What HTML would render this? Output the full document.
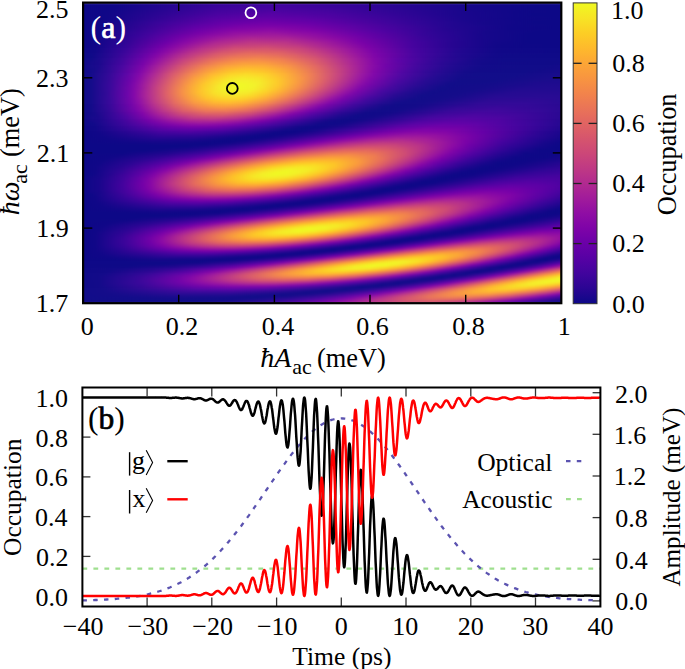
<!DOCTYPE html>
<html><head><meta charset="utf-8"><style>html,body{margin:0;padding:0;background:#fff;overflow:hidden;width:685px;height:669px;}svg{display:block;}</style></head>
<body><svg width="685" height="669" viewBox="0 0 685 669">
<defs><linearGradient id="h0"><stop offset="0" stop-color="#0d0887"/><stop offset=".067" stop-color="#100788"/><stop offset=".3" stop-color="#38049a"/><stop offset=".433" stop-color="#3e049c"/><stop offset=".683" stop-color="#240691"/><stop offset=".842" stop-color="#130789"/><stop offset=".967" stop-color="#0d0887"/><stop offset="1" stop-color="#0d0887"/></linearGradient><linearGradient id="h1"><stop offset="0" stop-color="#0d0887"/><stop offset=".067" stop-color="#100788"/><stop offset=".275" stop-color="#38049a"/><stop offset=".4" stop-color="#41049d"/><stop offset=".55" stop-color="#370499"/><stop offset=".808" stop-color="#16078a"/><stop offset=".95" stop-color="#0d0887"/><stop offset="1" stop-color="#0d0887"/></linearGradient><linearGradient id="h2"><stop offset="0" stop-color="#0d0887"/><stop offset=".067" stop-color="#100788"/><stop offset=".283" stop-color="#3e049c"/><stop offset=".417" stop-color="#46039f"/><stop offset=".583" stop-color="#350498"/><stop offset=".817" stop-color="#16078a"/><stop offset=".958" stop-color="#0d0887"/><stop offset="1" stop-color="#0d0887"/></linearGradient><linearGradient id="h3"><stop offset="0" stop-color="#0d0887"/><stop offset=".058" stop-color="#100788"/><stop offset=".292" stop-color="#43039e"/><stop offset=".408" stop-color="#4903a0"/><stop offset=".525" stop-color="#41049d"/><stop offset=".792" stop-color="#19068c"/><stop offset=".95" stop-color="#0d0887"/><stop offset="1" stop-color="#0d0887"/></linearGradient><linearGradient id="h4"><stop offset="0" stop-color="#0d0887"/><stop offset=".058" stop-color="#100788"/><stop offset=".275" stop-color="#44039e"/><stop offset=".392" stop-color="#4e02a2"/><stop offset=".492" stop-color="#4903a0"/><stop offset=".8" stop-color="#19068c"/><stop offset=".9" stop-color="#100788"/><stop offset="1" stop-color="#0d0887"/></linearGradient><linearGradient id="h5"><stop offset="0" stop-color="#0d0887"/><stop offset=".05" stop-color="#100788"/><stop offset=".283" stop-color="#4903a0"/><stop offset=".392" stop-color="#5502a4"/><stop offset=".517" stop-color="#4903a0"/><stop offset=".783" stop-color="#1b068d"/><stop offset=".942" stop-color="#0d0887"/><stop offset="1" stop-color="#0d0887"/></linearGradient><linearGradient id="h6"><stop offset="0" stop-color="#0d0887"/><stop offset=".05" stop-color="#100788"/><stop offset=".283" stop-color="#4e02a2"/><stop offset=".392" stop-color="#5901a5"/><stop offset=".517" stop-color="#4e02a2"/><stop offset=".783" stop-color="#1b068d"/><stop offset=".942" stop-color="#0d0887"/><stop offset="1" stop-color="#0d0887"/></linearGradient><linearGradient id="h7"><stop offset="0" stop-color="#0d0887"/><stop offset=".05" stop-color="#100788"/><stop offset=".267" stop-color="#5002a2"/><stop offset=".358" stop-color="#5e01a6"/><stop offset=".45" stop-color="#5c01a6"/><stop offset=".625" stop-color="#3c049b"/><stop offset=".792" stop-color="#1b068d"/><stop offset=".9" stop-color="#100788"/><stop offset="1" stop-color="#0d0887"/></linearGradient><linearGradient id="h8"><stop offset="0" stop-color="#0d0887"/><stop offset=".05" stop-color="#100788"/><stop offset=".275" stop-color="#5801a4"/><stop offset=".383" stop-color="#6600a7"/><stop offset=".492" stop-color="#5c01a6"/><stop offset=".792" stop-color="#1b068d"/><stop offset=".9" stop-color="#100788"/><stop offset="1" stop-color="#0d0887"/></linearGradient><linearGradient id="h9"><stop offset="0" stop-color="#0d0887"/><stop offset=".042" stop-color="#100788"/><stop offset=".158" stop-color="#370499"/><stop offset=".292" stop-color="#6100a7"/><stop offset=".383" stop-color="#6c00a8"/><stop offset=".475" stop-color="#6400a7"/><stop offset=".642" stop-color="#3e049c"/><stop offset=".8" stop-color="#1b068d"/><stop offset=".942" stop-color="#0d0887"/><stop offset="1" stop-color="#0d0887"/></linearGradient><linearGradient id="h10"><stop offset="0" stop-color="#0d0887"/><stop offset=".042" stop-color="#100788"/><stop offset=".183" stop-color="#44039e"/><stop offset=".292" stop-color="#6700a8"/><stop offset=".383" stop-color="#7401a8"/><stop offset=".483" stop-color="#6900a8"/><stop offset=".7" stop-color="#310597"/><stop offset=".833" stop-color="#16078a"/><stop offset=".95" stop-color="#0d0887"/><stop offset="1" stop-color="#0d0887"/></linearGradient><linearGradient id="h11"><stop offset="0" stop-color="#0d0887"/><stop offset=".042" stop-color="#100788"/><stop offset=".25" stop-color="#6100a7"/><stop offset=".342" stop-color="#7801a8"/><stop offset=".442" stop-color="#7701a8"/><stop offset=".55" stop-color="#5e01a6"/><stop offset=".767" stop-color="#220690"/><stop offset=".9" stop-color="#100788"/><stop offset="1" stop-color="#0d0887"/></linearGradient><linearGradient id="h12"><stop offset="0" stop-color="#0d0887"/><stop offset=".042" stop-color="#100788"/><stop offset=".233" stop-color="#6100a7"/><stop offset=".317" stop-color="#7b02a8"/><stop offset=".392" stop-color="#8305a7"/><stop offset=".475" stop-color="#7801a8"/><stop offset=".642" stop-color="#46039f"/><stop offset=".775" stop-color="#220690"/><stop offset=".9" stop-color="#100788"/><stop offset="1" stop-color="#0d0887"/></linearGradient><linearGradient id="h13"><stop offset="0" stop-color="#0d0887"/><stop offset=".033" stop-color="#100788"/><stop offset=".1" stop-color="#2a0593"/><stop offset=".233" stop-color="#6700a8"/><stop offset=".308" stop-color="#8104a7"/><stop offset=".392" stop-color="#8a09a5"/><stop offset=".475" stop-color="#7e03a8"/><stop offset=".6" stop-color="#5601a4"/><stop offset=".758" stop-color="#260591"/><stop offset=".892" stop-color="#100788"/><stop offset="1" stop-color="#0d0887"/></linearGradient><linearGradient id="h14"><stop offset="0" stop-color="#0d0887"/><stop offset=".033" stop-color="#100788"/><stop offset=".142" stop-color="#3f049c"/><stop offset=".242" stop-color="#7201a8"/><stop offset=".317" stop-color="#8b0aa5"/><stop offset=".392" stop-color="#920fa3"/><stop offset=".492" stop-color="#8104a7"/><stop offset=".625" stop-color="#5102a3"/><stop offset=".742" stop-color="#2c0594"/><stop offset=".842" stop-color="#16078a"/><stop offset=".95" stop-color="#0d0887"/><stop offset="1" stop-color="#0d0887"/></linearGradient><linearGradient id="h15"><stop offset="0" stop-color="#0d0887"/><stop offset=".033" stop-color="#100788"/><stop offset=".15" stop-color="#48039f"/><stop offset=".242" stop-color="#7801a8"/><stop offset=".317" stop-color="#9410a2"/><stop offset=".392" stop-color="#9a169f"/><stop offset=".475" stop-color="#8d0ba5"/><stop offset=".575" stop-color="#6900a8"/><stop offset=".717" stop-color="#330597"/><stop offset=".842" stop-color="#16078a"/><stop offset=".933" stop-color="#0d0887"/><stop offset="1" stop-color="#0d0887"/></linearGradient><linearGradient id="h16"><stop offset="0" stop-color="#0d0887"/><stop offset=".033" stop-color="#100788"/><stop offset=".117" stop-color="#38049a"/><stop offset=".208" stop-color="#6f00a8"/><stop offset=".267" stop-color="#8b0aa5"/><stop offset=".333" stop-color="#9e199d"/><stop offset=".408" stop-color="#a11b9b"/><stop offset=".492" stop-color="#8e0ca4"/><stop offset=".575" stop-color="#6e00a8"/><stop offset=".708" stop-color="#370499"/><stop offset=".825" stop-color="#19068c"/><stop offset=".933" stop-color="#0d0887"/><stop offset="1" stop-color="#0d0887"/></linearGradient><linearGradient id="h17"><stop offset="0" stop-color="#0d0887"/><stop offset=".033" stop-color="#100788"/><stop offset=".125" stop-color="#41049d"/><stop offset=".208" stop-color="#7501a8"/><stop offset=".283" stop-color="#9a169f"/><stop offset=".35" stop-color="#aa2395"/><stop offset=".425" stop-color="#a72197"/><stop offset=".533" stop-color="#8606a6"/><stop offset=".617" stop-color="#5e01a6"/><stop offset=".742" stop-color="#2e0595"/><stop offset=".842" stop-color="#16078a"/><stop offset=".933" stop-color="#0d0887"/><stop offset="1" stop-color="#0d0887"/></linearGradient><linearGradient id="h18"><stop offset="0" stop-color="#0d0887"/><stop offset=".025" stop-color="#100788"/><stop offset=".083" stop-color="#2a0593"/><stop offset=".183" stop-color="#6a00a8"/><stop offset=".233" stop-color="#8b0aa5"/><stop offset=".3" stop-color="#a72197"/><stop offset=".358" stop-color="#b22b8f"/><stop offset=".433" stop-color="#ad2793"/><stop offset=".517" stop-color="#920fa3"/><stop offset=".575" stop-color="#7701a8"/><stop offset=".708" stop-color="#3a049a"/><stop offset=".825" stop-color="#19068c"/><stop offset=".933" stop-color="#0d0887"/><stop offset="1" stop-color="#0d0887"/></linearGradient><linearGradient id="h19"><stop offset="0" stop-color="#0d0887"/><stop offset=".025" stop-color="#100788"/><stop offset=".083" stop-color="#2c0594"/><stop offset=".175" stop-color="#6a00a8"/><stop offset=".217" stop-color="#8808a6"/><stop offset=".283" stop-color="#ab2494"/><stop offset=".35" stop-color="#ba3388"/><stop offset=".425" stop-color="#b6308b"/><stop offset=".517" stop-color="#99159f"/><stop offset=".575" stop-color="#7b02a8"/><stop offset=".692" stop-color="#43039e"/><stop offset=".775" stop-color="#260591"/><stop offset=".858" stop-color="#130789"/><stop offset=".933" stop-color="#0d0887"/><stop offset="1" stop-color="#0d0887"/></linearGradient><linearGradient id="h20"><stop offset="0" stop-color="#0d0887"/><stop offset=".025" stop-color="#100788"/><stop offset=".092" stop-color="#330597"/><stop offset=".175" stop-color="#7100a8"/><stop offset=".217" stop-color="#8f0da4"/><stop offset=".275" stop-color="#b02991"/><stop offset=".35" stop-color="#c13b82"/><stop offset=".417" stop-color="#bf3984"/><stop offset=".492" stop-color="#aa2395"/><stop offset=".583" stop-color="#7b02a8"/><stop offset=".683" stop-color="#48039f"/><stop offset=".767" stop-color="#280592"/><stop offset=".858" stop-color="#130789"/><stop offset=".933" stop-color="#0d0887"/><stop offset="1" stop-color="#0d0887"/></linearGradient><linearGradient id="h21"><stop offset="0" stop-color="#0d0887"/><stop offset=".025" stop-color="#100788"/><stop offset=".083" stop-color="#2f0596"/><stop offset=".167" stop-color="#7100a8"/><stop offset=".2" stop-color="#8b0aa5"/><stop offset=".258" stop-color="#b02991"/><stop offset=".317" stop-color="#c43e7f"/><stop offset=".383" stop-color="#c9447a"/><stop offset=".45" stop-color="#be3885"/><stop offset=".533" stop-color="#9c179e"/><stop offset=".592" stop-color="#7b02a8"/><stop offset=".692" stop-color="#44039e"/><stop offset=".775" stop-color="#260591"/><stop offset=".867" stop-color="#100788"/><stop offset="1" stop-color="#0d0887"/></linearGradient><linearGradient id="h22"><stop offset="0" stop-color="#0d0887"/><stop offset=".025" stop-color="#100788"/><stop offset=".092" stop-color="#38049a"/><stop offset=".158" stop-color="#6f00a8"/><stop offset=".192" stop-color="#8b0aa5"/><stop offset=".25" stop-color="#b32c8e"/><stop offset=".317" stop-color="#cc4778"/><stop offset=".383" stop-color="#d04d73"/><stop offset=".45" stop-color="#c5407e"/><stop offset=".525" stop-color="#a62098"/><stop offset=".592" stop-color="#7e03a8"/><stop offset=".683" stop-color="#4903a0"/><stop offset=".767" stop-color="#280592"/><stop offset=".85" stop-color="#130789"/><stop offset=".925" stop-color="#0d0887"/><stop offset="1" stop-color="#0d0887"/></linearGradient><linearGradient id="h23"><stop offset="0" stop-color="#0d0887"/><stop offset=".025" stop-color="#100788"/><stop offset=".092" stop-color="#3a049a"/><stop offset=".158" stop-color="#7501a8"/><stop offset=".192" stop-color="#920fa3"/><stop offset=".25" stop-color="#bb3488"/><stop offset=".317" stop-color="#d35171"/><stop offset=".383" stop-color="#d7566c"/><stop offset=".458" stop-color="#c9447a"/><stop offset=".542" stop-color="#a21d9a"/><stop offset=".6" stop-color="#7d03a8"/><stop offset=".692" stop-color="#46039f"/><stop offset=".792" stop-color="#20068f"/><stop offset=".867" stop-color="#100788"/><stop offset="1" stop-color="#0d0887"/></linearGradient><linearGradient id="h24"><stop offset="0" stop-color="#0d0887"/><stop offset=".025" stop-color="#100788"/><stop offset=".083" stop-color="#370499"/><stop offset=".15" stop-color="#7201a8"/><stop offset=".175" stop-color="#8a09a5"/><stop offset=".225" stop-color="#b32c8e"/><stop offset=".292" stop-color="#d35171"/><stop offset=".35" stop-color="#de5f65"/><stop offset=".417" stop-color="#da5a6a"/><stop offset=".492" stop-color="#c13b82"/><stop offset=".567" stop-color="#9613a1"/><stop offset=".608" stop-color="#7a02a8"/><stop offset=".7" stop-color="#43039e"/><stop offset=".783" stop-color="#220690"/><stop offset=".867" stop-color="#100788"/><stop offset="1" stop-color="#0d0887"/></linearGradient><linearGradient id="h25"><stop offset="0" stop-color="#0d0887"/><stop offset=".025" stop-color="#100788"/><stop offset=".092" stop-color="#3f049c"/><stop offset=".15" stop-color="#7801a8"/><stop offset=".175" stop-color="#910ea3"/><stop offset=".225" stop-color="#ba3388"/><stop offset=".283" stop-color="#d7566c"/><stop offset=".342" stop-color="#e4695e"/><stop offset=".408" stop-color="#e16462"/><stop offset=".483" stop-color="#ca457a"/><stop offset=".558" stop-color="#a01a9c"/><stop offset=".608" stop-color="#7d03a8"/><stop offset=".692" stop-color="#48039f"/><stop offset=".775" stop-color="#240691"/><stop offset=".858" stop-color="#100788"/><stop offset="1" stop-color="#0d0887"/></linearGradient><linearGradient id="h26"><stop offset="0" stop-color="#0d0887"/><stop offset=".017" stop-color="#0d0887"/><stop offset=".075" stop-color="#330597"/><stop offset=".133" stop-color="#6c00a8"/><stop offset=".158" stop-color="#8606a6"/><stop offset=".208" stop-color="#b52f8c"/><stop offset=".275" stop-color="#da5b69"/><stop offset=".325" stop-color="#e76f5a"/><stop offset=".375" stop-color="#ea7457"/><stop offset=".442" stop-color="#de6164"/><stop offset=".517" stop-color="#be3885"/><stop offset=".583" stop-color="#910ea3"/><stop offset=".617" stop-color="#7801a8"/><stop offset=".7" stop-color="#43039e"/><stop offset=".792" stop-color="#1d068e"/><stop offset=".883" stop-color="#0d0887"/><stop offset="1" stop-color="#0d0887"/></linearGradient><linearGradient id="h27"><stop offset="0" stop-color="#0d0887"/><stop offset=".017" stop-color="#0d0887"/><stop offset=".058" stop-color="#280592"/><stop offset=".117" stop-color="#5e01a6"/><stop offset=".15" stop-color="#8305a7"/><stop offset=".192" stop-color="#ad2793"/><stop offset=".242" stop-color="#d24f71"/><stop offset=".308" stop-color="#eb7556"/><stop offset=".367" stop-color="#ef7e50"/><stop offset=".408" stop-color="#eb7655"/><stop offset=".483" stop-color="#d45270"/><stop offset=".567" stop-color="#a11b9b"/><stop offset=".608" stop-color="#8004a8"/><stop offset=".683" stop-color="#4c02a1"/><stop offset=".758" stop-color="#280592"/><stop offset=".85" stop-color="#100788"/><stop offset="1" stop-color="#0d0887"/></linearGradient><linearGradient id="h28"><stop offset="0" stop-color="#0d0887"/><stop offset=".017" stop-color="#0d0887"/><stop offset=".083" stop-color="#3f049c"/><stop offset=".133" stop-color="#7501a8"/><stop offset=".158" stop-color="#920fa3"/><stop offset=".208" stop-color="#c23c81"/><stop offset=".267" stop-color="#e4695e"/><stop offset=".317" stop-color="#f1814d"/><stop offset=".358" stop-color="#f48948"/><stop offset=".417" stop-color="#ef7c51"/><stop offset=".492" stop-color="#d45270"/><stop offset=".567" stop-color="#a31e9a"/><stop offset=".608" stop-color="#8305a7"/><stop offset=".658" stop-color="#5c01a6"/><stop offset=".742" stop-color="#2e0595"/><stop offset=".825" stop-color="#130789"/><stop offset=".883" stop-color="#0d0887"/><stop offset="1" stop-color="#0d0887"/></linearGradient><linearGradient id="h29"><stop offset="0" stop-color="#0d0887"/><stop offset=".033" stop-color="#19068c"/><stop offset=".075" stop-color="#3a049a"/><stop offset=".125" stop-color="#7100a8"/><stop offset=".15" stop-color="#8e0ca4"/><stop offset=".208" stop-color="#c8437b"/><stop offset=".267" stop-color="#e97257"/><stop offset=".317" stop-color="#f68d45"/><stop offset=".367" stop-color="#f89441"/><stop offset=".417" stop-color="#f2844b"/><stop offset=".483" stop-color="#db5c68"/><stop offset=".558" stop-color="#ac2694"/><stop offset=".608" stop-color="#8305a7"/><stop offset=".658" stop-color="#5c01a6"/><stop offset=".725" stop-color="#350498"/><stop offset=".817" stop-color="#130789"/><stop offset=".875" stop-color="#0d0887"/><stop offset="1" stop-color="#0d0887"/></linearGradient><linearGradient id="h30"><stop offset="0" stop-color="#0d0887"/><stop offset=".033" stop-color="#19068c"/><stop offset=".083" stop-color="#44039e"/><stop offset=".125" stop-color="#7501a8"/><stop offset=".142" stop-color="#8a09a5"/><stop offset=".175" stop-color="#b02991"/><stop offset=".225" stop-color="#da5a6a"/><stop offset=".283" stop-color="#f48849"/><stop offset=".333" stop-color="#fa9e3b"/><stop offset=".383" stop-color="#fa9b3d"/><stop offset=".442" stop-color="#f07f4f"/><stop offset=".508" stop-color="#d14e72"/><stop offset=".575" stop-color="#a11b9b"/><stop offset=".617" stop-color="#7d03a8"/><stop offset=".683" stop-color="#4b03a1"/><stop offset=".758" stop-color="#240691"/><stop offset=".833" stop-color="#100788"/><stop offset=".983" stop-color="#0d0887"/><stop offset="1" stop-color="#0d0887"/></linearGradient><linearGradient id="h31"><stop offset="0" stop-color="#0d0887"/><stop offset=".033" stop-color="#19068c"/><stop offset=".083" stop-color="#46039f"/><stop offset=".125" stop-color="#7801a8"/><stop offset=".15" stop-color="#99159f"/><stop offset=".2" stop-color="#cc4977"/><stop offset=".25" stop-color="#ed7953"/><stop offset=".3" stop-color="#fa9c3c"/><stop offset=".342" stop-color="#fca934"/><stop offset=".375" stop-color="#fca835"/><stop offset=".425" stop-color="#f79143"/><stop offset=".483" stop-color="#e26660"/><stop offset=".558" stop-color="#b02991"/><stop offset=".6" stop-color="#8b0aa5"/><stop offset=".633" stop-color="#6e00a8"/><stop offset=".708" stop-color="#3a049a"/><stop offset=".783" stop-color="#1b068d"/><stop offset=".85" stop-color="#0d0887"/><stop offset=".975" stop-color="#0d0887"/><stop offset="1" stop-color="#100788"/></linearGradient><linearGradient id="h32"><stop offset="0" stop-color="#0d0887"/><stop offset=".033" stop-color="#19068c"/><stop offset=".083" stop-color="#4903a0"/><stop offset=".125" stop-color="#7d03a8"/><stop offset=".158" stop-color="#a82296"/><stop offset=".208" stop-color="#d9586a"/><stop offset=".258" stop-color="#f48948"/><stop offset=".3" stop-color="#fca835"/><stop offset=".342" stop-color="#fdb52e"/><stop offset=".383" stop-color="#fdaf31"/><stop offset=".433" stop-color="#f79342"/><stop offset=".492" stop-color="#e06363"/><stop offset=".558" stop-color="#b12a90"/><stop offset=".6" stop-color="#8b0aa5"/><stop offset=".633" stop-color="#6e00a8"/><stop offset=".692" stop-color="#43039e"/><stop offset=".758" stop-color="#220690"/><stop offset=".817" stop-color="#100788"/><stop offset=".958" stop-color="#0d0887"/><stop offset="1" stop-color="#100788"/></linearGradient><linearGradient id="h33"><stop offset="0" stop-color="#0d0887"/><stop offset=".025" stop-color="#130789"/><stop offset=".075" stop-color="#41049d"/><stop offset=".117" stop-color="#7501a8"/><stop offset=".133" stop-color="#8d0ba5"/><stop offset=".167" stop-color="#b6308b"/><stop offset=".217" stop-color="#e3685f"/><stop offset=".258" stop-color="#f79342"/><stop offset=".3" stop-color="#fdb22f"/><stop offset=".333" stop-color="#fec029"/><stop offset=".375" stop-color="#febb2b"/><stop offset=".417" stop-color="#fca636"/><stop offset=".475" stop-color="#eb7556"/><stop offset=".542" stop-color="#c03a83"/><stop offset=".592" stop-color="#920fa3"/><stop offset=".617" stop-color="#7b02a8"/><stop offset=".683" stop-color="#46039f"/><stop offset=".758" stop-color="#20068f"/><stop offset=".833" stop-color="#0d0887"/><stop offset=".942" stop-color="#0d0887"/><stop offset="1" stop-color="#100788"/></linearGradient><linearGradient id="h34"><stop offset="0" stop-color="#0d0887"/><stop offset=".017" stop-color="#100788"/><stop offset=".058" stop-color="#310597"/><stop offset=".108" stop-color="#6e00a8"/><stop offset=".125" stop-color="#8606a6"/><stop offset=".15" stop-color="#a72197"/><stop offset=".192" stop-color="#d5536f"/><stop offset=".242" stop-color="#f58b47"/><stop offset=".283" stop-color="#fdb22f"/><stop offset=".317" stop-color="#fdc627"/><stop offset=".35" stop-color="#fdcb26"/><stop offset=".392" stop-color="#febd2a"/><stop offset=".442" stop-color="#f9983e"/><stop offset=".5" stop-color="#de6164"/><stop offset=".567" stop-color="#aa2395"/><stop offset=".608" stop-color="#8104a7"/><stop offset=".658" stop-color="#5601a4"/><stop offset=".717" stop-color="#2f0596"/><stop offset=".8" stop-color="#100788"/><stop offset=".925" stop-color="#0d0887"/><stop offset="1" stop-color="#130789"/></linearGradient><linearGradient id="h35"><stop offset="0" stop-color="#0d0887"/><stop offset=".017" stop-color="#100788"/><stop offset=".05" stop-color="#2a0593"/><stop offset=".092" stop-color="#5901a5"/><stop offset=".117" stop-color="#7d03a8"/><stop offset=".142" stop-color="#a11b9b"/><stop offset=".183" stop-color="#d14e72"/><stop offset=".225" stop-color="#f0804e"/><stop offset=".267" stop-color="#fdae32"/><stop offset=".308" stop-color="#fccd25"/><stop offset=".342" stop-color="#fbd524"/><stop offset=".375" stop-color="#fcce25"/><stop offset=".417" stop-color="#fdb22f"/><stop offset=".467" stop-color="#f1834c"/><stop offset=".525" stop-color="#cd4a76"/><stop offset=".583" stop-color="#99159f"/><stop offset=".608" stop-color="#8004a8"/><stop offset=".667" stop-color="#4c02a1"/><stop offset=".725" stop-color="#2a0593"/><stop offset=".783" stop-color="#130789"/><stop offset=".825" stop-color="#0d0887"/><stop offset=".908" stop-color="#0d0887"/><stop offset="1" stop-color="#130789"/></linearGradient><linearGradient id="h36"><stop offset="0" stop-color="#0d0887"/><stop offset=".017" stop-color="#100788"/><stop offset=".05" stop-color="#2c0594"/><stop offset=".083" stop-color="#5102a3"/><stop offset=".117" stop-color="#8004a8"/><stop offset=".142" stop-color="#a51f99"/><stop offset=".183" stop-color="#d5536f"/><stop offset=".225" stop-color="#f3874a"/><stop offset=".267" stop-color="#feb72d"/><stop offset=".308" stop-color="#fbd724"/><stop offset=".342" stop-color="#f8df25"/><stop offset=".383" stop-color="#fcd225"/><stop offset=".425" stop-color="#fdaf31"/><stop offset=".475" stop-color="#ef7c51"/><stop offset=".533" stop-color="#c6417d"/><stop offset=".583" stop-color="#9613a1"/><stop offset=".608" stop-color="#7d03a8"/><stop offset=".667" stop-color="#4903a0"/><stop offset=".742" stop-color="#20068f"/><stop offset=".8" stop-color="#0d0887"/><stop offset=".9" stop-color="#0d0887"/><stop offset=".975" stop-color="#130789"/><stop offset="1" stop-color="#130789"/></linearGradient><linearGradient id="h37"><stop offset="0" stop-color="#0d0887"/><stop offset=".017" stop-color="#100788"/><stop offset=".058" stop-color="#350498"/><stop offset=".1" stop-color="#6a00a8"/><stop offset=".117" stop-color="#8405a7"/><stop offset=".142" stop-color="#a82296"/><stop offset=".192" stop-color="#e06363"/><stop offset=".233" stop-color="#f9983e"/><stop offset=".275" stop-color="#fdc827"/><stop offset=".308" stop-color="#f8df25"/><stop offset=".333" stop-color="#f6e626"/><stop offset=".367" stop-color="#f8e125"/><stop offset=".408" stop-color="#fdc328"/><stop offset=".458" stop-color="#f79044"/><stop offset=".508" stop-color="#da5a6a"/><stop offset=".575" stop-color="#9d189d"/><stop offset=".6" stop-color="#8305a7"/><stop offset=".642" stop-color="#5b01a5"/><stop offset=".692" stop-color="#370499"/><stop offset=".742" stop-color="#1d068e"/><stop offset=".783" stop-color="#100788"/><stop offset=".883" stop-color="#0d0887"/><stop offset=".992" stop-color="#16078a"/><stop offset="1" stop-color="#16078a"/></linearGradient><linearGradient id="h38"><stop offset="0" stop-color="#0d0887"/><stop offset=".017" stop-color="#100788"/><stop offset=".058" stop-color="#350498"/><stop offset=".1" stop-color="#6c00a8"/><stop offset=".117" stop-color="#8606a6"/><stop offset=".15" stop-color="#b6308b"/><stop offset=".192" stop-color="#e3685f"/><stop offset=".233" stop-color="#fb9f3a"/><stop offset=".267" stop-color="#fdc627"/><stop offset=".3" stop-color="#f7e225"/><stop offset=".333" stop-color="#f3ee27"/><stop offset=".367" stop-color="#f6e626"/><stop offset=".408" stop-color="#fdc627"/><stop offset=".458" stop-color="#f79044"/><stop offset=".517" stop-color="#d24f71"/><stop offset=".575" stop-color="#99159f"/><stop offset=".6" stop-color="#7e03a8"/><stop offset=".658" stop-color="#4903a0"/><stop offset=".725" stop-color="#220690"/><stop offset=".792" stop-color="#0d0887"/><stop offset=".867" stop-color="#0d0887"/><stop offset=".975" stop-color="#16078a"/><stop offset="1" stop-color="#16078a"/></linearGradient><linearGradient id="h39"><stop offset="0" stop-color="#0d0887"/><stop offset=".017" stop-color="#100788"/><stop offset=".05" stop-color="#2e0595"/><stop offset=".092" stop-color="#6300a7"/><stop offset=".108" stop-color="#7b02a8"/><stop offset=".125" stop-color="#9613a1"/><stop offset=".167" stop-color="#cd4a76"/><stop offset=".208" stop-color="#f1834c"/><stop offset=".242" stop-color="#fdb130"/><stop offset=".275" stop-color="#fbd724"/><stop offset=".308" stop-color="#f3ee27"/><stop offset=".342" stop-color="#f2f227"/><stop offset=".367" stop-color="#f5e926"/><stop offset=".4" stop-color="#fcd025"/><stop offset=".442" stop-color="#fba238"/><stop offset=".492" stop-color="#e3685f"/><stop offset=".55" stop-color="#b12a90"/><stop offset=".583" stop-color="#8d0ba5"/><stop offset=".608" stop-color="#7201a8"/><stop offset=".658" stop-color="#46039f"/><stop offset=".717" stop-color="#220690"/><stop offset=".783" stop-color="#0d0887"/><stop offset=".858" stop-color="#0d0887"/><stop offset=".942" stop-color="#16078a"/><stop offset="1" stop-color="#19068c"/></linearGradient><linearGradient id="h40"><stop offset="0" stop-color="#0d0887"/><stop offset=".017" stop-color="#100788"/><stop offset=".058" stop-color="#370499"/><stop offset=".1" stop-color="#7100a8"/><stop offset=".117" stop-color="#8b0aa5"/><stop offset=".15" stop-color="#bc3587"/><stop offset=".192" stop-color="#e76f5a"/><stop offset=".225" stop-color="#fa9e3b"/><stop offset=".258" stop-color="#fdca26"/><stop offset=".292" stop-color="#f5e926"/><stop offset=".325" stop-color="#f0f724"/><stop offset=".367" stop-color="#f4ed27"/><stop offset=".408" stop-color="#fdc827"/><stop offset=".45" stop-color="#f9973f"/><stop offset=".5" stop-color="#db5c68"/><stop offset=".567" stop-color="#9a169f"/><stop offset=".592" stop-color="#7e03a8"/><stop offset=".65" stop-color="#48039f"/><stop offset=".7" stop-color="#280592"/><stop offset=".767" stop-color="#0d0887"/><stop offset=".842" stop-color="#0d0887"/><stop offset=".95" stop-color="#19068c"/><stop offset="1" stop-color="#19068c"/></linearGradient><linearGradient id="h41"><stop offset="0" stop-color="#0d0887"/><stop offset=".017" stop-color="#100788"/><stop offset=".058" stop-color="#38049a"/><stop offset=".092" stop-color="#6600a7"/><stop offset=".108" stop-color="#8004a8"/><stop offset=".133" stop-color="#a72197"/><stop offset=".175" stop-color="#da5b69"/><stop offset=".217" stop-color="#f9973f"/><stop offset=".25" stop-color="#fdc527"/><stop offset=".292" stop-color="#f4ed27"/><stop offset=".325" stop-color="#f0f921"/><stop offset=".358" stop-color="#f2f227"/><stop offset=".408" stop-color="#fdc627"/><stop offset=".45" stop-color="#f79342"/><stop offset=".492" stop-color="#de6164"/><stop offset=".542" stop-color="#b12a90"/><stop offset=".575" stop-color="#8b0aa5"/><stop offset=".6" stop-color="#7100a8"/><stop offset=".658" stop-color="#3c049b"/><stop offset=".725" stop-color="#19068c"/><stop offset=".767" stop-color="#0d0887"/><stop offset=".85" stop-color="#100788"/><stop offset=".967" stop-color="#1b068d"/><stop offset="1" stop-color="#1b068d"/></linearGradient><linearGradient id="h42"><stop offset="0" stop-color="#0d0887"/><stop offset=".017" stop-color="#100788"/><stop offset=".058" stop-color="#38049a"/><stop offset=".1" stop-color="#7401a8"/><stop offset=".117" stop-color="#8e0ca4"/><stop offset=".15" stop-color="#c03a83"/><stop offset=".192" stop-color="#eb7556"/><stop offset=".225" stop-color="#fca537"/><stop offset=".25" stop-color="#fdc627"/><stop offset=".283" stop-color="#f5e926"/><stop offset=".317" stop-color="#f0f921"/><stop offset=".35" stop-color="#f1f426"/><stop offset=".375" stop-color="#f7e425"/><stop offset=".408" stop-color="#fdc229"/><stop offset=".45" stop-color="#f68f44"/><stop offset=".5" stop-color="#d5536f"/><stop offset=".558" stop-color="#99159f"/><stop offset=".583" stop-color="#7b02a8"/><stop offset=".642" stop-color="#44039e"/><stop offset=".692" stop-color="#240691"/><stop offset=".75" stop-color="#0d0887"/><stop offset=".842" stop-color="#100788"/><stop offset=".925" stop-color="#1b068d"/><stop offset="1" stop-color="#1d068e"/></linearGradient><linearGradient id="h43"><stop offset="0" stop-color="#0d0887"/><stop offset=".017" stop-color="#100788"/><stop offset=".058" stop-color="#38049a"/><stop offset=".1" stop-color="#7501a8"/><stop offset=".117" stop-color="#8f0da4"/><stop offset=".158" stop-color="#cb4679"/><stop offset=".2" stop-color="#f1834c"/><stop offset=".233" stop-color="#fdb22f"/><stop offset=".258" stop-color="#fcd225"/><stop offset=".292" stop-color="#f3ee27"/><stop offset=".325" stop-color="#f0f921"/><stop offset=".358" stop-color="#f4ed27"/><stop offset=".4" stop-color="#fdc627"/><stop offset=".442" stop-color="#f79342"/><stop offset=".492" stop-color="#d7566c"/><stop offset=".55" stop-color="#9c179e"/><stop offset=".575" stop-color="#7e03a8"/><stop offset=".625" stop-color="#4b03a1"/><stop offset=".692" stop-color="#20068f"/><stop offset=".75" stop-color="#0d0887"/><stop offset=".825" stop-color="#100788"/><stop offset=".917" stop-color="#1d068e"/><stop offset="1" stop-color="#1d068e"/></linearGradient><linearGradient id="h44"><stop offset="0" stop-color="#0d0887"/><stop offset=".017" stop-color="#100788"/><stop offset=".05" stop-color="#2f0596"/><stop offset=".092" stop-color="#6700a8"/><stop offset=".108" stop-color="#8305a7"/><stop offset=".133" stop-color="#ab2494"/><stop offset=".175" stop-color="#de5f65"/><stop offset=".208" stop-color="#f79044"/><stop offset=".242" stop-color="#febe2a"/><stop offset=".275" stop-color="#f7e225"/><stop offset=".308" stop-color="#f1f426"/><stop offset=".35" stop-color="#f4ed27"/><stop offset=".383" stop-color="#fcd225"/><stop offset=".417" stop-color="#fdab33"/><stop offset=".458" stop-color="#eb7655"/><stop offset=".517" stop-color="#ba3388"/><stop offset=".55" stop-color="#9410a2"/><stop offset=".575" stop-color="#7701a8"/><stop offset=".625" stop-color="#44039e"/><stop offset=".692" stop-color="#1b068d"/><stop offset=".733" stop-color="#0d0887"/><stop offset=".808" stop-color="#100788"/><stop offset=".917" stop-color="#20068f"/><stop offset="1" stop-color="#20068f"/></linearGradient><linearGradient id="h45"><stop offset="0" stop-color="#0d0887"/><stop offset=".017" stop-color="#100788"/><stop offset=".05" stop-color="#2f0596"/><stop offset=".092" stop-color="#6900a8"/><stop offset=".108" stop-color="#8305a7"/><stop offset=".133" stop-color="#ab2494"/><stop offset=".175" stop-color="#de5f65"/><stop offset=".208" stop-color="#f68f44"/><stop offset=".242" stop-color="#febd2a"/><stop offset=".275" stop-color="#f8df25"/><stop offset=".308" stop-color="#f3ee27"/><stop offset=".342" stop-color="#f5e926"/><stop offset=".375" stop-color="#fcd025"/><stop offset=".408" stop-color="#fdac33"/><stop offset=".45" stop-color="#ed7953"/><stop offset=".5" stop-color="#c33d80"/><stop offset=".542" stop-color="#9511a1"/><stop offset=".567" stop-color="#7701a8"/><stop offset=".625" stop-color="#3e049c"/><stop offset=".675" stop-color="#1d068e"/><stop offset=".725" stop-color="#0d0887"/><stop offset=".792" stop-color="#100788"/><stop offset=".9" stop-color="#220690"/><stop offset="1" stop-color="#20068f"/></linearGradient><linearGradient id="h46"><stop offset="0" stop-color="#0d0887"/><stop offset=".017" stop-color="#100788"/><stop offset=".05" stop-color="#2f0596"/><stop offset=".092" stop-color="#6900a8"/><stop offset=".108" stop-color="#8305a7"/><stop offset=".133" stop-color="#ab2494"/><stop offset=".175" stop-color="#dd5e66"/><stop offset=".208" stop-color="#f68d45"/><stop offset=".25" stop-color="#fdc328"/><stop offset=".283" stop-color="#f8df25"/><stop offset=".317" stop-color="#f6e826"/><stop offset=".35" stop-color="#f9dc24"/><stop offset=".383" stop-color="#febe2a"/><stop offset=".425" stop-color="#f68d45"/><stop offset=".475" stop-color="#d45270"/><stop offset=".525" stop-color="#a01a9c"/><stop offset=".55" stop-color="#8104a7"/><stop offset=".592" stop-color="#5502a4"/><stop offset=".65" stop-color="#260591"/><stop offset=".708" stop-color="#0d0887"/><stop offset=".783" stop-color="#100788"/><stop offset=".858" stop-color="#20068f"/><stop offset=".967" stop-color="#240691"/><stop offset="1" stop-color="#220690"/></linearGradient><linearGradient id="h47"><stop offset="0" stop-color="#0d0887"/><stop offset=".017" stop-color="#100788"/><stop offset=".05" stop-color="#2f0596"/><stop offset=".092" stop-color="#6700a8"/><stop offset=".108" stop-color="#8305a7"/><stop offset=".133" stop-color="#aa2395"/><stop offset=".175" stop-color="#dc5d67"/><stop offset=".217" stop-color="#f89540"/><stop offset=".258" stop-color="#fdc527"/><stop offset=".292" stop-color="#fada24"/><stop offset=".325" stop-color="#f9dc24"/><stop offset=".358" stop-color="#fdca26"/><stop offset=".4" stop-color="#fb9f3a"/><stop offset=".442" stop-color="#e76e5b"/><stop offset=".492" stop-color="#bc3587"/><stop offset=".525" stop-color="#9511a1"/><stop offset=".55" stop-color="#7701a8"/><stop offset=".6" stop-color="#44039e"/><stop offset=".658" stop-color="#1d068e"/><stop offset=".708" stop-color="#0d0887"/><stop offset=".767" stop-color="#100788"/><stop offset=".867" stop-color="#240691"/><stop offset=".992" stop-color="#240691"/><stop offset="1" stop-color="#220690"/></linearGradient><linearGradient id="h48"><stop offset="0" stop-color="#0d0887"/><stop offset=".017" stop-color="#100788"/><stop offset=".058" stop-color="#38049a"/><stop offset=".1" stop-color="#7401a8"/><stop offset=".117" stop-color="#8f0da4"/><stop offset=".15" stop-color="#bf3984"/><stop offset=".192" stop-color="#e87059"/><stop offset=".225" stop-color="#fa9b3d"/><stop offset=".258" stop-color="#febd2a"/><stop offset=".283" stop-color="#fccd25"/><stop offset=".317" stop-color="#fcd225"/><stop offset=".342" stop-color="#fdc827"/><stop offset=".383" stop-color="#fca537"/><stop offset=".425" stop-color="#eb7655"/><stop offset=".475" stop-color="#c33d80"/><stop offset=".517" stop-color="#9410a2"/><stop offset=".542" stop-color="#7701a8"/><stop offset=".592" stop-color="#43039e"/><stop offset=".65" stop-color="#1b068d"/><stop offset=".692" stop-color="#0d0887"/><stop offset=".75" stop-color="#100788"/><stop offset=".85" stop-color="#260591"/><stop offset=".933" stop-color="#2a0593"/><stop offset="1" stop-color="#240691"/></linearGradient><linearGradient id="h49"><stop offset="0" stop-color="#0d0887"/><stop offset=".017" stop-color="#100788"/><stop offset=".058" stop-color="#38049a"/><stop offset=".1" stop-color="#7201a8"/><stop offset=".117" stop-color="#8d0ba5"/><stop offset=".15" stop-color="#bd3786"/><stop offset=".192" stop-color="#e66c5c"/><stop offset=".233" stop-color="#fa9e3b"/><stop offset=".275" stop-color="#febe2a"/><stop offset=".3" stop-color="#fdc527"/><stop offset=".333" stop-color="#febe2a"/><stop offset=".375" stop-color="#fa9e3b"/><stop offset=".425" stop-color="#e4695e"/><stop offset=".483" stop-color="#b02991"/><stop offset=".517" stop-color="#8808a6"/><stop offset=".542" stop-color="#6a00a8"/><stop offset=".592" stop-color="#3a049a"/><stop offset=".65" stop-color="#16078a"/><stop offset=".683" stop-color="#0d0887"/><stop offset=".733" stop-color="#100788"/><stop offset=".85" stop-color="#2a0593"/><stop offset=".958" stop-color="#2a0593"/><stop offset="1" stop-color="#240691"/></linearGradient><linearGradient id="h50"><stop offset="0" stop-color="#0d0887"/><stop offset=".017" stop-color="#100788"/><stop offset=".058" stop-color="#38049a"/><stop offset=".1" stop-color="#7100a8"/><stop offset=".117" stop-color="#8b0aa5"/><stop offset=".15" stop-color="#ba3388"/><stop offset=".192" stop-color="#e3685f"/><stop offset=".233" stop-color="#f89540"/><stop offset=".275" stop-color="#fdb22f"/><stop offset=".308" stop-color="#feb72d"/><stop offset=".342" stop-color="#fca934"/><stop offset=".392" stop-color="#f07f4f"/><stop offset=".442" stop-color="#cd4a76"/><stop offset=".492" stop-color="#99159f"/><stop offset=".517" stop-color="#7b02a8"/><stop offset=".567" stop-color="#46039f"/><stop offset=".617" stop-color="#220690"/><stop offset=".658" stop-color="#0d0887"/><stop offset=".717" stop-color="#100788"/><stop offset=".833" stop-color="#2c0594"/><stop offset=".917" stop-color="#2f0596"/><stop offset="1" stop-color="#260591"/></linearGradient><linearGradient id="h51"><stop offset="0" stop-color="#0d0887"/><stop offset=".017" stop-color="#100788"/><stop offset=".058" stop-color="#370499"/><stop offset=".1" stop-color="#6f00a8"/><stop offset=".117" stop-color="#8808a6"/><stop offset=".15" stop-color="#b6308b"/><stop offset=".192" stop-color="#df6263"/><stop offset=".233" stop-color="#f58b47"/><stop offset=".267" stop-color="#fba238"/><stop offset=".3" stop-color="#fca835"/><stop offset=".333" stop-color="#fa9e3b"/><stop offset=".383" stop-color="#ec7754"/><stop offset=".433" stop-color="#ca457a"/><stop offset=".483" stop-color="#9511a1"/><stop offset=".508" stop-color="#7701a8"/><stop offset=".567" stop-color="#3c049b"/><stop offset=".625" stop-color="#16078a"/><stop offset=".658" stop-color="#0d0887"/><stop offset=".7" stop-color="#100788"/><stop offset=".825" stop-color="#2f0596"/><stop offset=".925" stop-color="#310597"/><stop offset="1" stop-color="#260591"/></linearGradient><linearGradient id="h52"><stop offset="0" stop-color="#0d0887"/><stop offset=".017" stop-color="#100788"/><stop offset=".05" stop-color="#2e0595"/><stop offset=".092" stop-color="#6001a6"/><stop offset=".117" stop-color="#8405a7"/><stop offset=".15" stop-color="#b22b8f"/><stop offset=".192" stop-color="#da5b69"/><stop offset=".242" stop-color="#f3874a"/><stop offset=".283" stop-color="#f9983e"/><stop offset=".317" stop-color="#f89441"/><stop offset=".358" stop-color="#ef7c51"/><stop offset=".408" stop-color="#d24f71"/><stop offset=".458" stop-color="#a31e9a"/><stop offset=".492" stop-color="#7d03a8"/><stop offset=".542" stop-color="#48039f"/><stop offset=".592" stop-color="#220690"/><stop offset=".633" stop-color="#0d0887"/><stop offset=".692" stop-color="#100788"/><stop offset=".783" stop-color="#2c0594"/><stop offset=".867" stop-color="#370499"/><stop offset=".983" stop-color="#2a0593"/><stop offset="1" stop-color="#280592"/></linearGradient><linearGradient id="h53"><stop offset="0" stop-color="#0d0887"/><stop offset=".017" stop-color="#100788"/><stop offset=".058" stop-color="#350498"/><stop offset=".108" stop-color="#7501a8"/><stop offset=".125" stop-color="#8d0ba5"/><stop offset=".167" stop-color="#bf3984"/><stop offset=".208" stop-color="#df6263"/><stop offset=".25" stop-color="#f07f4f"/><stop offset=".292" stop-color="#f48849"/><stop offset=".333" stop-color="#ee7b51"/><stop offset=".383" stop-color="#d8576b"/><stop offset=".433" stop-color="#b02991"/><stop offset=".467" stop-color="#8a09a5"/><stop offset=".492" stop-color="#6e00a8"/><stop offset=".55" stop-color="#350498"/><stop offset=".6" stop-color="#16078a"/><stop offset=".633" stop-color="#0d0887"/><stop offset=".675" stop-color="#100788"/><stop offset=".783" stop-color="#330597"/><stop offset=".867" stop-color="#3a049a"/><stop offset=".967" stop-color="#2e0595"/><stop offset="1" stop-color="#280592"/></linearGradient><linearGradient id="h54"><stop offset="0" stop-color="#0d0887"/><stop offset=".017" stop-color="#100788"/><stop offset=".05" stop-color="#2a0593"/><stop offset=".108" stop-color="#7100a8"/><stop offset=".125" stop-color="#8707a6"/><stop offset=".167" stop-color="#b83289"/><stop offset=".208" stop-color="#d9586a"/><stop offset=".258" stop-color="#ea7457"/><stop offset=".3" stop-color="#eb7655"/><stop offset=".342" stop-color="#e26561"/><stop offset=".4" stop-color="#bf3984"/><stop offset=".45" stop-color="#8d0ba5"/><stop offset=".475" stop-color="#7100a8"/><stop offset=".533" stop-color="#370499"/><stop offset=".592" stop-color="#130789"/><stop offset=".617" stop-color="#0d0887"/><stop offset=".658" stop-color="#100788"/><stop offset=".767" stop-color="#350498"/><stop offset=".85" stop-color="#3f049c"/><stop offset=".95" stop-color="#330597"/><stop offset="1" stop-color="#280592"/></linearGradient><linearGradient id="h55"><stop offset="0" stop-color="#0d0887"/><stop offset=".017" stop-color="#100788"/><stop offset=".058" stop-color="#310597"/><stop offset=".108" stop-color="#6c00a8"/><stop offset=".125" stop-color="#8104a7"/><stop offset=".158" stop-color="#aa2395"/><stop offset=".208" stop-color="#d04d73"/><stop offset=".258" stop-color="#e26561"/><stop offset=".3" stop-color="#e26561"/><stop offset=".35" stop-color="#d14e72"/><stop offset=".4" stop-color="#ae2892"/><stop offset=".442" stop-color="#8405a7"/><stop offset=".475" stop-color="#6001a6"/><stop offset=".542" stop-color="#260591"/><stop offset=".592" stop-color="#0d0887"/><stop offset=".642" stop-color="#100788"/><stop offset=".758" stop-color="#3a049a"/><stop offset=".833" stop-color="#44039e"/><stop offset=".917" stop-color="#3a049a"/><stop offset="1" stop-color="#280592"/></linearGradient><linearGradient id="h56"><stop offset="0" stop-color="#0d0887"/><stop offset=".025" stop-color="#130789"/><stop offset=".083" stop-color="#4903a0"/><stop offset=".125" stop-color="#7b02a8"/><stop offset=".158" stop-color="#a11b9b"/><stop offset=".2" stop-color="#c33d80"/><stop offset=".25" stop-color="#d5546e"/><stop offset=".292" stop-color="#d7566c"/><stop offset=".35" stop-color="#c33d80"/><stop offset=".4" stop-color="#9d189d"/><stop offset=".433" stop-color="#7b02a8"/><stop offset=".483" stop-color="#4903a0"/><stop offset=".533" stop-color="#220690"/><stop offset=".575" stop-color="#0d0887"/><stop offset=".625" stop-color="#100788"/><stop offset=".742" stop-color="#3e049c"/><stop offset=".817" stop-color="#4903a0"/><stop offset=".908" stop-color="#3f049c"/><stop offset="1" stop-color="#280592"/></linearGradient><linearGradient id="h57"><stop offset="0" stop-color="#0d0887"/><stop offset=".033" stop-color="#19068c"/><stop offset=".092" stop-color="#4e02a2"/><stop offset=".133" stop-color="#7e03a8"/><stop offset=".183" stop-color="#ad2793"/><stop offset=".233" stop-color="#c7427c"/><stop offset=".283" stop-color="#cb4679"/><stop offset=".333" stop-color="#bc3587"/><stop offset=".383" stop-color="#99159f"/><stop offset=".417" stop-color="#7a02a8"/><stop offset=".475" stop-color="#43039e"/><stop offset=".533" stop-color="#19068c"/><stop offset=".567" stop-color="#0d0887"/><stop offset=".608" stop-color="#100788"/><stop offset=".725" stop-color="#41049d"/><stop offset=".8" stop-color="#4e02a2"/><stop offset=".875" stop-color="#48039f"/><stop offset="1" stop-color="#280592"/></linearGradient><linearGradient id="h58"><stop offset="0" stop-color="#0d0887"/><stop offset=".033" stop-color="#19068c"/><stop offset=".083" stop-color="#43039e"/><stop offset=".133" stop-color="#7501a8"/><stop offset=".175" stop-color="#9c179e"/><stop offset=".225" stop-color="#b7318a"/><stop offset=".267" stop-color="#be3885"/><stop offset=".317" stop-color="#b22b8f"/><stop offset=".367" stop-color="#9410a2"/><stop offset=".4" stop-color="#7701a8"/><stop offset=".467" stop-color="#3a049a"/><stop offset=".517" stop-color="#19068c"/><stop offset=".55" stop-color="#0d0887"/><stop offset=".592" stop-color="#100788"/><stop offset=".725" stop-color="#4903a0"/><stop offset=".792" stop-color="#5502a4"/><stop offset=".867" stop-color="#4c02a1"/><stop offset="1" stop-color="#260591"/></linearGradient><linearGradient id="h59"><stop offset="0" stop-color="#0d0887"/><stop offset=".033" stop-color="#19068c"/><stop offset=".083" stop-color="#3e049c"/><stop offset=".142" stop-color="#7501a8"/><stop offset=".183" stop-color="#9613a1"/><stop offset=".225" stop-color="#aa2395"/><stop offset=".275" stop-color="#ad2793"/><stop offset=".325" stop-color="#9c179e"/><stop offset=".375" stop-color="#7801a8"/><stop offset=".433" stop-color="#46039f"/><stop offset=".508" stop-color="#130789"/><stop offset=".533" stop-color="#0d0887"/><stop offset=".567" stop-color="#100788"/><stop offset=".708" stop-color="#4e02a2"/><stop offset=".783" stop-color="#5b01a5"/><stop offset=".867" stop-color="#5002a2"/><stop offset="1" stop-color="#260591"/></linearGradient><linearGradient id="h60"><stop offset="0" stop-color="#0d0887"/><stop offset=".017" stop-color="#0d0887"/><stop offset=".083" stop-color="#3a049a"/><stop offset=".15" stop-color="#7201a8"/><stop offset=".2" stop-color="#910ea3"/><stop offset=".242" stop-color="#9d189d"/><stop offset=".3" stop-color="#9410a2"/><stop offset=".358" stop-color="#7100a8"/><stop offset=".442" stop-color="#310597"/><stop offset=".492" stop-color="#130789"/><stop offset=".517" stop-color="#0d0887"/><stop offset=".55" stop-color="#100788"/><stop offset=".7" stop-color="#5502a4"/><stop offset=".758" stop-color="#6100a7"/><stop offset=".825" stop-color="#5c01a6"/><stop offset=".942" stop-color="#38049a"/><stop offset="1" stop-color="#240691"/></linearGradient><linearGradient id="h61"><stop offset="0" stop-color="#0d0887"/><stop offset=".025" stop-color="#100788"/><stop offset=".1" stop-color="#43039e"/><stop offset=".175" stop-color="#7701a8"/><stop offset=".217" stop-color="#8707a6"/><stop offset=".258" stop-color="#8a09a5"/><stop offset=".308" stop-color="#7b02a8"/><stop offset=".383" stop-color="#4b03a1"/><stop offset=".45" stop-color="#20068f"/><stop offset=".492" stop-color="#0d0887"/><stop offset=".533" stop-color="#100788"/><stop offset=".683" stop-color="#5b01a5"/><stop offset=".75" stop-color="#6900a8"/><stop offset=".808" stop-color="#6400a7"/><stop offset=".908" stop-color="#44039e"/><stop offset="1" stop-color="#240691"/></linearGradient><linearGradient id="h62"><stop offset="0" stop-color="#0d0887"/><stop offset=".025" stop-color="#100788"/><stop offset=".1" stop-color="#3c049b"/><stop offset=".167" stop-color="#6600a7"/><stop offset=".225" stop-color="#7801a8"/><stop offset=".275" stop-color="#7401a8"/><stop offset=".342" stop-color="#5502a4"/><stop offset=".45" stop-color="#130789"/><stop offset=".475" stop-color="#0d0887"/><stop offset=".508" stop-color="#100788"/><stop offset=".558" stop-color="#260591"/><stop offset=".658" stop-color="#5c01a6"/><stop offset=".725" stop-color="#7100a8"/><stop offset=".792" stop-color="#6e00a8"/><stop offset=".875" stop-color="#5102a3"/><stop offset="1" stop-color="#220690"/></linearGradient><linearGradient id="h63"><stop offset="0" stop-color="#0d0887"/><stop offset=".025" stop-color="#100788"/><stop offset=".108" stop-color="#3c049b"/><stop offset=".183" stop-color="#6001a6"/><stop offset=".242" stop-color="#6600a7"/><stop offset=".292" stop-color="#5b01a5"/><stop offset=".425" stop-color="#16078a"/><stop offset=".458" stop-color="#0d0887"/><stop offset=".492" stop-color="#100788"/><stop offset=".567" stop-color="#38049a"/><stop offset=".658" stop-color="#6a00a8"/><stop offset=".717" stop-color="#7a02a8"/><stop offset=".783" stop-color="#7501a8"/><stop offset=".908" stop-color="#44039e"/><stop offset="1" stop-color="#20068f"/></linearGradient><linearGradient id="h64"><stop offset="0" stop-color="#0d0887"/><stop offset=".025" stop-color="#100788"/><stop offset=".092" stop-color="#2c0594"/><stop offset=".158" stop-color="#4b03a1"/><stop offset=".225" stop-color="#5601a4"/><stop offset=".292" stop-color="#48039f"/><stop offset=".425" stop-color="#0d0887"/><stop offset=".467" stop-color="#100788"/><stop offset=".55" stop-color="#3c049b"/><stop offset=".642" stop-color="#7100a8"/><stop offset=".7" stop-color="#8305a7"/><stop offset=".758" stop-color="#8004a8"/><stop offset=".842" stop-color="#6300a7"/><stop offset=".958" stop-color="#2c0594"/><stop offset="1" stop-color="#1d068e"/></linearGradient><linearGradient id="h65"><stop offset="0" stop-color="#0d0887"/><stop offset=".033" stop-color="#100788"/><stop offset=".158" stop-color="#3f049c"/><stop offset=".217" stop-color="#48039f"/><stop offset=".292" stop-color="#38049a"/><stop offset=".4" stop-color="#0d0887"/><stop offset=".442" stop-color="#100788"/><stop offset=".492" stop-color="#260591"/><stop offset=".592" stop-color="#6600a7"/><stop offset=".642" stop-color="#8004a8"/><stop offset=".692" stop-color="#8d0ba5"/><stop offset=".758" stop-color="#8707a6"/><stop offset=".833" stop-color="#6700a8"/><stop offset=".967" stop-color="#260591"/><stop offset="1" stop-color="#1b068d"/></linearGradient><linearGradient id="h66"><stop offset="0" stop-color="#0d0887"/><stop offset=".033" stop-color="#100788"/><stop offset=".167" stop-color="#370499"/><stop offset=".25" stop-color="#350498"/><stop offset=".375" stop-color="#0d0887"/><stop offset=".417" stop-color="#100788"/><stop offset=".467" stop-color="#260591"/><stop offset=".567" stop-color="#6700a8"/><stop offset=".625" stop-color="#8808a6"/><stop offset=".675" stop-color="#9613a1"/><stop offset=".733" stop-color="#9410a2"/><stop offset=".8" stop-color="#7a02a8"/><stop offset=".892" stop-color="#48039f"/><stop offset=".967" stop-color="#240691"/><stop offset="1" stop-color="#19068c"/></linearGradient><linearGradient id="h67"><stop offset="0" stop-color="#0d0887"/><stop offset=".042" stop-color="#100788"/><stop offset=".158" stop-color="#2c0594"/><stop offset=".233" stop-color="#2a0593"/><stop offset=".308" stop-color="#16078a"/><stop offset=".35" stop-color="#0d0887"/><stop offset=".392" stop-color="#100788"/><stop offset=".45" stop-color="#2a0593"/><stop offset=".542" stop-color="#6a00a8"/><stop offset=".592" stop-color="#8a09a5"/><stop offset=".65" stop-color="#9e199d"/><stop offset=".7" stop-color="#a11b9b"/><stop offset=".758" stop-color="#910ea3"/><stop offset=".817" stop-color="#7201a8"/><stop offset=".925" stop-color="#330597"/><stop offset="1" stop-color="#16078a"/></linearGradient><linearGradient id="h68"><stop offset="0" stop-color="#0d0887"/><stop offset=".05" stop-color="#100788"/><stop offset=".15" stop-color="#220690"/><stop offset=".225" stop-color="#20068f"/><stop offset=".317" stop-color="#0d0887"/><stop offset=".367" stop-color="#100788"/><stop offset=".417" stop-color="#260591"/><stop offset=".5" stop-color="#6001a6"/><stop offset=".55" stop-color="#8405a7"/><stop offset=".608" stop-color="#a21d9a"/><stop offset=".658" stop-color="#ac2694"/><stop offset=".717" stop-color="#a51f99"/><stop offset=".792" stop-color="#8104a7"/><stop offset=".858" stop-color="#5601a4"/><stop offset=".933" stop-color="#2c0594"/><stop offset="1" stop-color="#130789"/></linearGradient><linearGradient id="h69"><stop offset="0" stop-color="#0d0887"/><stop offset=".067" stop-color="#100788"/><stop offset=".142" stop-color="#19068c"/><stop offset=".225" stop-color="#16078a"/><stop offset=".283" stop-color="#0d0887"/><stop offset=".342" stop-color="#100788"/><stop offset=".417" stop-color="#370499"/><stop offset=".5" stop-color="#7401a8"/><stop offset=".542" stop-color="#920fa3"/><stop offset=".6" stop-color="#ae2892"/><stop offset=".667" stop-color="#b6308b"/><stop offset=".733" stop-color="#a31e9a"/><stop offset=".8" stop-color="#7b02a8"/><stop offset=".875" stop-color="#48039f"/><stop offset=".958" stop-color="#1d068e"/><stop offset="1" stop-color="#100788"/></linearGradient><linearGradient id="h70"><stop offset="0" stop-color="#0d0887"/><stop offset=".108" stop-color="#100788"/><stop offset=".175" stop-color="#130789"/><stop offset=".25" stop-color="#0d0887"/><stop offset=".308" stop-color="#100788"/><stop offset=".375" stop-color="#2e0595"/><stop offset=".458" stop-color="#6900a8"/><stop offset=".5" stop-color="#8b0aa5"/><stop offset=".558" stop-color="#b02991"/><stop offset=".625" stop-color="#c13b82"/><stop offset=".683" stop-color="#bb3488"/><stop offset=".75" stop-color="#9d189d"/><stop offset=".8" stop-color="#7a02a8"/><stop offset=".875" stop-color="#43039e"/><stop offset=".967" stop-color="#16078a"/><stop offset="1" stop-color="#0d0887"/></linearGradient><linearGradient id="h71"><stop offset="0" stop-color="#0d0887"/><stop offset=".258" stop-color="#0d0887"/><stop offset=".325" stop-color="#240691"/><stop offset=".392" stop-color="#4b03a1"/><stop offset=".45" stop-color="#7a02a8"/><stop offset=".483" stop-color="#9511a1"/><stop offset=".542" stop-color="#b83289"/><stop offset=".592" stop-color="#c9447a"/><stop offset=".65" stop-color="#c9447a"/><stop offset=".708" stop-color="#b6308b"/><stop offset=".775" stop-color="#8b0aa5"/><stop offset=".808" stop-color="#6f00a8"/><stop offset=".892" stop-color="#350498"/><stop offset=".958" stop-color="#16078a"/><stop offset="1" stop-color="#0d0887"/></linearGradient><linearGradient id="h72"><stop offset="0" stop-color="#0d0887"/><stop offset=".217" stop-color="#0d0887"/><stop offset=".283" stop-color="#20068f"/><stop offset=".35" stop-color="#43039e"/><stop offset=".417" stop-color="#7501a8"/><stop offset=".45" stop-color="#920fa3"/><stop offset=".517" stop-color="#bf3984"/><stop offset=".575" stop-color="#d24f71"/><stop offset=".633" stop-color="#d35171"/><stop offset=".7" stop-color="#bd3786"/><stop offset=".767" stop-color="#8f0da4"/><stop offset=".8" stop-color="#7201a8"/><stop offset=".875" stop-color="#38049a"/><stop offset=".942" stop-color="#19068c"/><stop offset=".983" stop-color="#0d0887"/><stop offset="1" stop-color="#0d0887"/></linearGradient><linearGradient id="h73"><stop offset="0" stop-color="#0d0887"/><stop offset=".167" stop-color="#0d0887"/><stop offset=".242" stop-color="#1d068e"/><stop offset=".317" stop-color="#3f049c"/><stop offset=".392" stop-color="#7801a8"/><stop offset=".425" stop-color="#9613a1"/><stop offset=".492" stop-color="#c43e7f"/><stop offset=".55" stop-color="#da5a6a"/><stop offset=".6" stop-color="#de5f65"/><stop offset=".667" stop-color="#cf4c74"/><stop offset=".725" stop-color="#ae2892"/><stop offset=".775" stop-color="#8405a7"/><stop offset=".817" stop-color="#5e01a6"/><stop offset=".892" stop-color="#2a0593"/><stop offset=".95" stop-color="#100788"/><stop offset="1" stop-color="#0d0887"/></linearGradient><linearGradient id="h74"><stop offset="0" stop-color="#0d0887"/><stop offset=".125" stop-color="#0d0887"/><stop offset=".217" stop-color="#20068f"/><stop offset=".3" stop-color="#48039f"/><stop offset=".367" stop-color="#7d03a8"/><stop offset=".408" stop-color="#a11b9b"/><stop offset=".475" stop-color="#cd4a76"/><stop offset=".542" stop-color="#e4695e"/><stop offset=".592" stop-color="#e66c5c"/><stop offset=".642" stop-color="#dc5d67"/><stop offset=".7" stop-color="#bf3984"/><stop offset=".758" stop-color="#8e0ca4"/><stop offset=".783" stop-color="#7701a8"/><stop offset=".85" stop-color="#3e049c"/><stop offset=".917" stop-color="#19068c"/><stop offset=".958" stop-color="#0d0887"/><stop offset="1" stop-color="#0d0887"/></linearGradient><linearGradient id="h75"><stop offset="0" stop-color="#0d0887"/><stop offset=".083" stop-color="#0d0887"/><stop offset=".175" stop-color="#1d068e"/><stop offset=".25" stop-color="#3c049b"/><stop offset=".317" stop-color="#6a00a8"/><stop offset=".35" stop-color="#8707a6"/><stop offset=".4" stop-color="#b12a90"/><stop offset=".458" stop-color="#d6556d"/><stop offset=".517" stop-color="#ea7457"/><stop offset=".567" stop-color="#ee7b51"/><stop offset=".617" stop-color="#e76f5a"/><stop offset=".675" stop-color="#ce4b75"/><stop offset=".742" stop-color="#99159f"/><stop offset=".767" stop-color="#8004a8"/><stop offset=".817" stop-color="#5102a3"/><stop offset=".875" stop-color="#280592"/><stop offset=".925" stop-color="#100788"/><stop offset="1" stop-color="#0d0887"/></linearGradient><linearGradient id="h76"><stop offset="0" stop-color="#0d0887"/><stop offset=".083" stop-color="#100788"/><stop offset=".175" stop-color="#280592"/><stop offset=".25" stop-color="#4e02a2"/><stop offset=".308" stop-color="#7a02a8"/><stop offset=".342" stop-color="#9814a0"/><stop offset=".408" stop-color="#cc4778"/><stop offset=".467" stop-color="#e87059"/><stop offset=".517" stop-color="#f3874a"/><stop offset=".558" stop-color="#f58b47"/><stop offset=".608" stop-color="#ed7953"/><stop offset=".675" stop-color="#cd4a76"/><stop offset=".733" stop-color="#9c179e"/><stop offset=".758" stop-color="#8104a7"/><stop offset=".8" stop-color="#5801a4"/><stop offset=".867" stop-color="#260591"/><stop offset=".925" stop-color="#0d0887"/><stop offset="1" stop-color="#100788"/></linearGradient><linearGradient id="h77"><stop offset="0" stop-color="#0d0887"/><stop offset=".067" stop-color="#100788"/><stop offset=".158" stop-color="#2c0594"/><stop offset=".225" stop-color="#4e02a2"/><stop offset=".283" stop-color="#7b02a8"/><stop offset=".325" stop-color="#a11b9b"/><stop offset=".392" stop-color="#d45270"/><stop offset=".458" stop-color="#f1834c"/><stop offset=".508" stop-color="#f9983e"/><stop offset=".55" stop-color="#f99a3e"/><stop offset=".608" stop-color="#ef7e50"/><stop offset=".667" stop-color="#d04d73"/><stop offset=".725" stop-color="#9d189d"/><stop offset=".75" stop-color="#8104a7"/><stop offset=".792" stop-color="#5601a4"/><stop offset=".842" stop-color="#2e0595"/><stop offset=".9" stop-color="#100788"/><stop offset=".967" stop-color="#0d0887"/><stop offset="1" stop-color="#16078a"/></linearGradient><linearGradient id="h78"><stop offset="0" stop-color="#0d0887"/><stop offset=".05" stop-color="#100788"/><stop offset=".142" stop-color="#2e0595"/><stop offset=".225" stop-color="#6001a6"/><stop offset=".267" stop-color="#8305a7"/><stop offset=".308" stop-color="#a82296"/><stop offset=".375" stop-color="#da5b69"/><stop offset=".433" stop-color="#f58b47"/><stop offset=".483" stop-color="#fca636"/><stop offset=".525" stop-color="#fdab33"/><stop offset=".567" stop-color="#fa9c3c"/><stop offset=".625" stop-color="#e87059"/><stop offset=".683" stop-color="#bf3984"/><stop offset=".725" stop-color="#9410a2"/><stop offset=".75" stop-color="#7701a8"/><stop offset=".808" stop-color="#3e049c"/><stop offset=".867" stop-color="#19068c"/><stop offset=".908" stop-color="#0d0887"/><stop offset=".967" stop-color="#100788"/><stop offset="1" stop-color="#19068c"/></linearGradient><linearGradient id="h79"><stop offset="0" stop-color="#0d0887"/><stop offset=".042" stop-color="#100788"/><stop offset=".117" stop-color="#2c0594"/><stop offset=".175" stop-color="#4b03a1"/><stop offset=".233" stop-color="#7a02a8"/><stop offset=".267" stop-color="#99159f"/><stop offset=".342" stop-color="#d6556d"/><stop offset=".4" stop-color="#f48849"/><stop offset=".458" stop-color="#fdb22f"/><stop offset=".5" stop-color="#febb2b"/><stop offset=".533" stop-color="#fdb52e"/><stop offset=".575" stop-color="#fa9b3d"/><stop offset=".625" stop-color="#e66c5c"/><stop offset=".683" stop-color="#b7318a"/><stop offset=".725" stop-color="#8808a6"/><stop offset=".75" stop-color="#6c00a8"/><stop offset=".8" stop-color="#3c049b"/><stop offset=".858" stop-color="#16078a"/><stop offset=".892" stop-color="#0d0887"/><stop offset=".942" stop-color="#100788"/><stop offset="1" stop-color="#1d068e"/></linearGradient><linearGradient id="h80"><stop offset="0" stop-color="#0d0887"/><stop offset=".033" stop-color="#100788"/><stop offset=".1" stop-color="#2a0593"/><stop offset=".167" stop-color="#5302a3"/><stop offset=".217" stop-color="#7d03a8"/><stop offset=".258" stop-color="#a51f99"/><stop offset=".325" stop-color="#da5b69"/><stop offset=".383" stop-color="#f79342"/><stop offset=".442" stop-color="#fec029"/><stop offset=".483" stop-color="#fdcb26"/><stop offset=".525" stop-color="#fdc229"/><stop offset=".575" stop-color="#fa9b3d"/><stop offset=".625" stop-color="#e26660"/><stop offset=".675" stop-color="#b7318a"/><stop offset=".708" stop-color="#910ea3"/><stop offset=".733" stop-color="#7201a8"/><stop offset=".783" stop-color="#3f049c"/><stop offset=".833" stop-color="#1d068e"/><stop offset=".867" stop-color="#0d0887"/><stop offset=".925" stop-color="#100788"/><stop offset="1" stop-color="#240691"/></linearGradient><linearGradient id="h81"><stop offset="0" stop-color="#0d0887"/><stop offset=".033" stop-color="#100788"/><stop offset=".1" stop-color="#2f0596"/><stop offset=".158" stop-color="#5801a4"/><stop offset=".2" stop-color="#7e03a8"/><stop offset=".233" stop-color="#a01a9c"/><stop offset=".308" stop-color="#de5f65"/><stop offset=".358" stop-color="#f79342"/><stop offset=".408" stop-color="#fec029"/><stop offset=".45" stop-color="#fbd724"/><stop offset=".483" stop-color="#fada24"/><stop offset=".525" stop-color="#fdc627"/><stop offset=".575" stop-color="#f9973f"/><stop offset=".625" stop-color="#dd5e66"/><stop offset=".675" stop-color="#ac2694"/><stop offset=".708" stop-color="#8405a7"/><stop offset=".742" stop-color="#5c01a6"/><stop offset=".783" stop-color="#350498"/><stop offset=".833" stop-color="#16078a"/><stop offset=".867" stop-color="#0d0887"/><stop offset=".908" stop-color="#100788"/><stop offset="1" stop-color="#280592"/></linearGradient><linearGradient id="h82"><stop offset="0" stop-color="#0d0887"/><stop offset=".025" stop-color="#100788"/><stop offset=".083" stop-color="#2a0593"/><stop offset=".15" stop-color="#5c01a6"/><stop offset=".183" stop-color="#7d03a8"/><stop offset=".225" stop-color="#a72197"/><stop offset=".292" stop-color="#e06363"/><stop offset=".342" stop-color="#f9983e"/><stop offset=".392" stop-color="#fdca26"/><stop offset=".425" stop-color="#f8df25"/><stop offset=".458" stop-color="#f6e826"/><stop offset=".492" stop-color="#f9dd25"/><stop offset=".525" stop-color="#fdc527"/><stop offset=".567" stop-color="#f9983e"/><stop offset=".617" stop-color="#dc5d67"/><stop offset=".675" stop-color="#a01a9c"/><stop offset=".7" stop-color="#8004a8"/><stop offset=".742" stop-color="#5002a2"/><stop offset=".8" stop-color="#20068f"/><stop offset=".842" stop-color="#0d0887"/><stop offset=".892" stop-color="#100788"/><stop offset="1" stop-color="#2e0595"/></linearGradient><linearGradient id="h83"><stop offset="0" stop-color="#0d0887"/><stop offset=".025" stop-color="#100788"/><stop offset=".075" stop-color="#2a0593"/><stop offset=".133" stop-color="#5601a4"/><stop offset=".175" stop-color="#8104a7"/><stop offset=".208" stop-color="#a51f99"/><stop offset=".275" stop-color="#e06363"/><stop offset=".325" stop-color="#f99a3e"/><stop offset=".367" stop-color="#fdc627"/><stop offset=".4" stop-color="#f7e225"/><stop offset=".433" stop-color="#f3f027"/><stop offset=".475" stop-color="#f5e926"/><stop offset=".508" stop-color="#fcd025"/><stop offset=".542" stop-color="#fdac33"/><stop offset=".583" stop-color="#ed7953"/><stop offset=".633" stop-color="#c23c81"/><stop offset=".675" stop-color="#8f0da4"/><stop offset=".7" stop-color="#6f00a8"/><stop offset=".75" stop-color="#3a049a"/><stop offset=".792" stop-color="#1b068d"/><stop offset=".833" stop-color="#0d0887"/><stop offset=".875" stop-color="#100788"/><stop offset=".975" stop-color="#2f0596"/><stop offset="1" stop-color="#330597"/></linearGradient><linearGradient id="h84"><stop offset="0" stop-color="#0d0887"/><stop offset=".025" stop-color="#100788"/><stop offset=".083" stop-color="#330597"/><stop offset=".15" stop-color="#7100a8"/><stop offset=".175" stop-color="#8d0ba5"/><stop offset=".217" stop-color="#ba3388"/><stop offset=".275" stop-color="#e97257"/><stop offset=".317" stop-color="#fca338"/><stop offset=".35" stop-color="#fdc827"/><stop offset=".392" stop-color="#f5eb27"/><stop offset=".425" stop-color="#f0f724"/><stop offset=".467" stop-color="#f4ed27"/><stop offset=".5" stop-color="#fcd225"/><stop offset=".533" stop-color="#fdab33"/><stop offset=".575" stop-color="#eb7556"/><stop offset=".625" stop-color="#be3885"/><stop offset=".658" stop-color="#9511a1"/><stop offset=".675" stop-color="#7e03a8"/><stop offset=".717" stop-color="#4c02a1"/><stop offset=".767" stop-color="#220690"/><stop offset=".808" stop-color="#0d0887"/><stop offset=".858" stop-color="#100788"/><stop offset=".95" stop-color="#2f0596"/><stop offset="1" stop-color="#38049a"/></linearGradient><linearGradient id="h85"><stop offset="0" stop-color="#0d0887"/><stop offset=".025" stop-color="#100788"/><stop offset=".083" stop-color="#370499"/><stop offset=".142" stop-color="#7100a8"/><stop offset=".167" stop-color="#8e0ca4"/><stop offset=".208" stop-color="#bc3587"/><stop offset=".267" stop-color="#ec7754"/><stop offset=".308" stop-color="#fca934"/><stop offset=".342" stop-color="#fcce25"/><stop offset=".375" stop-color="#f5eb27"/><stop offset=".408" stop-color="#f0f921"/><stop offset=".45" stop-color="#f2f227"/><stop offset=".492" stop-color="#fcce25"/><stop offset=".525" stop-color="#fca636"/><stop offset=".567" stop-color="#e87059"/><stop offset=".625" stop-color="#ae2892"/><stop offset=".65" stop-color="#8d0ba5"/><stop offset=".675" stop-color="#6c00a8"/><stop offset=".717" stop-color="#3e049c"/><stop offset=".758" stop-color="#1d068e"/><stop offset=".792" stop-color="#0d0887"/><stop offset=".833" stop-color="#100788"/><stop offset=".95" stop-color="#370499"/><stop offset="1" stop-color="#3c049b"/></linearGradient><linearGradient id="h86"><stop offset="0" stop-color="#0d0887"/><stop offset=".017" stop-color="#0d0887"/><stop offset=".058" stop-color="#260591"/><stop offset=".117" stop-color="#5b01a5"/><stop offset=".15" stop-color="#8305a7"/><stop offset=".183" stop-color="#aa2395"/><stop offset=".233" stop-color="#da5b69"/><stop offset=".275" stop-color="#f58c46"/><stop offset=".317" stop-color="#febe2a"/><stop offset=".35" stop-color="#f8df25"/><stop offset=".375" stop-color="#f3f027"/><stop offset=".4" stop-color="#f0f724"/><stop offset=".433" stop-color="#f2f227"/><stop offset=".475" stop-color="#fcd225"/><stop offset=".508" stop-color="#fca934"/><stop offset=".55" stop-color="#e97257"/><stop offset=".6" stop-color="#bb3488"/><stop offset=".633" stop-color="#8f0da4"/><stop offset=".65" stop-color="#7a02a8"/><stop offset=".692" stop-color="#48039f"/><stop offset=".742" stop-color="#1d068e"/><stop offset=".775" stop-color="#0d0887"/><stop offset=".817" stop-color="#100788"/><stop offset=".925" stop-color="#38049a"/><stop offset=".992" stop-color="#41049d"/><stop offset="1" stop-color="#41049d"/></linearGradient><linearGradient id="h87"><stop offset="0" stop-color="#0d0887"/><stop offset=".033" stop-color="#16078a"/><stop offset=".092" stop-color="#46039f"/><stop offset=".133" stop-color="#7401a8"/><stop offset=".15" stop-color="#8808a6"/><stop offset=".183" stop-color="#b12a90"/><stop offset=".233" stop-color="#e06363"/><stop offset=".275" stop-color="#f89540"/><stop offset=".317" stop-color="#fdc527"/><stop offset=".358" stop-color="#f6e826"/><stop offset=".392" stop-color="#f2f227"/><stop offset=".425" stop-color="#f5e926"/><stop offset=".458" stop-color="#fcd025"/><stop offset=".492" stop-color="#fca934"/><stop offset=".533" stop-color="#ea7457"/><stop offset=".583" stop-color="#bc3587"/><stop offset=".617" stop-color="#910ea3"/><stop offset=".633" stop-color="#7b02a8"/><stop offset=".675" stop-color="#48039f"/><stop offset=".725" stop-color="#1d068e"/><stop offset=".758" stop-color="#0d0887"/><stop offset=".8" stop-color="#100788"/><stop offset=".908" stop-color="#3c049b"/><stop offset=".975" stop-color="#46039f"/><stop offset="1" stop-color="#46039f"/></linearGradient><linearGradient id="h88"><stop offset="0" stop-color="#0d0887"/><stop offset=".033" stop-color="#19068c"/><stop offset=".083" stop-color="#3f049c"/><stop offset=".133" stop-color="#7a02a8"/><stop offset=".158" stop-color="#99159f"/><stop offset=".208" stop-color="#cf4c74"/><stop offset=".258" stop-color="#f3874a"/><stop offset=".3" stop-color="#feb72d"/><stop offset=".342" stop-color="#fada24"/><stop offset=".375" stop-color="#f6e626"/><stop offset=".408" stop-color="#f8e125"/><stop offset=".433" stop-color="#fcd225"/><stop offset=".467" stop-color="#fdb130"/><stop offset=".508" stop-color="#ef7e50"/><stop offset=".558" stop-color="#c5407e"/><stop offset=".6" stop-color="#910ea3"/><stop offset=".617" stop-color="#7a02a8"/><stop offset=".667" stop-color="#3f049c"/><stop offset=".7" stop-color="#220690"/><stop offset=".742" stop-color="#0d0887"/><stop offset=".775" stop-color="#100788"/><stop offset=".9" stop-color="#43039e"/><stop offset=".958" stop-color="#4b03a1"/><stop offset="1" stop-color="#4903a0"/></linearGradient><linearGradient id="h89"><stop offset="0" stop-color="#0d0887"/><stop offset=".033" stop-color="#19068c"/><stop offset=".075" stop-color="#3a049a"/><stop offset=".117" stop-color="#6700a8"/><stop offset=".142" stop-color="#8707a6"/><stop offset=".167" stop-color="#a62098"/><stop offset=".217" stop-color="#d9586a"/><stop offset=".267" stop-color="#f79143"/><stop offset=".308" stop-color="#febb2b"/><stop offset=".35" stop-color="#fbd524"/><stop offset=".383" stop-color="#fbd724"/><stop offset=".417" stop-color="#fdc627"/><stop offset=".458" stop-color="#fba139"/><stop offset=".5" stop-color="#e76f5a"/><stop offset=".55" stop-color="#ba3388"/><stop offset=".583" stop-color="#8f0da4"/><stop offset=".6" stop-color="#7801a8"/><stop offset=".65" stop-color="#3e049c"/><stop offset=".7" stop-color="#16078a"/><stop offset=".717" stop-color="#0d0887"/><stop offset=".758" stop-color="#100788"/><stop offset=".867" stop-color="#43039e"/><stop offset=".933" stop-color="#5102a3"/><stop offset=".992" stop-color="#4c02a1"/><stop offset="1" stop-color="#4b03a1"/></linearGradient><linearGradient id="h90"><stop offset="0" stop-color="#0d0887"/><stop offset=".033" stop-color="#19068c"/><stop offset=".083" stop-color="#43039e"/><stop offset=".125" stop-color="#7401a8"/><stop offset=".142" stop-color="#8808a6"/><stop offset=".183" stop-color="#bb3488"/><stop offset=".233" stop-color="#e56b5d"/><stop offset=".283" stop-color="#fa9e3b"/><stop offset=".325" stop-color="#febd2a"/><stop offset=".358" stop-color="#fdc527"/><stop offset=".392" stop-color="#febd2a"/><stop offset=".425" stop-color="#fca636"/><stop offset=".475" stop-color="#e97257"/><stop offset=".525" stop-color="#bf3984"/><stop offset=".567" stop-color="#8d0ba5"/><stop offset=".583" stop-color="#7501a8"/><stop offset=".642" stop-color="#330597"/><stop offset=".675" stop-color="#19068c"/><stop offset=".708" stop-color="#0d0887"/><stop offset=".733" stop-color="#0d0887"/><stop offset=".867" stop-color="#4e02a2"/><stop offset=".925" stop-color="#5801a4"/><stop offset=".983" stop-color="#5102a3"/><stop offset="1" stop-color="#4c02a1"/></linearGradient><linearGradient id="h91"><stop offset="0" stop-color="#0d0887"/><stop offset=".033" stop-color="#19068c"/><stop offset=".083" stop-color="#44039e"/><stop offset=".125" stop-color="#7401a8"/><stop offset=".142" stop-color="#8808a6"/><stop offset=".183" stop-color="#ba3388"/><stop offset=".233" stop-color="#e3685f"/><stop offset=".283" stop-color="#f89441"/><stop offset=".325" stop-color="#fdac33"/><stop offset=".367" stop-color="#fdae32"/><stop offset=".417" stop-color="#f79143"/><stop offset=".467" stop-color="#de6164"/><stop offset=".508" stop-color="#ba3388"/><stop offset=".542" stop-color="#920fa3"/><stop offset=".558" stop-color="#7b02a8"/><stop offset=".6" stop-color="#4903a0"/><stop offset=".65" stop-color="#1d068e"/><stop offset=".683" stop-color="#0d0887"/><stop offset=".717" stop-color="#100788"/><stop offset=".833" stop-color="#4c02a1"/><stop offset=".892" stop-color="#5e01a6"/><stop offset=".95" stop-color="#5c01a6"/><stop offset="1" stop-color="#4e02a2"/></linearGradient><linearGradient id="h92"><stop offset="0" stop-color="#0d0887"/><stop offset=".033" stop-color="#19068c"/><stop offset=".083" stop-color="#43039e"/><stop offset=".125" stop-color="#7201a8"/><stop offset=".142" stop-color="#8707a6"/><stop offset=".175" stop-color="#ae2892"/><stop offset=".225" stop-color="#d9586a"/><stop offset=".275" stop-color="#f1814d"/><stop offset=".317" stop-color="#f89540"/><stop offset=".358" stop-color="#f89540"/><stop offset=".408" stop-color="#ee7b51"/><stop offset=".458" stop-color="#d14e72"/><stop offset=".508" stop-color="#a01a9c"/><stop offset=".533" stop-color="#8004a8"/><stop offset=".575" stop-color="#4e02a2"/><stop offset=".625" stop-color="#20068f"/><stop offset=".658" stop-color="#0d0887"/><stop offset=".692" stop-color="#100788"/><stop offset=".742" stop-color="#2a0593"/><stop offset=".833" stop-color="#5b01a5"/><stop offset=".892" stop-color="#6700a8"/><stop offset=".967" stop-color="#5b01a5"/><stop offset="1" stop-color="#4e02a2"/></linearGradient><linearGradient id="h93"><stop offset="0" stop-color="#0d0887"/><stop offset=".033" stop-color="#19068c"/><stop offset=".083" stop-color="#43039e"/><stop offset=".133" stop-color="#7a02a8"/><stop offset=".167" stop-color="#a11b9b"/><stop offset=".217" stop-color="#cd4a76"/><stop offset=".275" stop-color="#e97257"/><stop offset=".317" stop-color="#f0804e"/><stop offset=".358" stop-color="#ed7a52"/><stop offset=".4" stop-color="#e16462"/><stop offset=".45" stop-color="#c13b82"/><stop offset=".5" stop-color="#8b0aa5"/><stop offset=".525" stop-color="#6e00a8"/><stop offset=".575" stop-color="#370499"/><stop offset=".617" stop-color="#16078a"/><stop offset=".633" stop-color="#0d0887"/><stop offset=".675" stop-color="#100788"/><stop offset=".8" stop-color="#5b01a5"/><stop offset=".85" stop-color="#6c00a8"/><stop offset=".908" stop-color="#6e00a8"/><stop offset=".992" stop-color="#5002a2"/><stop offset="1" stop-color="#4b03a1"/></linearGradient><linearGradient id="h94"><stop offset="0" stop-color="#0d0887"/><stop offset=".033" stop-color="#19068c"/><stop offset=".092" stop-color="#48039f"/><stop offset=".133" stop-color="#7501a8"/><stop offset=".158" stop-color="#910ea3"/><stop offset=".208" stop-color="#bf3984"/><stop offset=".258" stop-color="#da5a6a"/><stop offset=".3" stop-color="#e3685f"/><stop offset=".35" stop-color="#e06363"/><stop offset=".4" stop-color="#cc4977"/><stop offset=".442" stop-color="#ad2793"/><stop offset=".483" stop-color="#8104a7"/><stop offset=".517" stop-color="#5b01a5"/><stop offset=".567" stop-color="#2a0593"/><stop offset=".608" stop-color="#100788"/><stop offset=".642" stop-color="#0d0887"/><stop offset=".708" stop-color="#330597"/><stop offset=".783" stop-color="#6300a7"/><stop offset=".833" stop-color="#7701a8"/><stop offset=".883" stop-color="#7801a8"/><stop offset=".95" stop-color="#6300a7"/><stop offset="1" stop-color="#4903a0"/></linearGradient><linearGradient id="h95"><stop offset="0" stop-color="#0d0887"/><stop offset=".033" stop-color="#16078a"/><stop offset=".108" stop-color="#5502a4"/><stop offset=".15" stop-color="#8104a7"/><stop offset=".2" stop-color="#ae2892"/><stop offset=".258" stop-color="#cc4977"/><stop offset=".308" stop-color="#d35171"/><stop offset=".35" stop-color="#cc4778"/><stop offset=".4" stop-color="#b32c8e"/><stop offset=".45" stop-color="#8606a6"/><stop offset=".483" stop-color="#6100a7"/><stop offset=".542" stop-color="#2a0593"/><stop offset=".583" stop-color="#100788"/><stop offset=".617" stop-color="#0d0887"/><stop offset=".658" stop-color="#240691"/><stop offset=".75" stop-color="#6300a7"/><stop offset=".8" stop-color="#7b02a8"/><stop offset=".85" stop-color="#8305a7"/><stop offset=".9" stop-color="#7801a8"/><stop offset=".958" stop-color="#5c01a6"/><stop offset="1" stop-color="#44039e"/></linearGradient><linearGradient id="h96"><stop offset="0" stop-color="#0d0887"/><stop offset=".017" stop-color="#0d0887"/><stop offset=".075" stop-color="#330597"/><stop offset=".142" stop-color="#6f00a8"/><stop offset=".167" stop-color="#8707a6"/><stop offset=".225" stop-color="#b02991"/><stop offset=".275" stop-color="#bf3984"/><stop offset=".325" stop-color="#bc3587"/><stop offset=".367" stop-color="#ab2494"/><stop offset=".425" stop-color="#7e03a8"/><stop offset=".475" stop-color="#4c02a1"/><stop offset=".533" stop-color="#1d068e"/><stop offset=".567" stop-color="#0d0887"/><stop offset=".6" stop-color="#100788"/><stop offset=".675" stop-color="#43039e"/><stop offset=".75" stop-color="#7701a8"/><stop offset=".792" stop-color="#8808a6"/><stop offset=".833" stop-color="#8e0ca4"/><stop offset=".892" stop-color="#8004a8"/><stop offset=".975" stop-color="#5002a2"/><stop offset="1" stop-color="#3f049c"/></linearGradient><linearGradient id="h97"><stop offset="0" stop-color="#0d0887"/><stop offset=".025" stop-color="#100788"/><stop offset=".1" stop-color="#43039e"/><stop offset=".158" stop-color="#7401a8"/><stop offset=".208" stop-color="#9511a1"/><stop offset=".258" stop-color="#a72197"/><stop offset=".3" stop-color="#a72197"/><stop offset=".342" stop-color="#9a169f"/><stop offset=".4" stop-color="#7401a8"/><stop offset=".467" stop-color="#3a049a"/><stop offset=".517" stop-color="#16078a"/><stop offset=".55" stop-color="#0d0887"/><stop offset=".575" stop-color="#100788"/><stop offset=".667" stop-color="#5102a3"/><stop offset=".725" stop-color="#7e03a8"/><stop offset=".775" stop-color="#9511a1"/><stop offset=".825" stop-color="#9814a0"/><stop offset=".883" stop-color="#8606a6"/><stop offset=".942" stop-color="#6100a7"/><stop offset="1" stop-color="#3a049a"/></linearGradient><linearGradient id="h98"><stop offset="0" stop-color="#0d0887"/><stop offset=".025" stop-color="#100788"/><stop offset=".092" stop-color="#370499"/><stop offset=".167" stop-color="#6c00a8"/><stop offset=".225" stop-color="#8808a6"/><stop offset=".275" stop-color="#8f0da4"/><stop offset=".325" stop-color="#8405a7"/><stop offset=".392" stop-color="#5b01a5"/><stop offset=".483" stop-color="#19068c"/><stop offset=".517" stop-color="#0d0887"/><stop offset=".542" stop-color="#100788"/><stop offset=".583" stop-color="#260591"/><stop offset=".667" stop-color="#6a00a8"/><stop offset=".708" stop-color="#8a09a5"/><stop offset=".758" stop-color="#a11b9b"/><stop offset=".808" stop-color="#a31e9a"/><stop offset=".867" stop-color="#8f0da4"/><stop offset=".908" stop-color="#7401a8"/><stop offset=".992" stop-color="#38049a"/><stop offset="1" stop-color="#330597"/></linearGradient><linearGradient id="h99"><stop offset="0" stop-color="#0d0887"/><stop offset=".025" stop-color="#100788"/><stop offset=".1" stop-color="#370499"/><stop offset=".192" stop-color="#6900a8"/><stop offset=".25" stop-color="#7501a8"/><stop offset=".3" stop-color="#6f00a8"/><stop offset=".358" stop-color="#5302a3"/><stop offset=".467" stop-color="#130789"/><stop offset=".492" stop-color="#0d0887"/><stop offset=".517" stop-color="#100788"/><stop offset=".567" stop-color="#2f0596"/><stop offset=".633" stop-color="#6900a8"/><stop offset=".675" stop-color="#8b0aa5"/><stop offset=".725" stop-color="#a82296"/><stop offset=".775" stop-color="#b12a90"/><stop offset=".833" stop-color="#a21d9a"/><stop offset=".892" stop-color="#7d03a8"/><stop offset=".958" stop-color="#48039f"/><stop offset="1" stop-color="#2c0594"/></linearGradient><linearGradient id="h100"><stop offset="0" stop-color="#0d0887"/><stop offset=".033" stop-color="#100788"/><stop offset=".175" stop-color="#5102a3"/><stop offset=".242" stop-color="#5c01a6"/><stop offset=".3" stop-color="#5302a3"/><stop offset=".383" stop-color="#2c0594"/><stop offset=".433" stop-color="#130789"/><stop offset=".458" stop-color="#0d0887"/><stop offset=".483" stop-color="#100788"/><stop offset=".525" stop-color="#260591"/><stop offset=".608" stop-color="#6f00a8"/><stop offset=".642" stop-color="#8d0ba5"/><stop offset=".692" stop-color="#ad2793"/><stop offset=".742" stop-color="#bc3587"/><stop offset=".792" stop-color="#b6308b"/><stop offset=".85" stop-color="#99159f"/><stop offset=".892" stop-color="#7701a8"/><stop offset=".958" stop-color="#3f049c"/><stop offset="1" stop-color="#240691"/></linearGradient><linearGradient id="h101"><stop offset="0" stop-color="#0d0887"/><stop offset=".033" stop-color="#100788"/><stop offset=".175" stop-color="#41049d"/><stop offset=".233" stop-color="#48039f"/><stop offset=".3" stop-color="#3a049a"/><stop offset=".408" stop-color="#0d0887"/><stop offset=".45" stop-color="#100788"/><stop offset=".492" stop-color="#260591"/><stop offset=".558" stop-color="#5c01a6"/><stop offset=".592" stop-color="#7e03a8"/><stop offset=".65" stop-color="#ad2793"/><stop offset=".7" stop-color="#c33d80"/><stop offset=".75" stop-color="#c6417d"/><stop offset=".8" stop-color="#b6308b"/><stop offset=".85" stop-color="#9511a1"/><stop offset=".883" stop-color="#7701a8"/><stop offset=".95" stop-color="#3c049b"/><stop offset="1" stop-color="#1d068e"/></linearGradient><linearGradient id="h102"><stop offset="0" stop-color="#0d0887"/><stop offset=".042" stop-color="#100788"/><stop offset=".175" stop-color="#330597"/><stop offset=".25" stop-color="#310597"/><stop offset=".325" stop-color="#1d068e"/><stop offset=".375" stop-color="#0d0887"/><stop offset=".417" stop-color="#100788"/><stop offset=".467" stop-color="#2a0593"/><stop offset=".533" stop-color="#6400a7"/><stop offset=".567" stop-color="#8606a6"/><stop offset=".617" stop-color="#b12a90"/><stop offset=".667" stop-color="#cb4679"/><stop offset=".717" stop-color="#d24f71"/><stop offset=".767" stop-color="#c8437b"/><stop offset=".825" stop-color="#a62098"/><stop offset=".867" stop-color="#7e03a8"/><stop offset=".917" stop-color="#4e02a2"/><stop offset=".975" stop-color="#220690"/><stop offset="1" stop-color="#16078a"/></linearGradient><linearGradient id="h103"><stop offset="0" stop-color="#0d0887"/><stop offset=".05" stop-color="#100788"/><stop offset=".158" stop-color="#240691"/><stop offset=".225" stop-color="#240691"/><stop offset=".333" stop-color="#0d0887"/><stop offset=".383" stop-color="#100788"/><stop offset=".45" stop-color="#370499"/><stop offset=".517" stop-color="#7401a8"/><stop offset=".542" stop-color="#8e0ca4"/><stop offset=".6" stop-color="#c03a83"/><stop offset=".658" stop-color="#d9586a"/><stop offset=".708" stop-color="#db5c68"/><stop offset=".758" stop-color="#ce4b75"/><stop offset=".808" stop-color="#ae2892"/><stop offset=".85" stop-color="#8606a6"/><stop offset=".883" stop-color="#6300a7"/><stop offset=".942" stop-color="#2e0595"/><stop offset="1" stop-color="#0d0887"/></linearGradient><linearGradient id="h104"><stop offset="0" stop-color="#0d0887"/><stop offset=".075" stop-color="#100788"/><stop offset=".158" stop-color="#19068c"/><stop offset=".242" stop-color="#130789"/><stop offset=".3" stop-color="#0d0887"/><stop offset=".342" stop-color="#100788"/><stop offset=".408" stop-color="#330597"/><stop offset=".467" stop-color="#6400a7"/><stop offset=".5" stop-color="#8707a6"/><stop offset=".542" stop-color="#b02991"/><stop offset=".6" stop-color="#d6556d"/><stop offset=".658" stop-color="#e66c5c"/><stop offset=".708" stop-color="#e26660"/><stop offset=".758" stop-color="#ce4b75"/><stop offset=".808" stop-color="#a72197"/><stop offset=".842" stop-color="#8305a7"/><stop offset=".875" stop-color="#5e01a6"/><stop offset=".925" stop-color="#2f0596"/><stop offset=".975" stop-color="#100788"/><stop offset="1" stop-color="#0d0887"/></linearGradient><linearGradient id="h105"><stop offset="0" stop-color="#0d0887"/><stop offset=".083" stop-color="#0d0887"/><stop offset=".158" stop-color="#100788"/><stop offset=".283" stop-color="#0d0887"/><stop offset=".342" stop-color="#220690"/><stop offset=".4" stop-color="#48039f"/><stop offset=".45" stop-color="#7701a8"/><stop offset=".475" stop-color="#910ea3"/><stop offset=".542" stop-color="#cc4778"/><stop offset=".6" stop-color="#e76f5a"/><stop offset=".642" stop-color="#ef7c51"/><stop offset=".675" stop-color="#ed7a52"/><stop offset=".725" stop-color="#de6164"/><stop offset=".775" stop-color="#be3885"/><stop offset=".817" stop-color="#920fa3"/><stop offset=".842" stop-color="#7501a8"/><stop offset=".892" stop-color="#3f049c"/><stop offset=".942" stop-color="#19068c"/><stop offset=".975" stop-color="#0d0887"/><stop offset="1" stop-color="#0d0887"/></linearGradient><linearGradient id="h106"><stop offset="0" stop-color="#0d0887"/><stop offset=".225" stop-color="#0d0887"/><stop offset=".283" stop-color="#1b068d"/><stop offset=".35" stop-color="#3e049c"/><stop offset=".408" stop-color="#6f00a8"/><stop offset=".433" stop-color="#8a09a5"/><stop offset=".475" stop-color="#b32c8e"/><stop offset=".533" stop-color="#de5f65"/><stop offset=".583" stop-color="#f1814d"/><stop offset=".625" stop-color="#f68f44"/><stop offset=".667" stop-color="#f3874a"/><stop offset=".717" stop-color="#e26561"/><stop offset=".767" stop-color="#bd3786"/><stop offset=".808" stop-color="#8e0ca4"/><stop offset=".833" stop-color="#6f00a8"/><stop offset=".883" stop-color="#38049a"/><stop offset=".933" stop-color="#130789"/><stop offset=".958" stop-color="#0d0887"/><stop offset=".992" stop-color="#100788"/><stop offset="1" stop-color="#130789"/></linearGradient><linearGradient id="h107"><stop offset="0" stop-color="#0d0887"/><stop offset=".167" stop-color="#0d0887"/><stop offset=".242" stop-color="#1d068e"/><stop offset=".308" stop-color="#3e049c"/><stop offset=".367" stop-color="#6a00a8"/><stop offset=".4" stop-color="#8b0aa5"/><stop offset=".442" stop-color="#b52f8c"/><stop offset=".5" stop-color="#e16462"/><stop offset=".55" stop-color="#f58c46"/><stop offset=".592" stop-color="#fb9f3a"/><stop offset=".633" stop-color="#fa9e3b"/><stop offset=".683" stop-color="#f07f4f"/><stop offset=".733" stop-color="#d14e72"/><stop offset=".783" stop-color="#9d189d"/><stop offset=".808" stop-color="#7d03a8"/><stop offset=".85" stop-color="#4903a0"/><stop offset=".9" stop-color="#1d068e"/><stop offset=".933" stop-color="#0d0887"/><stop offset=".975" stop-color="#100788"/><stop offset="1" stop-color="#1b068d"/></linearGradient><linearGradient id="h108"><stop offset="0" stop-color="#0d0887"/><stop offset=".108" stop-color="#0d0887"/><stop offset=".2" stop-color="#20068f"/><stop offset=".267" stop-color="#3c049b"/><stop offset=".317" stop-color="#5e01a6"/><stop offset=".35" stop-color="#7d03a8"/><stop offset=".392" stop-color="#a72197"/><stop offset=".458" stop-color="#de5f65"/><stop offset=".508" stop-color="#f68d45"/><stop offset=".55" stop-color="#fdab33"/><stop offset=".583" stop-color="#fdb42f"/><stop offset=".617" stop-color="#fdae32"/><stop offset=".658" stop-color="#f79143"/><stop offset=".708" stop-color="#dd5e66"/><stop offset=".758" stop-color="#ab2494"/><stop offset=".783" stop-color="#8a09a5"/><stop offset=".808" stop-color="#6900a8"/><stop offset=".85" stop-color="#38049a"/><stop offset=".9" stop-color="#130789"/><stop offset=".925" stop-color="#0d0887"/><stop offset=".95" stop-color="#100788"/><stop offset="1" stop-color="#280592"/></linearGradient><linearGradient id="h109"><stop offset="0" stop-color="#0d0887"/><stop offset=".092" stop-color="#100788"/><stop offset=".183" stop-color="#280592"/><stop offset=".242" stop-color="#44039e"/><stop offset=".308" stop-color="#7701a8"/><stop offset=".342" stop-color="#9613a1"/><stop offset=".408" stop-color="#d35171"/><stop offset=".467" stop-color="#f58b47"/><stop offset=".525" stop-color="#febb2b"/><stop offset=".558" stop-color="#fdc627"/><stop offset=".592" stop-color="#fdc229"/><stop offset=".633" stop-color="#fca537"/><stop offset=".675" stop-color="#ec7754"/><stop offset=".717" stop-color="#ca457a"/><stop offset=".758" stop-color="#9814a0"/><stop offset=".775" stop-color="#8004a8"/><stop offset=".808" stop-color="#5302a3"/><stop offset=".858" stop-color="#220690"/><stop offset=".892" stop-color="#0d0887"/><stop offset=".925" stop-color="#0d0887"/><stop offset="1" stop-color="#330597"/></linearGradient><linearGradient id="h110"><stop offset="0" stop-color="#0d0887"/><stop offset=".067" stop-color="#100788"/><stop offset=".158" stop-color="#2c0594"/><stop offset=".225" stop-color="#4e02a2"/><stop offset=".283" stop-color="#7e03a8"/><stop offset=".317" stop-color="#9e199d"/><stop offset=".392" stop-color="#de6164"/><stop offset=".442" stop-color="#f89540"/><stop offset=".492" stop-color="#fdc328"/><stop offset=".525" stop-color="#fbd524"/><stop offset=".558" stop-color="#fbd724"/><stop offset=".592" stop-color="#fdc527"/><stop offset=".633" stop-color="#fa9c3c"/><stop offset=".675" stop-color="#e3685f"/><stop offset=".717" stop-color="#ba3388"/><stop offset=".75" stop-color="#8b0aa5"/><stop offset=".767" stop-color="#7401a8"/><stop offset=".808" stop-color="#3f049c"/><stop offset=".85" stop-color="#19068c"/><stop offset=".883" stop-color="#0d0887"/><stop offset=".908" stop-color="#100788"/><stop offset="1" stop-color="#43039e"/></linearGradient><linearGradient id="h111"><stop offset="0" stop-color="#0d0887"/><stop offset=".05" stop-color="#100788"/><stop offset=".133" stop-color="#2c0594"/><stop offset=".217" stop-color="#5e01a6"/><stop offset=".258" stop-color="#8305a7"/><stop offset=".3" stop-color="#ac2694"/><stop offset=".367" stop-color="#e26660"/><stop offset=".417" stop-color="#fa9c3c"/><stop offset=".458" stop-color="#fdc827"/><stop offset=".492" stop-color="#f8df25"/><stop offset=".525" stop-color="#f6e826"/><stop offset=".558" stop-color="#f9dc24"/><stop offset=".592" stop-color="#febe2a"/><stop offset=".633" stop-color="#f58c46"/><stop offset=".675" stop-color="#d5546e"/><stop offset=".717" stop-color="#a21d9a"/><stop offset=".742" stop-color="#7e03a8"/><stop offset=".775" stop-color="#5002a2"/><stop offset=".817" stop-color="#240691"/><stop offset=".85" stop-color="#0d0887"/><stop offset=".883" stop-color="#100788"/><stop offset="1" stop-color="#5102a3"/></linearGradient><linearGradient id="h112"><stop offset="0" stop-color="#0d0887"/><stop offset=".042" stop-color="#100788"/><stop offset=".117" stop-color="#2e0595"/><stop offset=".183" stop-color="#5801a4"/><stop offset=".225" stop-color="#7d03a8"/><stop offset=".258" stop-color="#9d189d"/><stop offset=".333" stop-color="#de6164"/><stop offset=".383" stop-color="#f9983e"/><stop offset=".425" stop-color="#fdc627"/><stop offset=".467" stop-color="#f5e926"/><stop offset=".5" stop-color="#f2f227"/><stop offset=".533" stop-color="#f5e926"/><stop offset=".567" stop-color="#fccd25"/><stop offset=".6" stop-color="#fca338"/><stop offset=".642" stop-color="#e56a5d"/><stop offset=".683" stop-color="#b7318a"/><stop offset=".717" stop-color="#8707a6"/><stop offset=".742" stop-color="#6300a7"/><stop offset=".783" stop-color="#2f0596"/><stop offset=".817" stop-color="#130789"/><stop offset=".842" stop-color="#0d0887"/><stop offset=".858" stop-color="#0d0887"/><stop offset=".983" stop-color="#5901a5"/><stop offset="1" stop-color="#6001a6"/></linearGradient><linearGradient id="h113"><stop offset="0" stop-color="#0d0887"/><stop offset=".033" stop-color="#100788"/><stop offset=".092" stop-color="#280592"/><stop offset=".158" stop-color="#5502a4"/><stop offset=".208" stop-color="#8104a7"/><stop offset=".242" stop-color="#a31e9a"/><stop offset=".317" stop-color="#e4695e"/><stop offset=".367" stop-color="#fba238"/><stop offset=".408" stop-color="#fcd025"/><stop offset=".442" stop-color="#f4ed27"/><stop offset=".475" stop-color="#f0f921"/><stop offset=".508" stop-color="#f2f227"/><stop offset=".55" stop-color="#fcce25"/><stop offset=".583" stop-color="#fba238"/><stop offset=".617" stop-color="#e97257"/><stop offset=".658" stop-color="#bf3984"/><stop offset=".692" stop-color="#8f0da4"/><stop offset=".708" stop-color="#7501a8"/><stop offset=".75" stop-color="#3e049c"/><stop offset=".792" stop-color="#16078a"/><stop offset=".808" stop-color="#0d0887"/><stop offset=".842" stop-color="#100788"/><stop offset=".95" stop-color="#5b01a5"/><stop offset="1" stop-color="#6f00a8"/></linearGradient><linearGradient id="h114"><stop offset="0" stop-color="#0d0887"/><stop offset=".033" stop-color="#100788"/><stop offset=".1" stop-color="#330597"/><stop offset=".167" stop-color="#6900a8"/><stop offset=".192" stop-color="#8305a7"/><stop offset=".225" stop-color="#a62098"/><stop offset=".292" stop-color="#e06363"/><stop offset=".342" stop-color="#fa9c3c"/><stop offset=".383" stop-color="#fccd25"/><stop offset=".417" stop-color="#f5e926"/><stop offset=".45" stop-color="#f0f921"/><stop offset=".483" stop-color="#f1f426"/><stop offset=".508" stop-color="#f7e425"/><stop offset=".533" stop-color="#fdca26"/><stop offset=".575" stop-color="#f79143"/><stop offset=".617" stop-color="#d6556d"/><stop offset=".658" stop-color="#a21d9a"/><stop offset=".675" stop-color="#8808a6"/><stop offset=".692" stop-color="#6f00a8"/><stop offset=".733" stop-color="#370499"/><stop offset=".783" stop-color="#0d0887"/><stop offset=".817" stop-color="#100788"/><stop offset=".883" stop-color="#41049d"/><stop offset=".95" stop-color="#6f00a8"/><stop offset="1" stop-color="#7d03a8"/></linearGradient><linearGradient id="h115"><stop offset="0" stop-color="#0d0887"/><stop offset=".025" stop-color="#100788"/><stop offset=".092" stop-color="#330597"/><stop offset=".158" stop-color="#6e00a8"/><stop offset=".183" stop-color="#8808a6"/><stop offset=".217" stop-color="#ac2694"/><stop offset=".275" stop-color="#df6263"/><stop offset=".325" stop-color="#fa9b3d"/><stop offset=".367" stop-color="#fdca26"/><stop offset=".408" stop-color="#f5eb27"/><stop offset=".45" stop-color="#f2f227"/><stop offset=".483" stop-color="#f8e125"/><stop offset=".517" stop-color="#fec029"/><stop offset=".55" stop-color="#f79342"/><stop offset=".583" stop-color="#e16462"/><stop offset=".625" stop-color="#b22b8f"/><stop offset=".65" stop-color="#8d0ba5"/><stop offset=".667" stop-color="#7201a8"/><stop offset=".708" stop-color="#3a049a"/><stop offset=".75" stop-color="#130789"/><stop offset=".775" stop-color="#0d0887"/><stop offset=".792" stop-color="#100788"/><stop offset=".858" stop-color="#43039e"/><stop offset=".917" stop-color="#7100a8"/><stop offset=".958" stop-color="#8606a6"/><stop offset="1" stop-color="#8808a6"/></linearGradient><linearGradient id="h116"><stop offset="0" stop-color="#0d0887"/><stop offset=".025" stop-color="#100788"/><stop offset=".075" stop-color="#2c0594"/><stop offset=".142" stop-color="#6600a7"/><stop offset=".167" stop-color="#8104a7"/><stop offset=".2" stop-color="#a72197"/><stop offset=".258" stop-color="#dc5d67"/><stop offset=".308" stop-color="#f89441"/><stop offset=".358" stop-color="#fdc827"/><stop offset=".392" stop-color="#f9dd25"/><stop offset=".425" stop-color="#f7e425"/><stop offset=".458" stop-color="#fad824"/><stop offset=".492" stop-color="#feba2c"/><stop offset=".525" stop-color="#f79143"/><stop offset=".567" stop-color="#d9586a"/><stop offset=".608" stop-color="#a72197"/><stop offset=".633" stop-color="#8104a7"/><stop offset=".667" stop-color="#5002a2"/><stop offset=".708" stop-color="#220690"/><stop offset=".733" stop-color="#100788"/><stop offset=".758" stop-color="#0d0887"/><stop offset=".8" stop-color="#280592"/><stop offset=".867" stop-color="#6400a7"/><stop offset=".908" stop-color="#8405a7"/><stop offset=".958" stop-color="#9511a1"/><stop offset="1" stop-color="#8f0da4"/></linearGradient><linearGradient id="h117"><stop offset="0" stop-color="#0d0887"/><stop offset=".025" stop-color="#100788"/><stop offset=".083" stop-color="#350498"/><stop offset=".142" stop-color="#6e00a8"/><stop offset=".167" stop-color="#8a09a5"/><stop offset=".208" stop-color="#b7318a"/><stop offset=".267" stop-color="#e66c5c"/><stop offset=".317" stop-color="#fba139"/><stop offset=".358" stop-color="#fdc229"/><stop offset=".4" stop-color="#fcd025"/><stop offset=".433" stop-color="#fdc627"/><stop offset=".467" stop-color="#fdae32"/><stop offset=".508" stop-color="#f07f4f"/><stop offset=".55" stop-color="#ce4b75"/><stop offset=".592" stop-color="#99159f"/><stop offset=".608" stop-color="#8104a7"/><stop offset=".642" stop-color="#5002a2"/><stop offset=".683" stop-color="#220690"/><stop offset=".708" stop-color="#100788"/><stop offset=".733" stop-color="#0d0887"/><stop offset=".767" stop-color="#220690"/><stop offset=".842" stop-color="#6a00a8"/><stop offset=".875" stop-color="#8808a6"/><stop offset=".917" stop-color="#9e199d"/><stop offset=".958" stop-color="#a21d9a"/><stop offset="1" stop-color="#9410a2"/></linearGradient><linearGradient id="h118"><stop offset="0" stop-color="#0d0887"/><stop offset=".025" stop-color="#100788"/><stop offset=".075" stop-color="#310597"/><stop offset=".125" stop-color="#6001a6"/><stop offset=".158" stop-color="#8405a7"/><stop offset=".2" stop-color="#b22b8f"/><stop offset=".25" stop-color="#dc5d67"/><stop offset=".3" stop-color="#f58c46"/><stop offset=".35" stop-color="#fdae32"/><stop offset=".383" stop-color="#fdb52e"/><stop offset=".417" stop-color="#fdac33"/><stop offset=".458" stop-color="#f68d45"/><stop offset=".5" stop-color="#df6263"/><stop offset=".542" stop-color="#b6308b"/><stop offset=".575" stop-color="#8a09a5"/><stop offset=".592" stop-color="#7100a8"/><stop offset=".633" stop-color="#3a049a"/><stop offset=".667" stop-color="#19068c"/><stop offset=".683" stop-color="#0d0887"/><stop offset=".708" stop-color="#0d0887"/><stop offset=".758" stop-color="#330597"/><stop offset=".817" stop-color="#7100a8"/><stop offset=".85" stop-color="#910ea3"/><stop offset=".892" stop-color="#aa2395"/><stop offset=".933" stop-color="#b12a90"/><stop offset=".975" stop-color="#a51f99"/><stop offset="1" stop-color="#9410a2"/></linearGradient><linearGradient id="h119"><stop offset="0" stop-color="#0d0887"/><stop offset=".025" stop-color="#100788"/><stop offset=".092" stop-color="#3f049c"/><stop offset=".142" stop-color="#7201a8"/><stop offset=".167" stop-color="#8f0da4"/><stop offset=".217" stop-color="#c13b82"/><stop offset=".267" stop-color="#e3685f"/><stop offset=".317" stop-color="#f48948"/><stop offset=".358" stop-color="#f9973f"/><stop offset=".392" stop-color="#f79342"/><stop offset=".433" stop-color="#ee7b51"/><stop offset=".483" stop-color="#d04d73"/><stop offset=".525" stop-color="#a51f99"/><stop offset=".55" stop-color="#8305a7"/><stop offset=".575" stop-color="#6001a6"/><stop offset=".617" stop-color="#2e0595"/><stop offset=".65" stop-color="#100788"/><stop offset=".675" stop-color="#0d0887"/><stop offset=".7" stop-color="#19068c"/><stop offset=".75" stop-color="#4903a0"/><stop offset=".792" stop-color="#7801a8"/><stop offset=".833" stop-color="#a21d9a"/><stop offset=".875" stop-color="#b83289"/><stop offset=".917" stop-color="#bd3786"/><stop offset=".958" stop-color="#b02991"/><stop offset="1" stop-color="#8f0da4"/></linearGradient><linearGradient id="h120"><stop offset="0" stop-color="#0d0887"/><stop offset=".025" stop-color="#100788"/><stop offset=".092" stop-color="#3f049c"/><stop offset=".142" stop-color="#7100a8"/><stop offset=".167" stop-color="#8d0ba5"/><stop offset=".225" stop-color="#c23c81"/><stop offset=".283" stop-color="#e26561"/><stop offset=".333" stop-color="#ec7754"/><stop offset=".375" stop-color="#ea7457"/><stop offset=".417" stop-color="#de5f65"/><stop offset=".458" stop-color="#c33d80"/><stop offset=".5" stop-color="#99159f"/><stop offset=".517" stop-color="#8305a7"/><stop offset=".55" stop-color="#5801a4"/><stop offset=".6" stop-color="#220690"/><stop offset=".633" stop-color="#0d0887"/><stop offset=".658" stop-color="#100788"/><stop offset=".717" stop-color="#44039e"/><stop offset=".758" stop-color="#7701a8"/><stop offset=".792" stop-color="#9d189d"/><stop offset=".833" stop-color="#bd3786"/><stop offset=".867" stop-color="#c9447a"/><stop offset=".908" stop-color="#c8437b"/><stop offset=".95" stop-color="#b52f8c"/><stop offset=".992" stop-color="#8f0da4"/><stop offset="1" stop-color="#8606a6"/></linearGradient><linearGradient id="h121"><stop offset="0" stop-color="#0d0887"/><stop offset=".025" stop-color="#100788"/><stop offset=".083" stop-color="#370499"/><stop offset=".142" stop-color="#6c00a8"/><stop offset=".167" stop-color="#8606a6"/><stop offset=".225" stop-color="#b7318a"/><stop offset=".283" stop-color="#d35171"/><stop offset=".333" stop-color="#da5a6a"/><stop offset=".383" stop-color="#d04d73"/><stop offset=".433" stop-color="#b32c8e"/><stop offset=".475" stop-color="#8a09a5"/><stop offset=".5" stop-color="#6a00a8"/><stop offset=".567" stop-color="#240691"/><stop offset=".6" stop-color="#0d0887"/><stop offset=".625" stop-color="#100788"/><stop offset=".65" stop-color="#20068f"/><stop offset=".7" stop-color="#5502a4"/><stop offset=".733" stop-color="#8004a8"/><stop offset=".775" stop-color="#b02991"/><stop offset=".817" stop-color="#cc4778"/><stop offset=".85" stop-color="#d6556d"/><stop offset=".892" stop-color="#d35171"/><stop offset=".933" stop-color="#bf3984"/><stop offset=".975" stop-color="#9814a0"/><stop offset="1" stop-color="#7701a8"/></linearGradient><linearGradient id="h122"><stop offset="0" stop-color="#0d0887"/><stop offset=".025" stop-color="#100788"/><stop offset=".092" stop-color="#3a049a"/><stop offset=".158" stop-color="#7401a8"/><stop offset=".192" stop-color="#910ea3"/><stop offset=".25" stop-color="#b42e8d"/><stop offset=".3" stop-color="#c13b82"/><stop offset=".35" stop-color="#bc3587"/><stop offset=".392" stop-color="#aa2395"/><stop offset=".442" stop-color="#8004a8"/><stop offset=".483" stop-color="#5302a3"/><stop offset=".55" stop-color="#16078a"/><stop offset=".567" stop-color="#0d0887"/><stop offset=".592" stop-color="#0d0887"/><stop offset=".625" stop-color="#260591"/><stop offset=".658" stop-color="#48039f"/><stop offset=".692" stop-color="#7401a8"/><stop offset=".708" stop-color="#8a09a5"/><stop offset=".75" stop-color="#ba3388"/><stop offset=".792" stop-color="#d6556d"/><stop offset=".833" stop-color="#e26561"/><stop offset=".867" stop-color="#df6263"/><stop offset=".908" stop-color="#cd4a76"/><stop offset=".95" stop-color="#a82296"/><stop offset=".983" stop-color="#7d03a8"/><stop offset="1" stop-color="#6400a7"/></linearGradient><linearGradient id="h123"><stop offset="0" stop-color="#0d0887"/><stop offset=".025" stop-color="#100788"/><stop offset=".083" stop-color="#2f0596"/><stop offset=".167" stop-color="#6e00a8"/><stop offset=".217" stop-color="#8e0ca4"/><stop offset=".267" stop-color="#a11b9b"/><stop offset=".317" stop-color="#a21d9a"/><stop offset=".367" stop-color="#8f0da4"/><stop offset=".408" stop-color="#7100a8"/><stop offset=".475" stop-color="#370499"/><stop offset=".525" stop-color="#100788"/><stop offset=".558" stop-color="#0d0887"/><stop offset=".592" stop-color="#240691"/><stop offset=".642" stop-color="#5b01a5"/><stop offset=".667" stop-color="#7d03a8"/><stop offset=".7" stop-color="#aa2395"/><stop offset=".742" stop-color="#d14e72"/><stop offset=".792" stop-color="#e97257"/><stop offset=".825" stop-color="#ec7754"/><stop offset=".85" stop-color="#e97158"/><stop offset=".892" stop-color="#d5546e"/><stop offset=".933" stop-color="#ae2892"/><stop offset=".967" stop-color="#8004a8"/><stop offset="1" stop-color="#5002a2"/></linearGradient><linearGradient id="h124"><stop offset="0" stop-color="#0d0887"/><stop offset=".025" stop-color="#100788"/><stop offset=".075" stop-color="#260591"/><stop offset=".175" stop-color="#6300a7"/><stop offset=".233" stop-color="#7d03a8"/><stop offset=".283" stop-color="#8305a7"/><stop offset=".333" stop-color="#7701a8"/><stop offset=".392" stop-color="#5502a4"/><stop offset=".483" stop-color="#130789"/><stop offset=".508" stop-color="#0d0887"/><stop offset=".525" stop-color="#0d0887"/><stop offset=".567" stop-color="#2c0594"/><stop offset=".617" stop-color="#6600a7"/><stop offset=".642" stop-color="#8808a6"/><stop offset=".675" stop-color="#b42e8d"/><stop offset=".725" stop-color="#e16462"/><stop offset=".767" stop-color="#f1834c"/><stop offset=".8" stop-color="#f58b47"/><stop offset=".833" stop-color="#f0804e"/><stop offset=".875" stop-color="#dc5d67"/><stop offset=".917" stop-color="#b32c8e"/><stop offset=".95" stop-color="#8305a7"/><stop offset=".975" stop-color="#5c01a6"/><stop offset="1" stop-color="#3a049a"/></linearGradient><linearGradient id="h125"><stop offset="0" stop-color="#0d0887"/><stop offset=".033" stop-color="#100788"/><stop offset=".2" stop-color="#5901a5"/><stop offset=".258" stop-color="#6300a7"/><stop offset=".317" stop-color="#5601a4"/><stop offset=".392" stop-color="#310597"/><stop offset=".458" stop-color="#0d0887"/><stop offset=".492" stop-color="#100788"/><stop offset=".525" stop-color="#260591"/><stop offset=".575" stop-color="#5b01a5"/><stop offset=".6" stop-color="#7d03a8"/><stop offset=".625" stop-color="#a11b9b"/><stop offset=".675" stop-color="#d7566c"/><stop offset=".717" stop-color="#f1814d"/><stop offset=".75" stop-color="#f99a3e"/><stop offset=".783" stop-color="#fa9e3b"/><stop offset=".817" stop-color="#f68f44"/><stop offset=".858" stop-color="#e26561"/><stop offset=".892" stop-color="#c13b82"/><stop offset=".925" stop-color="#920fa3"/><stop offset=".942" stop-color="#7701a8"/><stop offset=".975" stop-color="#44039e"/><stop offset="1" stop-color="#260591"/></linearGradient><linearGradient id="h126"><stop offset="0" stop-color="#0d0887"/><stop offset=".033" stop-color="#100788"/><stop offset=".2" stop-color="#44039e"/><stop offset=".275" stop-color="#43039e"/><stop offset=".35" stop-color="#2a0593"/><stop offset=".417" stop-color="#0d0887"/><stop offset=".45" stop-color="#100788"/><stop offset=".483" stop-color="#220690"/><stop offset=".525" stop-color="#4903a0"/><stop offset=".567" stop-color="#7e03a8"/><stop offset=".592" stop-color="#a21d9a"/><stop offset=".642" stop-color="#da5a6a"/><stop offset=".683" stop-color="#f48948"/><stop offset=".725" stop-color="#fdac33"/><stop offset=".75" stop-color="#fdb42f"/><stop offset=".783" stop-color="#fca835"/><stop offset=".825" stop-color="#f0804e"/><stop offset=".858" stop-color="#d6556d"/><stop offset=".892" stop-color="#ad2793"/><stop offset=".917" stop-color="#8405a7"/><stop offset=".933" stop-color="#6700a8"/><stop offset=".975" stop-color="#2c0594"/><stop offset="1" stop-color="#130789"/></linearGradient><linearGradient id="h127"><stop offset="0" stop-color="#0d0887"/><stop offset=".05" stop-color="#100788"/><stop offset=".175" stop-color="#2e0595"/><stop offset=".25" stop-color="#2e0595"/><stop offset=".333" stop-color="#16078a"/><stop offset=".375" stop-color="#0d0887"/><stop offset=".408" stop-color="#100788"/><stop offset=".45" stop-color="#260591"/><stop offset=".508" stop-color="#6001a6"/><stop offset=".533" stop-color="#8104a7"/><stop offset=".558" stop-color="#a31e9a"/><stop offset=".608" stop-color="#db5c68"/><stop offset=".65" stop-color="#f79044"/><stop offset=".692" stop-color="#feba2c"/><stop offset=".717" stop-color="#fdc627"/><stop offset=".75" stop-color="#fdc229"/><stop offset=".792" stop-color="#fa9c3c"/><stop offset=".825" stop-color="#e76f5a"/><stop offset=".858" stop-color="#c43e7f"/><stop offset=".892" stop-color="#910ea3"/><stop offset=".908" stop-color="#7401a8"/><stop offset=".95" stop-color="#330597"/><stop offset=".983" stop-color="#100788"/><stop offset="1" stop-color="#0d0887"/></linearGradient><linearGradient id="h128"><stop offset="0" stop-color="#0d0887"/><stop offset=".067" stop-color="#100788"/><stop offset=".158" stop-color="#1d068e"/><stop offset=".242" stop-color="#1b068d"/><stop offset=".325" stop-color="#0d0887"/><stop offset=".367" stop-color="#100788"/><stop offset=".417" stop-color="#2c0594"/><stop offset=".467" stop-color="#5b01a5"/><stop offset=".5" stop-color="#8405a7"/><stop offset=".533" stop-color="#b02991"/><stop offset=".575" stop-color="#dc5d67"/><stop offset=".617" stop-color="#f89441"/><stop offset=".658" stop-color="#fdc328"/><stop offset=".692" stop-color="#fad824"/><stop offset=".725" stop-color="#fbd324"/><stop offset=".758" stop-color="#feb72d"/><stop offset=".792" stop-color="#f48948"/><stop offset=".825" stop-color="#d8576b"/><stop offset=".858" stop-color="#aa2395"/><stop offset=".883" stop-color="#7e03a8"/><stop offset=".908" stop-color="#5302a3"/><stop offset=".942" stop-color="#260591"/><stop offset=".967" stop-color="#0d0887"/><stop offset=".992" stop-color="#100788"/><stop offset="1" stop-color="#16078a"/></linearGradient><linearGradient id="h129"><stop offset="0" stop-color="#0d0887"/><stop offset=".075" stop-color="#0d0887"/><stop offset=".158" stop-color="#130789"/><stop offset=".283" stop-color="#0d0887"/><stop offset=".308" stop-color="#100788"/><stop offset=".342" stop-color="#1b068d"/><stop offset=".4" stop-color="#3f049c"/><stop offset=".45" stop-color="#7401a8"/><stop offset=".475" stop-color="#920fa3"/><stop offset=".525" stop-color="#cd4a76"/><stop offset=".567" stop-color="#f07f4f"/><stop offset=".608" stop-color="#feb72d"/><stop offset=".642" stop-color="#fada24"/><stop offset=".667" stop-color="#f6e826"/><stop offset=".7" stop-color="#f7e225"/><stop offset=".725" stop-color="#fcce25"/><stop offset=".75" stop-color="#fdaf31"/><stop offset=".783" stop-color="#ee7b51"/><stop offset=".817" stop-color="#cb4679"/><stop offset=".85" stop-color="#9613a1"/><stop offset=".867" stop-color="#7801a8"/><stop offset=".9" stop-color="#41049d"/><stop offset=".933" stop-color="#19068c"/><stop offset=".95" stop-color="#0d0887"/><stop offset=".967" stop-color="#0d0887"/><stop offset="1" stop-color="#2e0595"/></linearGradient><linearGradient id="h130"><stop offset="0" stop-color="#0d0887"/><stop offset=".242" stop-color="#0d0887"/><stop offset=".317" stop-color="#260591"/><stop offset=".375" stop-color="#4e02a2"/><stop offset=".417" stop-color="#7801a8"/><stop offset=".442" stop-color="#9613a1"/><stop offset=".508" stop-color="#de5f65"/><stop offset=".55" stop-color="#f89540"/><stop offset=".583" stop-color="#fdc229"/><stop offset=".617" stop-color="#f7e425"/><stop offset=".65" stop-color="#f1f426"/><stop offset=".675" stop-color="#f3ee27"/><stop offset=".7" stop-color="#fada24"/><stop offset=".725" stop-color="#feba2c"/><stop offset=".758" stop-color="#f2844b"/><stop offset=".792" stop-color="#d14e72"/><stop offset=".825" stop-color="#9e199d"/><stop offset=".842" stop-color="#8004a8"/><stop offset=".867" stop-color="#5302a3"/><stop offset=".908" stop-color="#1b068d"/><stop offset=".925" stop-color="#0d0887"/><stop offset=".95" stop-color="#100788"/><stop offset=".992" stop-color="#41049d"/><stop offset="1" stop-color="#4e02a2"/></linearGradient><linearGradient id="h131"><stop offset="0" stop-color="#0d0887"/><stop offset=".167" stop-color="#0d0887"/><stop offset=".242" stop-color="#1d068e"/><stop offset=".308" stop-color="#3c049b"/><stop offset=".358" stop-color="#6300a7"/><stop offset=".392" stop-color="#8606a6"/><stop offset=".425" stop-color="#ac2694"/><stop offset=".492" stop-color="#e97257"/><stop offset=".533" stop-color="#fca934"/><stop offset=".558" stop-color="#fdca26"/><stop offset=".583" stop-color="#f7e425"/><stop offset=".608" stop-color="#f1f525"/><stop offset=".633" stop-color="#f0f921"/><stop offset=".658" stop-color="#f3ee27"/><stop offset=".692" stop-color="#fdcb26"/><stop offset=".717" stop-color="#fca537"/><stop offset=".75" stop-color="#e76e5b"/><stop offset=".783" stop-color="#be3885"/><stop offset=".808" stop-color="#9410a2"/><stop offset=".817" stop-color="#8405a7"/><stop offset=".833" stop-color="#6600a7"/><stop offset=".867" stop-color="#330597"/><stop offset=".892" stop-color="#16078a"/><stop offset=".908" stop-color="#0d0887"/><stop offset=".925" stop-color="#100788"/><stop offset=".958" stop-color="#330597"/><stop offset=".992" stop-color="#6600a7"/><stop offset="1" stop-color="#7501a8"/></linearGradient><linearGradient id="h132"><stop offset="0" stop-color="#0d0887"/><stop offset=".1" stop-color="#0d0887"/><stop offset=".192" stop-color="#1d068e"/><stop offset=".258" stop-color="#38049a"/><stop offset=".317" stop-color="#6001a6"/><stop offset=".35" stop-color="#8004a8"/><stop offset=".383" stop-color="#a31e9a"/><stop offset=".45" stop-color="#e16462"/><stop offset=".492" stop-color="#f9983e"/><stop offset=".533" stop-color="#fccd25"/><stop offset=".567" stop-color="#f4ed27"/><stop offset=".6" stop-color="#f0f921"/><stop offset=".633" stop-color="#f4ed27"/><stop offset=".658" stop-color="#fbd524"/><stop offset=".683" stop-color="#fdb22f"/><stop offset=".708" stop-color="#f58b47"/><stop offset=".742" stop-color="#d5546e"/><stop offset=".775" stop-color="#a62098"/><stop offset=".792" stop-color="#8707a6"/><stop offset=".808" stop-color="#6900a8"/><stop offset=".842" stop-color="#350498"/><stop offset=".875" stop-color="#100788"/><stop offset=".892" stop-color="#0d0887"/><stop offset=".917" stop-color="#1d068e"/><stop offset=".95" stop-color="#4903a0"/><stop offset=".975" stop-color="#7401a8"/><stop offset=".983" stop-color="#8305a7"/><stop offset="1" stop-color="#a11b9b"/></linearGradient><linearGradient id="h133"><stop offset="0" stop-color="#0d0887"/><stop offset=".083" stop-color="#100788"/><stop offset=".192" stop-color="#2c0594"/><stop offset=".267" stop-color="#5601a4"/><stop offset=".317" stop-color="#8004a8"/><stop offset=".358" stop-color="#aa2395"/><stop offset=".425" stop-color="#e3685f"/><stop offset=".467" stop-color="#f99a3e"/><stop offset=".508" stop-color="#fdca26"/><stop offset=".542" stop-color="#f6e626"/><stop offset=".567" stop-color="#f3f027"/><stop offset=".6" stop-color="#f5eb27"/><stop offset=".633" stop-color="#fcce25"/><stop offset=".667" stop-color="#fba139"/><stop offset=".7" stop-color="#e66c5c"/><stop offset=".733" stop-color="#bf3984"/><stop offset=".758" stop-color="#9613a1"/><stop offset=".775" stop-color="#7801a8"/><stop offset=".808" stop-color="#41049d"/><stop offset=".85" stop-color="#100788"/><stop offset=".875" stop-color="#0d0887"/><stop offset=".9" stop-color="#260591"/><stop offset=".925" stop-color="#48039f"/><stop offset=".95" stop-color="#7201a8"/><stop offset=".958" stop-color="#8104a7"/><stop offset=".983" stop-color="#ae2892"/><stop offset="1" stop-color="#c7427c"/></linearGradient><linearGradient id="h134"><stop offset="0" stop-color="#0d0887"/><stop offset=".058" stop-color="#100788"/><stop offset=".142" stop-color="#260591"/><stop offset=".208" stop-color="#44039e"/><stop offset=".283" stop-color="#7d03a8"/><stop offset=".325" stop-color="#a51f99"/><stop offset=".4" stop-color="#e26660"/><stop offset=".45" stop-color="#fa9e3b"/><stop offset=".492" stop-color="#fdc827"/><stop offset=".525" stop-color="#f9dd25"/><stop offset=".55" stop-color="#f7e225"/><stop offset=".583" stop-color="#fbd724"/><stop offset=".617" stop-color="#feb72d"/><stop offset=".65" stop-color="#f58b47"/><stop offset=".683" stop-color="#da5b69"/><stop offset=".717" stop-color="#b02991"/><stop offset=".742" stop-color="#8606a6"/><stop offset=".758" stop-color="#6700a8"/><stop offset=".792" stop-color="#350498"/><stop offset=".825" stop-color="#100788"/><stop offset=".85" stop-color="#0d0887"/><stop offset=".875" stop-color="#240691"/><stop offset=".917" stop-color="#6100a7"/><stop offset=".933" stop-color="#8004a8"/><stop offset=".95" stop-color="#a01a9c"/><stop offset=".983" stop-color="#d35171"/><stop offset="1" stop-color="#e56b5d"/></linearGradient><linearGradient id="h135"><stop offset="0" stop-color="#0d0887"/><stop offset=".05" stop-color="#100788"/><stop offset=".15" stop-color="#330597"/><stop offset=".225" stop-color="#6100a7"/><stop offset=".267" stop-color="#8606a6"/><stop offset=".308" stop-color="#ab2494"/><stop offset=".383" stop-color="#e56a5d"/><stop offset=".433" stop-color="#fa9b3d"/><stop offset=".483" stop-color="#fdc229"/><stop offset=".517" stop-color="#fccd25"/><stop offset=".542" stop-color="#fdca26"/><stop offset=".575" stop-color="#fdb52e"/><stop offset=".608" stop-color="#f79342"/><stop offset=".65" stop-color="#dc5d67"/><stop offset=".692" stop-color="#a82296"/><stop offset=".717" stop-color="#8004a8"/><stop offset=".742" stop-color="#5601a4"/><stop offset=".783" stop-color="#20068f"/><stop offset=".808" stop-color="#0d0887"/><stop offset=".825" stop-color="#0d0887"/><stop offset=".858" stop-color="#2e0595"/><stop offset=".9" stop-color="#7100a8"/><stop offset=".908" stop-color="#8004a8"/><stop offset=".925" stop-color="#9e199d"/><stop offset=".958" stop-color="#d35171"/><stop offset=".992" stop-color="#f48849"/><stop offset="1" stop-color="#f89540"/></linearGradient><linearGradient id="h136"><stop offset="0" stop-color="#0d0887"/><stop offset=".042" stop-color="#100788"/><stop offset=".125" stop-color="#2f0596"/><stop offset=".2" stop-color="#5e01a6"/><stop offset=".242" stop-color="#8004a8"/><stop offset=".283" stop-color="#a51f99"/><stop offset=".35" stop-color="#d8576b"/><stop offset=".417" stop-color="#f79044"/><stop offset=".467" stop-color="#fdae32"/><stop offset=".508" stop-color="#fdb22f"/><stop offset=".542" stop-color="#fca338"/><stop offset=".583" stop-color="#f0804e"/><stop offset=".625" stop-color="#d24f71"/><stop offset=".658" stop-color="#ab2494"/><stop offset=".683" stop-color="#8606a6"/><stop offset=".708" stop-color="#5e01a6"/><stop offset=".75" stop-color="#260591"/><stop offset=".775" stop-color="#100788"/><stop offset=".8" stop-color="#0d0887"/><stop offset=".842" stop-color="#3a049a"/><stop offset=".875" stop-color="#7100a8"/><stop offset=".883" stop-color="#8004a8"/><stop offset=".9" stop-color="#9e199d"/><stop offset=".933" stop-color="#d35171"/><stop offset=".967" stop-color="#f48948"/><stop offset="1" stop-color="#fec029"/></linearGradient><linearGradient id="h137"><stop offset="0" stop-color="#0d0887"/><stop offset=".033" stop-color="#100788"/><stop offset=".1" stop-color="#2a0593"/><stop offset=".158" stop-color="#4903a0"/><stop offset=".225" stop-color="#7d03a8"/><stop offset=".267" stop-color="#a11b9b"/><stop offset=".333" stop-color="#d24f71"/><stop offset=".4" stop-color="#ef7e50"/><stop offset=".442" stop-color="#f79143"/><stop offset=".475" stop-color="#f89540"/><stop offset=".517" stop-color="#f48948"/><stop offset=".567" stop-color="#e06363"/><stop offset=".617" stop-color="#b32c8e"/><stop offset=".65" stop-color="#8707a6"/><stop offset=".667" stop-color="#6e00a8"/><stop offset=".708" stop-color="#350498"/><stop offset=".742" stop-color="#130789"/><stop offset=".75" stop-color="#0d0887"/><stop offset=".775" stop-color="#100788"/><stop offset=".8" stop-color="#260591"/><stop offset=".842" stop-color="#6300a7"/><stop offset=".858" stop-color="#8004a8"/><stop offset=".875" stop-color="#9e199d"/><stop offset=".908" stop-color="#d24f71"/><stop offset=".942" stop-color="#f48948"/><stop offset=".967" stop-color="#fdb42f"/><stop offset=".992" stop-color="#fad824"/><stop offset="1" stop-color="#f7e225"/></linearGradient><linearGradient id="h138"><stop offset="0" stop-color="#0d0887"/><stop offset=".033" stop-color="#100788"/><stop offset=".117" stop-color="#350498"/><stop offset=".2" stop-color="#6e00a8"/><stop offset=".233" stop-color="#8a09a5"/><stop offset=".292" stop-color="#b7318a"/><stop offset=".358" stop-color="#db5c68"/><stop offset=".417" stop-color="#eb7556"/><stop offset=".467" stop-color="#eb7556"/><stop offset=".517" stop-color="#de5f65"/><stop offset=".567" stop-color="#bd3786"/><stop offset=".608" stop-color="#8e0ca4"/><stop offset=".625" stop-color="#7801a8"/><stop offset=".667" stop-color="#41049d"/><stop offset=".708" stop-color="#16078a"/><stop offset=".725" stop-color="#0d0887"/><stop offset=".75" stop-color="#100788"/><stop offset=".792" stop-color="#3e049c"/><stop offset=".825" stop-color="#7201a8"/><stop offset=".833" stop-color="#8104a7"/><stop offset=".858" stop-color="#ad2793"/><stop offset=".892" stop-color="#dc5d67"/><stop offset=".917" stop-color="#f48849"/><stop offset=".942" stop-color="#fdb42f"/><stop offset=".967" stop-color="#fad824"/><stop offset=".992" stop-color="#f2f227"/><stop offset="1" stop-color="#f0f724"/></linearGradient><linearGradient id="h139"><stop offset="0" stop-color="#0d0887"/><stop offset=".033" stop-color="#100788"/><stop offset=".108" stop-color="#310597"/><stop offset=".2" stop-color="#6f00a8"/><stop offset=".233" stop-color="#8a09a5"/><stop offset=".308" stop-color="#bc3587"/><stop offset=".367" stop-color="#d35171"/><stop offset=".417" stop-color="#da5a6a"/><stop offset=".467" stop-color="#d45270"/><stop offset=".525" stop-color="#b6308b"/><stop offset=".575" stop-color="#8606a6"/><stop offset=".6" stop-color="#6700a8"/><stop offset=".658" stop-color="#260591"/><stop offset=".692" stop-color="#0d0887"/><stop offset=".717" stop-color="#100788"/><stop offset=".733" stop-color="#1b068d"/><stop offset=".767" stop-color="#41049d"/><stop offset=".8" stop-color="#7401a8"/><stop offset=".817" stop-color="#910ea3"/><stop offset=".85" stop-color="#c7427c"/><stop offset=".883" stop-color="#ec7754"/><stop offset=".908" stop-color="#fba238"/><stop offset=".933" stop-color="#fdcb26"/><stop offset=".958" stop-color="#f5e926"/><stop offset=".983" stop-color="#f0f921"/><stop offset="1" stop-color="#f0f724"/></linearGradient><linearGradient id="h140"><stop offset="0" stop-color="#0d0887"/><stop offset=".033" stop-color="#100788"/><stop offset=".133" stop-color="#3f049c"/><stop offset=".208" stop-color="#7201a8"/><stop offset=".25" stop-color="#8f0da4"/><stop offset=".317" stop-color="#b32c8e"/><stop offset=".375" stop-color="#c23c81"/><stop offset=".425" stop-color="#c03a83"/><stop offset=".475" stop-color="#ae2892"/><stop offset=".525" stop-color="#8808a6"/><stop offset=".558" stop-color="#6700a8"/><stop offset=".625" stop-color="#260591"/><stop offset=".658" stop-color="#0d0887"/><stop offset=".683" stop-color="#0d0887"/><stop offset=".725" stop-color="#2f0596"/><stop offset=".767" stop-color="#6900a8"/><stop offset=".783" stop-color="#8606a6"/><stop offset=".808" stop-color="#ae2892"/><stop offset=".842" stop-color="#da5b69"/><stop offset=".875" stop-color="#f79143"/><stop offset=".908" stop-color="#fdc627"/><stop offset=".942" stop-color="#f5eb27"/><stop offset=".967" stop-color="#f1f525"/><stop offset=".992" stop-color="#f4ed27"/><stop offset="1" stop-color="#f6e626"/></linearGradient><linearGradient id="h141"><stop offset="0" stop-color="#0d0887"/><stop offset=".033" stop-color="#100788"/><stop offset=".125" stop-color="#38049a"/><stop offset=".217" stop-color="#6f00a8"/><stop offset=".275" stop-color="#8f0da4"/><stop offset=".342" stop-color="#a51f99"/><stop offset=".4" stop-color="#a51f99"/><stop offset=".458" stop-color="#8e0ca4"/><stop offset=".5" stop-color="#7100a8"/><stop offset=".567" stop-color="#370499"/><stop offset=".625" stop-color="#0d0887"/><stop offset=".658" stop-color="#100788"/><stop offset=".7" stop-color="#350498"/><stop offset=".742" stop-color="#6c00a8"/><stop offset=".758" stop-color="#8707a6"/><stop offset=".783" stop-color="#b02991"/><stop offset=".825" stop-color="#e26660"/><stop offset=".858" stop-color="#f99a3e"/><stop offset=".883" stop-color="#febe2a"/><stop offset=".908" stop-color="#f9dc24"/><stop offset=".933" stop-color="#f4ed27"/><stop offset=".958" stop-color="#f5eb27"/><stop offset=".983" stop-color="#fada24"/><stop offset="1" stop-color="#fdc527"/></linearGradient><linearGradient id="h142"><stop offset="0" stop-color="#0d0887"/><stop offset=".033" stop-color="#100788"/><stop offset=".108" stop-color="#2c0594"/><stop offset=".233" stop-color="#6a00a8"/><stop offset=".308" stop-color="#8405a7"/><stop offset=".383" stop-color="#8405a7"/><stop offset=".442" stop-color="#6e00a8"/><stop offset=".517" stop-color="#3c049b"/><stop offset=".583" stop-color="#100788"/><stop offset=".617" stop-color="#0d0887"/><stop offset=".65" stop-color="#220690"/><stop offset=".692" stop-color="#4e02a2"/><stop offset=".725" stop-color="#7d03a8"/><stop offset=".75" stop-color="#a31e9a"/><stop offset=".792" stop-color="#d8576b"/><stop offset=".825" stop-color="#f48849"/><stop offset=".858" stop-color="#feb72d"/><stop offset=".892" stop-color="#fad824"/><stop offset=".917" stop-color="#f7e225"/><stop offset=".942" stop-color="#f9dd25"/><stop offset=".975" stop-color="#febe2a"/><stop offset="1" stop-color="#fa9b3d"/></linearGradient><linearGradient id="h143"><stop offset="0" stop-color="#0d0887"/><stop offset=".042" stop-color="#100788"/><stop offset=".242" stop-color="#5c01a6"/><stop offset=".317" stop-color="#6900a8"/><stop offset=".375" stop-color="#6300a7"/><stop offset=".442" stop-color="#48039f"/><stop offset=".55" stop-color="#0d0887"/><stop offset=".583" stop-color="#0d0887"/><stop offset=".625" stop-color="#280592"/><stop offset=".675" stop-color="#5e01a6"/><stop offset=".7" stop-color="#8104a7"/><stop offset=".725" stop-color="#a51f99"/><stop offset=".767" stop-color="#d6556d"/><stop offset=".808" stop-color="#f68d45"/><stop offset=".85" stop-color="#febd2a"/><stop offset=".875" stop-color="#fcd025"/><stop offset=".9" stop-color="#fbd524"/><stop offset=".925" stop-color="#fdcb26"/><stop offset=".958" stop-color="#fdab33"/><stop offset=".992" stop-color="#ef7c51"/><stop offset="1" stop-color="#e87059"/></linearGradient><linearGradient id="h144"><stop offset="0" stop-color="#0d0887"/><stop offset=".042" stop-color="#100788"/><stop offset=".242" stop-color="#4903a0"/><stop offset=".317" stop-color="#4e02a2"/><stop offset=".392" stop-color="#3e049c"/><stop offset=".508" stop-color="#0d0887"/><stop offset=".55" stop-color="#100788"/><stop offset=".592" stop-color="#280592"/><stop offset=".642" stop-color="#5901a5"/><stop offset=".667" stop-color="#7a02a8"/><stop offset=".683" stop-color="#8f0da4"/><stop offset=".725" stop-color="#c43e7f"/><stop offset=".775" stop-color="#ee7b51"/><stop offset=".817" stop-color="#fca835"/><stop offset=".85" stop-color="#fec029"/><stop offset=".883" stop-color="#fdc229"/><stop offset=".908" stop-color="#fdb52e"/><stop offset=".95" stop-color="#f48948"/><stop offset=".983" stop-color="#dc5d67"/><stop offset="1" stop-color="#ca457a"/></linearGradient><linearGradient id="h145"><stop offset="0" stop-color="#0d0887"/><stop offset=".05" stop-color="#100788"/><stop offset=".217" stop-color="#350498"/><stop offset=".308" stop-color="#370499"/><stop offset=".408" stop-color="#20068f"/><stop offset=".467" stop-color="#0d0887"/><stop offset=".508" stop-color="#100788"/><stop offset=".558" stop-color="#2a0593"/><stop offset=".608" stop-color="#5601a4"/><stop offset=".642" stop-color="#7d03a8"/><stop offset=".675" stop-color="#a62098"/><stop offset=".725" stop-color="#d8576b"/><stop offset=".775" stop-color="#f58c46"/><stop offset=".817" stop-color="#fdab33"/><stop offset=".85" stop-color="#fdb130"/><stop offset=".883" stop-color="#fca537"/><stop offset=".925" stop-color="#ef7e50"/><stop offset=".967" stop-color="#cd4a76"/><stop offset="1" stop-color="#a31e9a"/></linearGradient><linearGradient id="h146"><stop offset="0" stop-color="#0d0887"/><stop offset=".067" stop-color="#100788"/><stop offset=".192" stop-color="#240691"/><stop offset=".3" stop-color="#240691"/><stop offset=".417" stop-color="#0d0887"/><stop offset=".467" stop-color="#100788"/><stop offset=".517" stop-color="#260591"/><stop offset=".575" stop-color="#5302a3"/><stop offset=".617" stop-color="#8004a8"/><stop offset=".65" stop-color="#a62098"/><stop offset=".7" stop-color="#d45270"/><stop offset=".75" stop-color="#f07f4f"/><stop offset=".783" stop-color="#f89540"/><stop offset=".817" stop-color="#fa9e3b"/><stop offset=".85" stop-color="#f9973f"/><stop offset=".892" stop-color="#ec7754"/><stop offset=".933" stop-color="#ce4b75"/><stop offset=".975" stop-color="#9d189d"/><stop offset=".992" stop-color="#8405a7"/><stop offset="1" stop-color="#7701a8"/></linearGradient><linearGradient id="h147"><stop offset="0" stop-color="#0d0887"/><stop offset=".092" stop-color="#100788"/><stop offset=".192" stop-color="#19068c"/><stop offset=".292" stop-color="#16078a"/><stop offset=".358" stop-color="#0d0887"/><stop offset=".425" stop-color="#100788"/><stop offset=".483" stop-color="#2a0593"/><stop offset=".542" stop-color="#5102a3"/><stop offset=".583" stop-color="#7a02a8"/><stop offset=".617" stop-color="#9c179e"/><stop offset=".667" stop-color="#c9447a"/><stop offset=".725" stop-color="#e97257"/><stop offset=".767" stop-color="#f3874a"/><stop offset=".8" stop-color="#f48948"/><stop offset=".842" stop-color="#ed7a52"/><stop offset=".892" stop-color="#d35171"/><stop offset=".933" stop-color="#aa2395"/><stop offset=".958" stop-color="#8808a6"/><stop offset=".983" stop-color="#6400a7"/><stop offset="1" stop-color="#4e02a2"/></linearGradient><linearGradient id="h148"><stop offset="0" stop-color="#0d0887"/><stop offset=".1" stop-color="#0d0887"/><stop offset=".175" stop-color="#100788"/><stop offset=".358" stop-color="#0d0887"/><stop offset=".425" stop-color="#20068f"/><stop offset=".492" stop-color="#44039e"/><stop offset=".558" stop-color="#7b02a8"/><stop offset=".6" stop-color="#a21d9a"/><stop offset=".667" stop-color="#d24f71"/><stop offset=".725" stop-color="#e76f5a"/><stop offset=".767" stop-color="#eb7655"/><stop offset=".808" stop-color="#e56b5d"/><stop offset=".858" stop-color="#cd4a76"/><stop offset=".9" stop-color="#a82296"/><stop offset=".933" stop-color="#8004a8"/><stop offset=".967" stop-color="#5302a3"/><stop offset="1" stop-color="#2e0595"/></linearGradient><linearGradient id="h149"><stop offset="0" stop-color="#0d0887"/><stop offset=".3" stop-color="#0d0887"/><stop offset=".383" stop-color="#20068f"/><stop offset=".458" stop-color="#44039e"/><stop offset=".525" stop-color="#7401a8"/><stop offset=".558" stop-color="#8f0da4"/><stop offset=".617" stop-color="#bb3488"/><stop offset=".683" stop-color="#d9586a"/><stop offset=".733" stop-color="#e06363"/><stop offset=".783" stop-color="#d9586a"/><stop offset=".833" stop-color="#c13b82"/><stop offset=".883" stop-color="#920fa3"/><stop offset=".908" stop-color="#7401a8"/><stop offset=".958" stop-color="#3a049a"/><stop offset="1" stop-color="#16078a"/></linearGradient><linearGradient id="h150"><stop offset="0" stop-color="#0d0887"/><stop offset=".242" stop-color="#0d0887"/><stop offset=".333" stop-color="#20068f"/><stop offset=".408" stop-color="#3a049a"/><stop offset=".492" stop-color="#6e00a8"/><stop offset=".533" stop-color="#8b0aa5"/><stop offset=".6" stop-color="#b6308b"/><stop offset=".667" stop-color="#cf4c74"/><stop offset=".725" stop-color="#d24f71"/><stop offset=".775" stop-color="#c43e7f"/><stop offset=".817" stop-color="#ab2494"/><stop offset=".858" stop-color="#8405a7"/><stop offset=".892" stop-color="#6001a6"/><stop offset=".95" stop-color="#260591"/><stop offset=".983" stop-color="#100788"/><stop offset="1" stop-color="#0d0887"/></linearGradient><linearGradient id="cb" x1="0" y1="0" x2="0" y2="1"><stop offset="0" stop-color="#f0f921"/><stop offset=".05" stop-color="#f7e425"/><stop offset=".1" stop-color="#fcce25"/><stop offset=".15" stop-color="#feba2c"/><stop offset=".2" stop-color="#fca636"/><stop offset=".25" stop-color="#f89540"/><stop offset=".3" stop-color="#f2844b"/><stop offset=".35" stop-color="#ea7457"/><stop offset=".4" stop-color="#e16462"/><stop offset=".45" stop-color="#d6556d"/><stop offset=".5" stop-color="#cc4778"/><stop offset=".55" stop-color="#bf3984"/><stop offset=".6" stop-color="#b12a90"/><stop offset=".65" stop-color="#a11b9b"/><stop offset=".7" stop-color="#8f0da4"/><stop offset=".75" stop-color="#7e03a8"/><stop offset=".8" stop-color="#6a00a8"/><stop offset=".85" stop-color="#5601a4"/><stop offset=".9" stop-color="#41049d"/><stop offset=".95" stop-color="#2a0593"/><stop offset="1" stop-color="#0d0887"/></linearGradient>
<filter id="vb" x="0" y="0" width="1" height="1" color-interpolation-filters="sRGB"><feGaussianBlur stdDeviation="0 0.9"/></filter><clipPath id="cpb"><rect x="82.4" y="387.5" width="518" height="218.6"/></clipPath></defs>
<rect width="685" height="669" fill="#fff"/>
<g filter="url(#vb)"><rect x="83.1" y="2.6" width="478.2" height="2.59" fill="url(#h0)"/><rect x="83.1" y="4.59" width="478.2" height="2.59" fill="url(#h1)"/><rect x="83.1" y="6.58" width="478.2" height="2.59" fill="url(#h2)"/><rect x="83.1" y="8.57" width="478.2" height="2.59" fill="url(#h3)"/><rect x="83.1" y="10.56" width="478.2" height="2.59" fill="url(#h4)"/><rect x="83.1" y="12.55" width="478.2" height="2.59" fill="url(#h5)"/><rect x="83.1" y="14.54" width="478.2" height="2.59" fill="url(#h6)"/><rect x="83.1" y="16.54" width="478.2" height="2.59" fill="url(#h7)"/><rect x="83.1" y="18.53" width="478.2" height="2.59" fill="url(#h8)"/><rect x="83.1" y="20.52" width="478.2" height="2.59" fill="url(#h9)"/><rect x="83.1" y="22.51" width="478.2" height="2.59" fill="url(#h10)"/><rect x="83.1" y="24.5" width="478.2" height="2.59" fill="url(#h11)"/><rect x="83.1" y="26.49" width="478.2" height="2.59" fill="url(#h12)"/><rect x="83.1" y="28.48" width="478.2" height="2.59" fill="url(#h13)"/><rect x="83.1" y="30.47" width="478.2" height="2.59" fill="url(#h14)"/><rect x="83.1" y="32.46" width="478.2" height="2.59" fill="url(#h15)"/><rect x="83.1" y="34.45" width="478.2" height="2.59" fill="url(#h16)"/><rect x="83.1" y="36.44" width="478.2" height="2.59" fill="url(#h17)"/><rect x="83.1" y="38.43" width="478.2" height="2.59" fill="url(#h18)"/><rect x="83.1" y="40.42" width="478.2" height="2.59" fill="url(#h19)"/><rect x="83.1" y="42.41" width="478.2" height="2.59" fill="url(#h20)"/><rect x="83.1" y="44.41" width="478.2" height="2.59" fill="url(#h21)"/><rect x="83.1" y="46.4" width="478.2" height="2.59" fill="url(#h22)"/><rect x="83.1" y="48.39" width="478.2" height="2.59" fill="url(#h23)"/><rect x="83.1" y="50.38" width="478.2" height="2.59" fill="url(#h24)"/><rect x="83.1" y="52.37" width="478.2" height="2.59" fill="url(#h25)"/><rect x="83.1" y="54.36" width="478.2" height="2.59" fill="url(#h26)"/><rect x="83.1" y="56.35" width="478.2" height="2.59" fill="url(#h27)"/><rect x="83.1" y="58.34" width="478.2" height="2.59" fill="url(#h28)"/><rect x="83.1" y="60.33" width="478.2" height="2.59" fill="url(#h29)"/><rect x="83.1" y="62.32" width="478.2" height="2.59" fill="url(#h30)"/><rect x="83.1" y="64.31" width="478.2" height="2.59" fill="url(#h31)"/><rect x="83.1" y="66.3" width="478.2" height="2.59" fill="url(#h32)"/><rect x="83.1" y="68.29" width="478.2" height="2.59" fill="url(#h33)"/><rect x="83.1" y="70.28" width="478.2" height="2.59" fill="url(#h34)"/><rect x="83.1" y="72.28" width="478.2" height="2.59" fill="url(#h35)"/><rect x="83.1" y="74.27" width="478.2" height="2.59" fill="url(#h36)"/><rect x="83.1" y="76.26" width="478.2" height="2.59" fill="url(#h37)"/><rect x="83.1" y="78.25" width="478.2" height="2.59" fill="url(#h38)"/><rect x="83.1" y="80.24" width="478.2" height="2.59" fill="url(#h39)"/><rect x="83.1" y="82.23" width="478.2" height="2.59" fill="url(#h40)"/><rect x="83.1" y="84.22" width="478.2" height="2.59" fill="url(#h41)"/><rect x="83.1" y="86.21" width="478.2" height="2.59" fill="url(#h42)"/><rect x="83.1" y="88.2" width="478.2" height="2.59" fill="url(#h43)"/><rect x="83.1" y="90.19" width="478.2" height="2.59" fill="url(#h44)"/><rect x="83.1" y="92.18" width="478.2" height="2.59" fill="url(#h45)"/><rect x="83.1" y="94.17" width="478.2" height="2.59" fill="url(#h46)"/><rect x="83.1" y="96.16" width="478.2" height="2.59" fill="url(#h47)"/><rect x="83.1" y="98.15" width="478.2" height="2.59" fill="url(#h48)"/><rect x="83.1" y="100.15" width="478.2" height="2.59" fill="url(#h49)"/><rect x="83.1" y="102.14" width="478.2" height="2.59" fill="url(#h50)"/><rect x="83.1" y="104.13" width="478.2" height="2.59" fill="url(#h51)"/><rect x="83.1" y="106.12" width="478.2" height="2.59" fill="url(#h52)"/><rect x="83.1" y="108.11" width="478.2" height="2.59" fill="url(#h53)"/><rect x="83.1" y="110.1" width="478.2" height="2.59" fill="url(#h54)"/><rect x="83.1" y="112.09" width="478.2" height="2.59" fill="url(#h55)"/><rect x="83.1" y="114.08" width="478.2" height="2.59" fill="url(#h56)"/><rect x="83.1" y="116.07" width="478.2" height="2.59" fill="url(#h57)"/><rect x="83.1" y="118.06" width="478.2" height="2.59" fill="url(#h58)"/><rect x="83.1" y="120.05" width="478.2" height="2.59" fill="url(#h59)"/><rect x="83.1" y="122.04" width="478.2" height="2.59" fill="url(#h60)"/><rect x="83.1" y="124.03" width="478.2" height="2.59" fill="url(#h61)"/><rect x="83.1" y="126.03" width="478.2" height="2.59" fill="url(#h62)"/><rect x="83.1" y="128.02" width="478.2" height="2.59" fill="url(#h63)"/><rect x="83.1" y="130.01" width="478.2" height="2.59" fill="url(#h64)"/><rect x="83.1" y="132" width="478.2" height="2.59" fill="url(#h65)"/><rect x="83.1" y="133.99" width="478.2" height="2.59" fill="url(#h66)"/><rect x="83.1" y="135.98" width="478.2" height="2.59" fill="url(#h67)"/><rect x="83.1" y="137.97" width="478.2" height="2.59" fill="url(#h68)"/><rect x="83.1" y="139.96" width="478.2" height="2.59" fill="url(#h69)"/><rect x="83.1" y="141.95" width="478.2" height="2.59" fill="url(#h70)"/><rect x="83.1" y="143.94" width="478.2" height="2.59" fill="url(#h71)"/><rect x="83.1" y="145.93" width="478.2" height="2.59" fill="url(#h72)"/><rect x="83.1" y="147.92" width="478.2" height="2.59" fill="url(#h73)"/><rect x="83.1" y="149.91" width="478.2" height="2.59" fill="url(#h74)"/><rect x="83.1" y="151.9" width="478.2" height="2.59" fill="url(#h75)"/><rect x="83.1" y="153.9" width="478.2" height="2.59" fill="url(#h76)"/><rect x="83.1" y="155.89" width="478.2" height="2.59" fill="url(#h77)"/><rect x="83.1" y="157.88" width="478.2" height="2.59" fill="url(#h78)"/><rect x="83.1" y="159.87" width="478.2" height="2.59" fill="url(#h79)"/><rect x="83.1" y="161.86" width="478.2" height="2.59" fill="url(#h80)"/><rect x="83.1" y="163.85" width="478.2" height="2.59" fill="url(#h81)"/><rect x="83.1" y="165.84" width="478.2" height="2.59" fill="url(#h82)"/><rect x="83.1" y="167.83" width="478.2" height="2.59" fill="url(#h83)"/><rect x="83.1" y="169.82" width="478.2" height="2.59" fill="url(#h84)"/><rect x="83.1" y="171.81" width="478.2" height="2.59" fill="url(#h85)"/><rect x="83.1" y="173.8" width="478.2" height="2.59" fill="url(#h86)"/><rect x="83.1" y="175.79" width="478.2" height="2.59" fill="url(#h87)"/><rect x="83.1" y="177.78" width="478.2" height="2.59" fill="url(#h88)"/><rect x="83.1" y="179.77" width="478.2" height="2.59" fill="url(#h89)"/><rect x="83.1" y="181.77" width="478.2" height="2.59" fill="url(#h90)"/><rect x="83.1" y="183.76" width="478.2" height="2.59" fill="url(#h91)"/><rect x="83.1" y="185.75" width="478.2" height="2.59" fill="url(#h92)"/><rect x="83.1" y="187.74" width="478.2" height="2.59" fill="url(#h93)"/><rect x="83.1" y="189.73" width="478.2" height="2.59" fill="url(#h94)"/><rect x="83.1" y="191.72" width="478.2" height="2.59" fill="url(#h95)"/><rect x="83.1" y="193.71" width="478.2" height="2.59" fill="url(#h96)"/><rect x="83.1" y="195.7" width="478.2" height="2.59" fill="url(#h97)"/><rect x="83.1" y="197.69" width="478.2" height="2.59" fill="url(#h98)"/><rect x="83.1" y="199.68" width="478.2" height="2.59" fill="url(#h99)"/><rect x="83.1" y="201.67" width="478.2" height="2.59" fill="url(#h100)"/><rect x="83.1" y="203.66" width="478.2" height="2.59" fill="url(#h101)"/><rect x="83.1" y="205.65" width="478.2" height="2.59" fill="url(#h102)"/><rect x="83.1" y="207.65" width="478.2" height="2.59" fill="url(#h103)"/><rect x="83.1" y="209.64" width="478.2" height="2.59" fill="url(#h104)"/><rect x="83.1" y="211.63" width="478.2" height="2.59" fill="url(#h105)"/><rect x="83.1" y="213.62" width="478.2" height="2.59" fill="url(#h106)"/><rect x="83.1" y="215.61" width="478.2" height="2.59" fill="url(#h107)"/><rect x="83.1" y="217.6" width="478.2" height="2.59" fill="url(#h108)"/><rect x="83.1" y="219.59" width="478.2" height="2.59" fill="url(#h109)"/><rect x="83.1" y="221.58" width="478.2" height="2.59" fill="url(#h110)"/><rect x="83.1" y="223.57" width="478.2" height="2.59" fill="url(#h111)"/><rect x="83.1" y="225.56" width="478.2" height="2.59" fill="url(#h112)"/><rect x="83.1" y="227.55" width="478.2" height="2.59" fill="url(#h113)"/><rect x="83.1" y="229.54" width="478.2" height="2.59" fill="url(#h114)"/><rect x="83.1" y="231.53" width="478.2" height="2.59" fill="url(#h115)"/><rect x="83.1" y="233.52" width="478.2" height="2.59" fill="url(#h116)"/><rect x="83.1" y="235.52" width="478.2" height="2.59" fill="url(#h117)"/><rect x="83.1" y="237.51" width="478.2" height="2.59" fill="url(#h118)"/><rect x="83.1" y="239.5" width="478.2" height="2.59" fill="url(#h119)"/><rect x="83.1" y="241.49" width="478.2" height="2.59" fill="url(#h120)"/><rect x="83.1" y="243.48" width="478.2" height="2.59" fill="url(#h121)"/><rect x="83.1" y="245.47" width="478.2" height="2.59" fill="url(#h122)"/><rect x="83.1" y="247.46" width="478.2" height="2.59" fill="url(#h123)"/><rect x="83.1" y="249.45" width="478.2" height="2.59" fill="url(#h124)"/><rect x="83.1" y="251.44" width="478.2" height="2.59" fill="url(#h125)"/><rect x="83.1" y="253.43" width="478.2" height="2.59" fill="url(#h126)"/><rect x="83.1" y="255.42" width="478.2" height="2.59" fill="url(#h127)"/><rect x="83.1" y="257.41" width="478.2" height="2.59" fill="url(#h128)"/><rect x="83.1" y="259.4" width="478.2" height="2.59" fill="url(#h129)"/><rect x="83.1" y="261.39" width="478.2" height="2.59" fill="url(#h130)"/><rect x="83.1" y="263.39" width="478.2" height="2.59" fill="url(#h131)"/><rect x="83.1" y="265.38" width="478.2" height="2.59" fill="url(#h132)"/><rect x="83.1" y="267.37" width="478.2" height="2.59" fill="url(#h133)"/><rect x="83.1" y="269.36" width="478.2" height="2.59" fill="url(#h134)"/><rect x="83.1" y="271.35" width="478.2" height="2.59" fill="url(#h135)"/><rect x="83.1" y="273.34" width="478.2" height="2.59" fill="url(#h136)"/><rect x="83.1" y="275.33" width="478.2" height="2.59" fill="url(#h137)"/><rect x="83.1" y="277.32" width="478.2" height="2.59" fill="url(#h138)"/><rect x="83.1" y="279.31" width="478.2" height="2.59" fill="url(#h139)"/><rect x="83.1" y="281.3" width="478.2" height="2.59" fill="url(#h140)"/><rect x="83.1" y="283.29" width="478.2" height="2.59" fill="url(#h141)"/><rect x="83.1" y="285.28" width="478.2" height="2.59" fill="url(#h142)"/><rect x="83.1" y="287.27" width="478.2" height="2.59" fill="url(#h143)"/><rect x="83.1" y="289.26" width="478.2" height="2.59" fill="url(#h144)"/><rect x="83.1" y="291.26" width="478.2" height="2.59" fill="url(#h145)"/><rect x="83.1" y="293.25" width="478.2" height="2.59" fill="url(#h146)"/><rect x="83.1" y="295.24" width="478.2" height="2.59" fill="url(#h147)"/><rect x="83.1" y="297.23" width="478.2" height="2.59" fill="url(#h148)"/><rect x="83.1" y="299.22" width="478.2" height="2.59" fill="url(#h149)"/><rect x="83.1" y="301.21" width="478.2" height="2.59" fill="url(#h150)"/></g>
<rect x="573.2" y="2.9" width="23.8" height="300.8" fill="url(#cb)" stroke="#333" stroke-width="1"/>
<circle cx="232.3" cy="88.4" r="5.4" fill="none" stroke="#000" stroke-width="1.8"/>
<circle cx="250.9" cy="12.8" r="5.4" fill="none" stroke="#fff" stroke-width="1.8"/>
<g clip-path="url(#cpb)" fill="none">
<line x1="82.4" y1="568.6" x2="600.4" y2="568.6" stroke="#9fdf8f" stroke-width="2.2" stroke-dasharray="4.8 6.2"/>
<polyline points="82.4,600.4 84.0,600.4 85.6,600.3 87.2,600.3 88.9,600.3 90.5,600.2 92.1,600.2 93.7,600.1 95.3,600.0 96.9,600.0 98.6,599.9 100.2,599.8 101.8,599.8 103.4,599.7 105.0,599.6 106.7,599.5 108.3,599.4 109.9,599.3 111.5,599.2 113.1,599.1 114.7,599.0 116.4,598.8 118.0,598.7 119.6,598.6 121.2,598.4 122.8,598.3 124.5,598.1 126.1,597.9 127.7,597.7 129.3,597.5 130.9,597.3 132.5,597.1 134.2,596.8 135.8,596.6 137.4,596.3 139.0,596.1 140.6,595.8 142.3,595.5 143.9,595.1 145.5,594.8 147.1,594.5 148.7,594.1 150.3,593.7 152.0,593.3 153.6,592.9 155.2,592.4 156.8,592.0 158.4,591.5 160.1,591.0 161.7,590.5 163.3,589.9 164.9,589.3 166.5,588.7 168.1,588.1 169.8,587.5 171.4,586.8 173.0,586.1 174.6,585.4 176.2,584.6 177.9,583.8 179.5,583.0 181.1,582.2 182.7,581.3 184.3,580.4 185.9,579.4 187.6,578.5 189.2,577.5 190.8,576.4 192.4,575.3 194.0,574.2 195.7,573.1 197.3,571.9 198.9,570.7 200.5,569.4 202.1,568.1 203.7,566.8 205.4,565.5 207.0,564.1 208.6,562.6 210.2,561.1 211.8,559.6 213.5,558.1 215.1,556.5 216.7,554.8 218.3,553.2 219.9,551.5 221.5,549.7 223.2,548.0 224.8,546.2 226.4,544.3 228.0,542.4 229.6,540.5 231.3,538.5 232.9,536.6 234.5,534.5 236.1,532.5 237.7,530.4 239.4,528.3 241.0,526.2 242.6,524.0 244.2,521.8 245.8,519.6 247.4,517.4 249.1,515.1 250.7,512.8 252.3,510.5 253.9,508.2 255.5,505.9 257.2,503.5 258.8,501.2 260.4,498.8 262.0,496.4 263.6,494.0 265.2,491.6 266.9,489.3 268.5,486.9 270.1,484.5 271.7,482.1 273.3,479.8 275.0,477.4 276.6,475.0 278.2,472.7 279.8,470.4 281.4,468.1 283.0,465.8 284.7,463.6 286.3,461.4 287.9,459.2 289.5,457.0 291.1,454.9 292.8,452.8 294.4,450.8 296.0,448.8 297.6,446.8 299.2,444.9 300.8,443.1 302.5,441.3 304.1,439.5 305.7,437.8 307.3,436.2 308.9,434.6 310.6,433.1 312.2,431.6 313.8,430.3 315.4,428.9 317.0,427.7 318.6,426.5 320.3,425.4 321.9,424.4 323.5,423.5 325.1,422.6 326.7,421.8 328.4,421.1 330.0,420.5 331.6,419.9 333.2,419.5 334.8,419.1 336.4,418.8 338.1,418.6 339.7,418.5 341.3,418.4 342.9,418.5 344.5,418.6 346.2,418.8 347.8,419.1 349.4,419.5 351.0,419.9 352.6,420.5 354.2,421.1 355.9,421.8 357.5,422.6 359.1,423.5 360.7,424.4 362.3,425.4 364.0,426.5 365.6,427.7 367.2,428.9 368.8,430.3 370.4,431.6 372.0,433.1 373.7,434.6 375.3,436.2 376.9,437.8 378.5,439.5 380.1,441.3 381.8,443.1 383.4,444.9 385.0,446.8 386.6,448.8 388.2,450.8 389.8,452.8 391.5,454.9 393.1,457.0 394.7,459.2 396.3,461.4 397.9,463.6 399.6,465.8 401.2,468.1 402.8,470.4 404.4,472.7 406.0,475.0 407.6,477.4 409.3,479.8 410.9,482.1 412.5,484.5 414.1,486.9 415.7,489.3 417.4,491.6 419.0,494.0 420.6,496.4 422.2,498.8 423.8,501.2 425.4,503.5 427.1,505.9 428.7,508.2 430.3,510.5 431.9,512.8 433.5,515.1 435.2,517.4 436.8,519.6 438.4,521.8 440.0,524.0 441.6,526.2 443.2,528.3 444.9,530.4 446.5,532.5 448.1,534.5 449.7,536.6 451.3,538.5 453.0,540.5 454.6,542.4 456.2,544.3 457.8,546.2 459.4,548.0 461.1,549.7 462.7,551.5 464.3,553.2 465.9,554.8 467.5,556.5 469.1,558.1 470.8,559.6 472.4,561.1 474.0,562.6 475.6,564.1 477.2,565.5 478.9,566.8 480.5,568.1 482.1,569.4 483.7,570.7 485.3,571.9 486.9,573.1 488.6,574.2 490.2,575.3 491.8,576.4 493.4,577.5 495.0,578.5 496.7,579.4 498.3,580.4 499.9,581.3 501.5,582.2 503.1,583.0 504.7,583.8 506.4,584.6 508.0,585.4 509.6,586.1 511.2,586.8 512.8,587.5 514.5,588.1 516.1,588.7 517.7,589.3 519.3,589.9 520.9,590.5 522.5,591.0 524.2,591.5 525.8,592.0 527.4,592.4 529.0,592.9 530.6,593.3 532.3,593.7 533.9,594.1 535.5,594.5 537.1,594.8 538.7,595.1 540.3,595.5 542.0,595.8 543.6,596.1 545.2,596.3 546.8,596.6 548.4,596.8 550.1,597.1 551.7,597.3 553.3,597.5 554.9,597.7 556.5,597.9 558.1,598.1 559.8,598.3 561.4,598.4 563.0,598.6 564.6,598.7 566.2,598.8 567.9,599.0 569.5,599.1 571.1,599.2 572.7,599.3 574.3,599.4 575.9,599.5 577.6,599.6 579.2,599.7 580.8,599.8 582.4,599.8 584.0,599.9 585.7,600.0 587.3,600.0 588.9,600.1 590.5,600.2 592.1,600.2 593.7,600.3 595.4,600.3 597.0,600.3 598.6,600.4 600.2,600.4" stroke="#5b53b0" stroke-width="2.3" stroke-dasharray="4.5 6.3"/>
<polyline points="82.4,397.4 82.7,397.4 83.1,397.4 83.4,397.4 83.7,397.4 84.0,397.4 84.4,397.4 84.7,397.4 85.0,397.4 85.3,397.4 85.6,397.4 86.0,397.4 86.3,397.4 86.6,397.4 86.9,397.4 87.3,397.4 87.6,397.4 87.9,397.4 88.2,397.4 88.6,397.4 88.9,397.4 89.2,397.4 89.5,397.4 89.9,397.4 90.2,397.4 90.5,397.4 90.8,397.4 91.2,397.4 91.5,397.4 91.8,397.4 92.1,397.4 92.4,397.4 92.8,397.4 93.1,397.4 93.4,397.4 93.7,397.4 94.1,397.4 94.4,397.4 94.7,397.4 95.0,397.4 95.4,397.4 95.7,397.4 96.0,397.4 96.3,397.4 96.7,397.4 97.0,397.4 97.3,397.4 97.6,397.4 97.9,397.4 98.3,397.4 98.6,397.4 98.9,397.4 99.2,397.4 99.6,397.4 99.9,397.4 100.2,397.4 100.5,397.4 100.9,397.4 101.2,397.4 101.5,397.4 101.8,397.4 102.2,397.4 102.5,397.4 102.8,397.4 103.1,397.4 103.4,397.4 103.8,397.4 104.1,397.4 104.4,397.4 104.7,397.4 105.1,397.4 105.4,397.4 105.7,397.4 106.0,397.4 106.4,397.4 106.7,397.4 107.0,397.4 107.3,397.4 107.7,397.4 108.0,397.4 108.3,397.4 108.6,397.4 109.0,397.4 109.3,397.4 109.6,397.4 109.9,397.4 110.2,397.4 110.6,397.4 110.9,397.4 111.2,397.4 111.5,397.4 111.9,397.4 112.2,397.4 112.5,397.4 112.8,397.4 113.2,397.4 113.5,397.4 113.8,397.4 114.1,397.4 114.5,397.4 114.8,397.4 115.1,397.4 115.4,397.4 115.7,397.4 116.1,397.4 116.4,397.4 116.7,397.4 117.0,397.4 117.4,397.4 117.7,397.4 118.0,397.4 118.3,397.4 118.7,397.4 119.0,397.4 119.3,397.4 119.6,397.4 120.0,397.4 120.3,397.4 120.6,397.4 120.9,397.4 121.3,397.4 121.6,397.4 121.9,397.4 122.2,397.4 122.5,397.4 122.9,397.4 123.2,397.4 123.5,397.4 123.8,397.4 124.2,397.4 124.5,397.4 124.8,397.4 125.1,397.4 125.5,397.4 125.8,397.4 126.1,397.4 126.4,397.4 126.8,397.4 127.1,397.4 127.4,397.4 127.7,397.4 128.0,397.4 128.4,397.4 128.7,397.4 129.0,397.4 129.3,397.4 129.7,397.4 130.0,397.4 130.3,397.4 130.6,397.4 131.0,397.4 131.3,397.4 131.6,397.4 131.9,397.4 132.3,397.4 132.6,397.4 132.9,397.4 133.2,397.4 133.5,397.5 133.9,397.5 134.2,397.5 134.5,397.5 134.8,397.5 135.2,397.5 135.5,397.5 135.8,397.5 136.1,397.5 136.5,397.5 136.8,397.5 137.1,397.5 137.4,397.5 137.8,397.5 138.1,397.4 138.4,397.4 138.7,397.4 139.1,397.4 139.4,397.4 139.7,397.4 140.0,397.4 140.3,397.4 140.7,397.4 141.0,397.4 141.3,397.4 141.6,397.4 142.0,397.4 142.3,397.4 142.6,397.4 142.9,397.4 143.3,397.5 143.6,397.5 143.9,397.5 144.2,397.5 144.6,397.5 144.9,397.5 145.2,397.5 145.5,397.5 145.8,397.5 146.2,397.5 146.5,397.5 146.8,397.5 147.1,397.5 147.5,397.5 147.8,397.5 148.1,397.5 148.4,397.5 148.8,397.5 149.1,397.5 149.4,397.5 149.7,397.5 150.1,397.5 150.4,397.5 150.7,397.5 151.0,397.5 151.3,397.5 151.7,397.5 152.0,397.5 152.3,397.5 152.6,397.5 153.0,397.5 153.3,397.5 153.6,397.5 153.9,397.5 154.3,397.5 154.6,397.5 154.9,397.5 155.2,397.5 155.6,397.6 155.9,397.6 156.2,397.6 156.5,397.6 156.9,397.6 157.2,397.6 157.5,397.6 157.8,397.6 158.1,397.6 158.5,397.6 158.8,397.6 159.1,397.6 159.4,397.6 159.8,397.6 160.1,397.6 160.4,397.6 160.7,397.6 161.1,397.6 161.4,397.6 161.7,397.6 162.0,397.6 162.4,397.5 162.7,397.5 163.0,397.5 163.3,397.5 163.6,397.5 164.0,397.5 164.3,397.5 164.6,397.5 164.9,397.6 165.3,397.6 165.6,397.6 165.9,397.6 166.2,397.6 166.6,397.7 166.9,397.7 167.2,397.7 167.5,397.7 167.9,397.8 168.2,397.8 168.5,397.8 168.8,397.9 169.2,397.9 169.5,397.9 169.8,397.9 170.1,397.9 170.4,397.9 170.8,397.9 171.1,397.9 171.4,397.9 171.7,397.9 172.1,397.9 172.4,397.8 172.7,397.8 173.0,397.8 173.4,397.8 173.7,397.7 174.0,397.7 174.3,397.7 174.7,397.7 175.0,397.6 175.3,397.6 175.6,397.6 175.9,397.6 176.3,397.6 176.6,397.6 176.9,397.7 177.2,397.7 177.6,397.7 177.9,397.8 178.2,397.8 178.5,397.9 178.9,397.9 179.2,398.0 179.5,398.1 179.8,398.1 180.2,398.2 180.5,398.2 180.8,398.3 181.1,398.3 181.4,398.4 181.8,398.4 182.1,398.4 182.4,398.4 182.7,398.4 183.1,398.4 183.4,398.4 183.7,398.3 184.0,398.3 184.4,398.3 184.7,398.2 185.0,398.1 185.3,398.1 185.7,398.0 186.0,398.0 186.3,397.9 186.6,397.9 187.0,397.9 187.3,397.8 187.6,397.8 187.9,397.8 188.2,397.9 188.6,397.9 188.9,397.9 189.2,398.0 189.5,398.0 189.9,398.1 190.2,398.2 190.5,398.3 190.8,398.4 191.2,398.5 191.5,398.6 191.8,398.7 192.1,398.8 192.5,398.9 192.8,399.0 193.1,399.1 193.4,399.1 193.7,399.2 194.1,399.2 194.4,399.2 194.7,399.2 195.0,399.2 195.4,399.1 195.7,399.0 196.0,398.9 196.3,398.9 196.7,398.8 197.0,398.7 197.3,398.6 197.6,398.5 198.0,398.4 198.3,398.3 198.6,398.3 198.9,398.2 199.3,398.2 199.6,398.2 199.9,398.2 200.2,398.3 200.5,398.3 200.9,398.4 201.2,398.5 201.5,398.7 201.8,398.8 202.2,399.0 202.5,399.1 202.8,399.3 203.1,399.5 203.5,399.7 203.8,399.8 204.1,400.0 204.4,400.2 204.8,400.3 205.1,400.4 205.4,400.4 205.7,400.5 206.0,400.5 206.4,400.5 206.7,400.4 207.0,400.3 207.3,400.2 207.7,400.0 208.0,399.9 208.3,399.7 208.6,399.5 209.0,399.4 209.3,399.2 209.6,399.1 209.9,398.9 210.3,398.8 210.6,398.8 210.9,398.7 211.2,398.7 211.5,398.7 211.9,398.8 212.2,398.9 212.5,399.0 212.8,399.2 213.2,399.4 213.5,399.7 213.8,400.0 214.1,400.2 214.5,400.6 214.8,400.9 215.1,401.2 215.4,401.5 215.8,401.8 216.1,402.0 216.4,402.2 216.7,402.4 217.1,402.5 217.4,402.6 217.7,402.6 218.0,402.6 218.3,402.4 218.7,402.3 219.0,402.1 219.3,401.8 219.6,401.5 220.0,401.2 220.3,400.9 220.6,400.6 220.9,400.3 221.3,400.1 221.6,399.8 221.9,399.6 222.2,399.5 222.6,399.4 222.9,399.3 223.2,399.3 223.5,399.4 223.8,399.6 224.2,399.8 224.5,400.1 224.8,400.4 225.1,400.8 225.5,401.2 225.8,401.7 226.1,402.2 226.4,402.7 226.8,403.2 227.1,403.8 227.4,404.2 227.7,404.7 228.1,405.1 228.4,405.4 228.7,405.6 229.0,405.7 229.3,405.8 229.7,405.7 230.0,405.6 230.3,405.3 230.6,405.0 231.0,404.6 231.3,404.1 231.6,403.6 231.9,403.1 232.3,402.6 232.6,402.0 232.9,401.6 233.2,401.1 233.6,400.8 233.9,400.4 234.2,400.2 234.5,400.1 234.9,400.1 235.2,400.2 235.5,400.3 235.8,400.6 236.1,401.0 236.5,401.5 236.8,402.1 237.1,402.7 237.4,403.5 237.8,404.3 238.1,405.1 238.4,405.9 238.7,406.7 239.1,407.5 239.4,408.2 239.7,408.8 240.0,409.3 240.4,409.7 240.7,410.0 241.0,410.1 241.3,410.0 241.6,409.8 242.0,409.5 242.3,409.0 242.6,408.3 242.9,407.6 243.3,406.8 243.6,406.0 243.9,405.2 244.2,404.3 244.6,403.5 244.9,402.8 245.2,402.2 245.5,401.6 245.9,401.3 246.2,401.0 246.5,400.9 246.8,401.0 247.2,401.2 247.5,401.6 247.8,402.1 248.1,402.8 248.4,403.7 248.8,404.6 249.1,405.7 249.4,406.9 249.7,408.1 250.1,409.3 250.4,410.5 250.7,411.7 251.0,412.8 251.4,413.8 251.7,414.6 252.0,415.2 252.3,415.6 252.7,415.8 253.0,415.7 253.3,415.4 253.6,414.9 253.9,414.1 254.3,413.2 254.6,412.1 254.9,410.8 255.2,409.5 255.6,408.2 255.9,406.9 256.2,405.7 256.5,404.5 256.9,403.5 257.2,402.7 257.5,402.1 257.8,401.6 258.2,401.5 258.5,401.5 258.8,401.8 259.1,402.4 259.4,403.2 259.8,404.2 260.1,405.4 260.4,406.9 260.7,408.5 261.1,410.2 261.4,412.0 261.7,413.9 262.0,415.7 262.4,417.5 262.7,419.1 263.0,420.5 263.3,421.7 263.7,422.7 264.0,423.2 264.3,423.5 264.6,423.3 265.0,422.8 265.3,421.9 265.6,420.7 265.9,419.3 266.2,417.5 266.6,415.7 266.9,413.7 267.2,411.6 267.5,409.6 267.9,407.7 268.2,406.0 268.5,404.5 268.8,403.2 269.2,402.2 269.5,401.6 269.8,401.3 270.1,401.4 270.5,401.9 270.8,402.8 271.1,404.0 271.4,405.6 271.7,407.5 272.1,409.6 272.4,412.0 272.7,414.6 273.0,417.3 273.4,420.1 273.7,422.8 274.0,425.3 274.3,427.7 274.7,429.8 275.0,431.5 275.3,432.8 275.6,433.5 276.0,433.8 276.3,433.4 276.6,432.5 276.9,431.1 277.2,429.2 277.6,426.8 277.9,424.2 278.2,421.3 278.5,418.2 278.9,415.1 279.2,412.1 279.5,409.3 279.8,406.8 280.2,404.5 280.5,402.7 280.8,401.4 281.1,400.6 281.5,400.3 281.8,400.6 282.1,401.5 282.4,402.9 282.8,404.8 283.1,407.3 283.4,410.2 283.7,413.5 284.0,417.1 284.4,421.0 284.7,424.9 285.0,428.9 285.3,432.8 285.7,436.5 286.0,439.9 286.3,442.7 286.6,445.0 287.0,446.6 287.3,447.4 287.6,447.5 287.9,446.7 288.3,445.0 288.6,442.6 288.9,439.6 289.2,435.9 289.5,431.8 289.9,427.4 290.2,422.9 290.5,418.4 290.8,414.0 291.2,410.0 291.5,406.5 291.8,403.5 292.1,401.1 292.5,399.6 292.8,398.8 293.1,398.8 293.4,399.6 293.8,401.3 294.1,403.7 294.4,406.9 294.7,410.8 295.1,415.3 295.4,420.2 295.7,425.6 296.0,431.2 296.3,436.9 296.7,442.5 297.0,447.9 297.3,452.8 297.6,457.2 298.0,460.8 298.3,463.5 298.6,465.2 298.9,465.7 299.3,465.1 299.6,463.3 299.9,460.4 300.2,456.4 300.6,451.6 300.9,446.0 301.2,439.9 301.5,433.5 301.8,427.1 302.2,420.8 302.5,415.0 302.8,409.7 303.1,405.2 303.5,401.7 303.8,399.1 304.1,397.7 304.4,397.5 304.8,398.4 305.1,400.4 305.4,403.6 305.7,407.8 306.1,413.0 306.4,419.0 306.7,425.7 307.0,432.9 307.3,440.5 307.7,448.2 308.0,455.8 308.3,463.2 308.6,470.0 309.0,476.1 309.3,481.2 309.6,485.1 309.9,487.7 310.3,488.8 310.6,488.3 310.9,486.3 311.2,482.7 311.6,477.7 311.9,471.4 312.2,464.1 312.5,456.0 312.9,447.6 313.2,438.9 313.5,430.5 313.8,422.6 314.1,415.5 314.5,409.5 314.8,404.7 315.1,401.2 315.4,399.3 315.8,398.9 316.1,400.1 316.4,402.9 316.7,407.1 317.1,412.6 317.4,419.3 317.7,427.1 318.0,435.8 318.4,445.0 318.7,454.7 319.0,464.5 319.3,474.2 319.6,483.5 320.0,492.1 320.3,499.7 320.6,506.1 320.9,511.1 321.3,514.3 321.6,515.7 321.9,515.2 322.2,512.8 322.6,508.4 322.9,502.2 323.2,494.5 323.5,485.5 323.9,475.6 324.2,465.1 324.5,454.4 324.8,444.0 325.1,434.3 325.5,425.6 325.8,418.3 326.1,412.5 326.4,408.5 326.8,406.4 327.1,406.2 327.4,408.0 327.7,411.6 328.1,417.0 328.4,424.0 328.7,432.3 329.0,441.8 329.4,452.3 329.7,463.3 330.0,474.7 330.3,486.2 330.7,497.4 331.0,508.0 331.3,517.7 331.6,526.3 331.9,533.3 332.3,538.7 332.6,542.1 332.9,543.4 333.2,542.6 333.6,539.6 333.9,534.4 334.2,527.3 334.5,518.5 334.9,508.2 335.2,497.0 335.5,485.2 335.8,473.2 336.2,461.6 336.5,450.9 336.8,441.3 337.1,433.3 337.4,427.2 337.8,423.1 338.1,421.2 338.4,421.5 338.7,424.0 339.1,428.5 339.4,434.9 339.7,442.9 340.0,452.4 340.4,463.0 340.7,474.5 341.0,486.5 341.3,498.7 341.7,510.7 342.0,522.4 342.3,533.2 342.6,543.0 343.0,551.5 343.3,558.4 343.6,563.4 343.9,566.4 344.2,567.3 344.6,566.0 344.9,562.5 345.2,556.9 345.5,549.4 345.9,540.2 346.2,529.6 346.5,518.1 346.8,506.1 347.2,494.0 347.5,482.4 347.8,471.7 348.1,462.3 348.5,454.5 348.8,448.7 349.1,445.0 349.4,443.5 349.7,444.2 350.1,447.1 350.4,452.1 350.7,458.8 351.0,467.2 351.4,476.8 351.7,487.5 352.0,498.8 352.3,510.5 352.7,522.2 353.0,533.6 353.3,544.5 353.6,554.5 354.0,563.4 354.3,571.0 354.6,576.9 354.9,581.1 355.2,583.5 355.6,583.8 355.9,582.2 356.2,578.6 356.5,573.2 356.9,566.0 357.2,557.4 357.5,547.6 357.8,537.0 358.2,526.0 358.5,515.0 358.8,504.4 359.1,494.7 359.5,486.2 359.8,479.3 360.1,474.1 360.4,470.9 360.8,469.8 361.1,470.6 361.4,473.5 361.7,478.1 362.0,484.4 362.4,492.1 362.7,500.8 363.0,510.4 363.3,520.5 363.7,530.8 364.0,541.1 364.3,551.0 364.6,560.4 365.0,568.9 365.3,576.3 365.6,582.6 365.9,587.4 366.3,590.8 366.6,592.5 366.9,592.6 367.2,591.1 367.5,587.9 367.9,583.2 368.2,577.1 368.5,569.9 368.8,561.7 369.2,552.8 369.5,543.6 369.8,534.4 370.1,525.5 370.5,517.3 370.8,510.1 371.1,504.2 371.4,499.7 371.8,496.9 372.1,495.7 372.4,496.3 372.7,498.5 373.1,502.2 373.4,507.3 373.7,513.6 374.0,520.7 374.3,528.6 374.7,536.8 375.0,545.2 375.3,553.6 375.6,561.7 376.0,569.3 376.3,576.1 376.6,582.2 376.9,587.3 377.3,591.2 377.6,594.0 377.9,595.5 378.2,595.8 378.6,594.7 378.9,592.5 379.2,589.0 379.5,584.5 379.8,579.0 380.2,572.7 380.5,565.9 380.8,558.8 381.1,551.5 381.5,544.5 381.8,537.9 382.1,532.0 382.4,526.9 382.8,523.0 383.1,520.2 383.4,518.8 383.7,518.7 384.1,519.9 384.4,522.3 384.7,525.8 385.0,530.3 385.3,535.6 385.7,541.4 386.0,547.7 386.3,554.1 386.6,560.6 387.0,566.9 387.3,572.9 387.6,578.4 387.9,583.3 388.3,587.5 388.6,590.9 388.9,593.5 389.2,595.1 389.6,595.9 389.9,595.6 390.2,594.5 390.5,592.4 390.9,589.6 391.2,585.9 391.5,581.7 391.8,576.9 392.1,571.8 392.5,566.5 392.8,561.2 393.1,556.1 393.4,551.3 393.8,547.1 394.1,543.6 394.4,540.8 394.7,539.0 395.1,538.1 395.4,538.2 395.7,539.2 396.0,541.0 396.4,543.7 396.7,547.0 397.0,550.9 397.3,555.2 397.6,559.7 398.0,564.4 398.3,569.1 398.6,573.6 398.9,577.9 399.3,581.9 399.6,585.4 399.9,588.5 400.2,591.0 400.6,592.8 400.9,594.1 401.2,594.7 401.5,594.7 401.9,594.0 402.2,592.7 402.5,590.8 402.8,588.5 403.1,585.6 403.5,582.5 403.8,579.0 404.1,575.5 404.4,571.9 404.8,568.4 405.1,565.1 405.4,562.1 405.7,559.6 406.1,557.5 406.4,556.1 406.7,555.3 407.0,555.1 407.4,555.5 407.7,556.6 408.0,558.2 408.3,560.2 408.7,562.6 409.0,565.3 409.3,568.3 409.6,571.3 409.9,574.4 410.3,577.4 410.6,580.3 410.9,583.1 411.2,585.5 411.6,587.7 411.9,589.5 412.2,591.0 412.5,592.1 412.9,592.8 413.2,593.0 413.5,592.9 413.8,592.5 414.2,591.6 414.5,590.4 414.8,589.0 415.1,587.3 415.4,585.4 415.8,583.3 416.1,581.3 416.4,579.2 416.7,577.2 417.1,575.4 417.4,573.8 417.7,572.5 418.0,571.4 418.4,570.7 418.7,570.4 419.0,570.4 419.3,570.8 419.7,571.4 420.0,572.4 420.3,573.6 420.6,575.0 421.0,576.5 421.3,578.1 421.6,579.8 421.9,581.5 422.2,583.1 422.6,584.6 422.9,586.0 423.2,587.2 423.5,588.3 423.9,589.2 424.2,589.9 424.5,590.4 424.8,590.7 425.2,590.8 425.5,590.8 425.8,590.5 426.1,590.1 426.5,589.5 426.8,588.8 427.1,588.1 427.4,587.2 427.7,586.4 428.1,585.5 428.4,584.7 428.7,584.0 429.0,583.4 429.4,582.9 429.7,582.5 430.0,582.3 430.3,582.2 430.7,582.3 431.0,582.5 431.3,582.9 431.6,583.3 432.0,583.9 432.3,584.5 432.6,585.2 432.9,585.9 433.2,586.5 433.6,587.2 433.9,587.8 434.2,588.3 434.5,588.8 434.9,589.1 435.2,589.4 435.5,589.6 435.8,589.7 436.2,589.6 436.5,589.5 436.8,589.3 437.1,589.1 437.5,588.8 437.8,588.4 438.1,588.0 438.4,587.6 438.8,587.2 439.1,586.9 439.4,586.6 439.7,586.3 440.0,586.2 440.4,586.1 440.7,586.1 441.0,586.2 441.3,586.5 441.7,586.8 442.0,587.2 442.3,587.7 442.6,588.2 443.0,588.8 443.3,589.4 443.6,590.0 443.9,590.6 444.3,591.2 444.6,591.7 444.9,592.1 445.2,592.5 445.5,592.8 445.9,592.9 446.2,593.0 446.5,593.0 446.8,592.9 447.2,592.7 447.5,592.4 447.8,592.0 448.1,591.5 448.5,591.0 448.8,590.4 449.1,589.8 449.4,589.2 449.8,588.5 450.1,587.9 450.4,587.3 450.7,586.8 451.0,586.3 451.4,585.9 451.7,585.7 452.0,585.5 452.3,585.5 452.7,585.6 453.0,585.9 453.3,586.2 453.6,586.7 454.0,587.3 454.3,588.0 454.6,588.7 454.9,589.5 455.3,590.3 455.6,591.0 455.9,591.8 456.2,592.5 456.6,593.2 456.9,593.8 457.2,594.3 457.5,594.7 457.8,595.0 458.2,595.3 458.5,595.4 458.8,595.4 459.1,595.3 459.5,595.1 459.8,594.9 460.1,594.5 460.4,594.1 460.8,593.6 461.1,593.0 461.4,592.4 461.7,591.8 462.1,591.2 462.4,590.5 462.7,589.9 463.0,589.3 463.3,588.8 463.7,588.3 464.0,587.9 464.3,587.7 464.6,587.5 465.0,587.4 465.3,587.5 465.6,587.6 465.9,587.9 466.3,588.2 466.6,588.7 466.9,589.1 467.2,589.7 467.6,590.3 467.9,590.9 468.2,591.5 468.5,592.1 468.9,592.7 469.2,593.2 469.5,593.8 469.8,594.2 470.1,594.6 470.5,595.0 470.8,595.3 471.1,595.5 471.4,595.7 471.8,595.8 472.1,595.8 472.4,595.8 472.7,595.7 473.1,595.6 473.4,595.4 473.7,595.2 474.0,594.9 474.4,594.6 474.7,594.2 475.0,593.9 475.3,593.5 475.6,593.2 476.0,592.9 476.3,592.6 476.6,592.3 476.9,592.0 477.3,591.9 477.6,591.7 477.9,591.6 478.2,591.6 478.6,591.6 478.9,591.7 479.2,591.8 479.5,591.9 479.9,592.1 480.2,592.3 480.5,592.5 480.8,592.8 481.1,593.0 481.5,593.2 481.8,593.5 482.1,593.7 482.4,594.0 482.8,594.2 483.1,594.4 483.4,594.6 483.7,594.8 484.1,594.9 484.4,595.1 484.7,595.2 485.0,595.4 485.4,595.5 485.7,595.5 486.0,595.6 486.3,595.6 486.7,595.7 487.0,595.7 487.3,595.7 487.6,595.7 487.9,595.6 488.3,595.6 488.6,595.6 488.9,595.5 489.2,595.4 489.6,595.4 489.9,595.3 490.2,595.2 490.5,595.1 490.9,595.1 491.2,595.0 491.5,594.9 491.8,594.9 492.2,594.8 492.5,594.7 492.8,594.7 493.1,594.6 493.4,594.5 493.8,594.5 494.1,594.4 494.4,594.4 494.7,594.4 495.1,594.3 495.4,594.3 495.7,594.3 496.0,594.3 496.4,594.3 496.7,594.3 497.0,594.3 497.3,594.3 497.7,594.4 498.0,594.4 498.3,594.5 498.6,594.6 498.9,594.7 499.3,594.8 499.6,594.9 499.9,595.1 500.2,595.2 500.6,595.3 500.9,595.5 501.2,595.6 501.5,595.7 501.9,595.8 502.2,595.9 502.5,596.0 502.8,596.0 503.2,596.1 503.5,596.1 503.8,596.1 504.1,596.1 504.5,596.1 504.8,596.0 505.1,596.0 505.4,595.9 505.7,595.8 506.1,595.7 506.4,595.6 506.7,595.5 507.0,595.4 507.4,595.2 507.7,595.1 508.0,595.0 508.3,594.9 508.7,594.7 509.0,594.6 509.3,594.5 509.6,594.4 510.0,594.3 510.3,594.3 510.6,594.2 510.9,594.2 511.2,594.2 511.6,594.2 511.9,594.3 512.2,594.3 512.5,594.4 512.9,594.5 513.2,594.6 513.5,594.7 513.8,594.8 514.2,595.0 514.5,595.1 514.8,595.2 515.1,595.3 515.5,595.4 515.8,595.5 516.1,595.6 516.4,595.7 516.8,595.8 517.1,595.9 517.4,595.9 517.7,596.0 518.0,596.0 518.4,596.0 518.7,596.0 519.0,596.0 519.3,596.0 519.7,595.9 520.0,595.9 520.3,595.8 520.6,595.8 521.0,595.7 521.3,595.6 521.6,595.5 521.9,595.4 522.3,595.3 522.6,595.3 522.9,595.2 523.2,595.1 523.5,595.0 523.9,595.0 524.2,594.9 524.5,594.9 524.8,594.9 525.2,594.9 525.5,594.9 525.8,594.9 526.1,594.9 526.5,594.9 526.8,595.0 527.1,595.0 527.4,595.1 527.8,595.1 528.1,595.2 528.4,595.2 528.7,595.3 529.0,595.4 529.4,595.4 529.7,595.5 530.0,595.6 530.3,595.6 530.7,595.7 531.0,595.7 531.3,595.8 531.6,595.8 532.0,595.9 532.3,595.9 532.6,595.9 532.9,596.0 533.3,596.0 533.6,596.0 533.9,596.0 534.2,596.0 534.6,596.0 534.9,595.9 535.2,595.9 535.5,595.9 535.8,595.9 536.2,595.8 536.5,595.8 536.8,595.7 537.1,595.7 537.5,595.6 537.8,595.6 538.1,595.6 538.4,595.5 538.8,595.5 539.1,595.5 539.4,595.5 539.7,595.4 540.1,595.4 540.4,595.4 540.7,595.4 541.0,595.4 541.3,595.4 541.7,595.4 542.0,595.4 542.3,595.4 542.6,595.4 543.0,595.4 543.3,595.5 543.6,595.5 543.9,595.5 544.3,595.5 544.6,595.6 544.9,595.6 545.2,595.6 545.6,595.7 545.9,595.7 546.2,595.7 546.5,595.8 546.9,595.8 547.2,595.8 547.5,595.8 547.8,595.9 548.1,595.9 548.5,595.9 548.8,595.9 549.1,595.9 549.4,595.9 549.8,595.9 550.1,595.9 550.4,595.9 550.7,595.8 551.1,595.8 551.4,595.8 551.7,595.8 552.0,595.7 552.4,595.7 552.7,595.7 553.0,595.7 553.3,595.6 553.6,595.6 554.0,595.6 554.3,595.6 554.6,595.5 554.9,595.5 555.3,595.5 555.6,595.5 555.9,595.5 556.2,595.5 556.6,595.4 556.9,595.4 557.2,595.4 557.5,595.4 557.9,595.4 558.2,595.5 558.5,595.5 558.8,595.5 559.1,595.5 559.5,595.5 559.8,595.5 560.1,595.6 560.4,595.6 560.8,595.6 561.1,595.6 561.4,595.6 561.7,595.7 562.1,595.7 562.4,595.7 562.7,595.7 563.0,595.7 563.4,595.7 563.7,595.7 564.0,595.7 564.3,595.7 564.7,595.7 565.0,595.7 565.3,595.7 565.6,595.7 565.9,595.7 566.3,595.7 566.6,595.7 566.9,595.7 567.2,595.7 567.6,595.7 567.9,595.7 568.2,595.6 568.5,595.6 568.9,595.6 569.2,595.6 569.5,595.6 569.8,595.6 570.2,595.5 570.5,595.5 570.8,595.5 571.1,595.5 571.4,595.5 571.8,595.5 572.1,595.5 572.4,595.5 572.7,595.5 573.1,595.5 573.4,595.5 573.7,595.5 574.0,595.5 574.4,595.6 574.7,595.6 575.0,595.6 575.3,595.6 575.7,595.6 576.0,595.6 576.3,595.6 576.6,595.6 576.9,595.7 577.3,595.7 577.6,595.7 577.9,595.7 578.2,595.7 578.6,595.7 578.9,595.7 579.2,595.7 579.5,595.7 579.9,595.7 580.2,595.7 580.5,595.7 580.8,595.7 581.2,595.7 581.5,595.7 581.8,595.7 582.1,595.7 582.5,595.7 582.8,595.7 583.1,595.7 583.4,595.7 583.7,595.7 584.1,595.6 584.4,595.6 584.7,595.6 585.0,595.6 585.4,595.6 585.7,595.6 586.0,595.6 586.3,595.6 586.7,595.6 587.0,595.6 587.3,595.6 587.6,595.6 588.0,595.6 588.3,595.6 588.6,595.6 588.9,595.6 589.2,595.6 589.6,595.6 589.9,595.6 590.2,595.6 590.5,595.6 590.9,595.6 591.2,595.6 591.5,595.7 591.8,595.7 592.2,595.7 592.5,595.7 592.8,595.7 593.1,595.7 593.5,595.7 593.8,595.7 594.1,595.7 594.4,595.7 594.8,595.7 595.1,595.7 595.4,595.7 595.7,595.7 596.0,595.7 596.4,595.7 596.7,595.7 597.0,595.7 597.3,595.7 597.7,595.7 598.0,595.7 598.3,595.7 598.6,595.7 599.0,595.7 599.3,595.7 599.6,595.7 599.9,595.6" stroke="#000" stroke-width="2.5" stroke-linejoin="round"/>
<polyline points="82.4,596.1 82.7,596.1 83.1,596.1 83.4,596.1 83.7,596.1 84.0,596.1 84.4,596.1 84.7,596.1 85.0,596.1 85.3,596.1 85.6,596.1 86.0,596.1 86.3,596.1 86.6,596.1 86.9,596.1 87.3,596.1 87.6,596.1 87.9,596.1 88.2,596.1 88.6,596.1 88.9,596.1 89.2,596.1 89.5,596.1 89.9,596.1 90.2,596.1 90.5,596.1 90.8,596.1 91.2,596.1 91.5,596.1 91.8,596.1 92.1,596.1 92.4,596.1 92.8,596.1 93.1,596.1 93.4,596.1 93.7,596.1 94.1,596.1 94.4,596.1 94.7,596.1 95.0,596.1 95.4,596.1 95.7,596.1 96.0,596.1 96.3,596.1 96.7,596.1 97.0,596.1 97.3,596.1 97.6,596.1 97.9,596.1 98.3,596.1 98.6,596.1 98.9,596.1 99.2,596.1 99.6,596.1 99.9,596.1 100.2,596.1 100.5,596.1 100.9,596.1 101.2,596.1 101.5,596.1 101.8,596.1 102.2,596.1 102.5,596.1 102.8,596.1 103.1,596.1 103.4,596.1 103.8,596.1 104.1,596.1 104.4,596.1 104.7,596.1 105.1,596.1 105.4,596.1 105.7,596.1 106.0,596.1 106.4,596.1 106.7,596.1 107.0,596.1 107.3,596.1 107.7,596.1 108.0,596.1 108.3,596.1 108.6,596.1 109.0,596.1 109.3,596.1 109.6,596.1 109.9,596.1 110.2,596.1 110.6,596.1 110.9,596.1 111.2,596.1 111.5,596.1 111.9,596.1 112.2,596.1 112.5,596.1 112.8,596.1 113.2,596.1 113.5,596.1 113.8,596.1 114.1,596.1 114.5,596.1 114.8,596.1 115.1,596.1 115.4,596.1 115.7,596.1 116.1,596.1 116.4,596.1 116.7,596.1 117.0,596.1 117.4,596.1 117.7,596.1 118.0,596.1 118.3,596.1 118.7,596.1 119.0,596.1 119.3,596.1 119.6,596.1 120.0,596.1 120.3,596.1 120.6,596.1 120.9,596.1 121.3,596.1 121.6,596.1 121.9,596.1 122.2,596.1 122.5,596.1 122.9,596.1 123.2,596.1 123.5,596.1 123.8,596.1 124.2,596.1 124.5,596.1 124.8,596.1 125.1,596.1 125.5,596.1 125.8,596.1 126.1,596.1 126.4,596.1 126.8,596.1 127.1,596.1 127.4,596.1 127.7,596.1 128.0,596.1 128.4,596.1 128.7,596.1 129.0,596.1 129.3,596.1 129.7,596.1 130.0,596.1 130.3,596.1 130.6,596.1 131.0,596.1 131.3,596.1 131.6,596.1 131.9,596.1 132.3,596.1 132.6,596.1 132.9,596.1 133.2,596.1 133.5,596.0 133.9,596.0 134.2,596.0 134.5,596.0 134.8,596.0 135.2,596.0 135.5,596.0 135.8,596.0 136.1,596.0 136.5,596.0 136.8,596.0 137.1,596.0 137.4,596.0 137.8,596.0 138.1,596.1 138.4,596.1 138.7,596.1 139.1,596.1 139.4,596.1 139.7,596.1 140.0,596.1 140.3,596.1 140.7,596.1 141.0,596.1 141.3,596.1 141.6,596.1 142.0,596.1 142.3,596.1 142.6,596.1 142.9,596.1 143.3,596.0 143.6,596.0 143.9,596.0 144.2,596.0 144.6,596.0 144.9,596.0 145.2,596.0 145.5,596.0 145.8,596.0 146.2,596.0 146.5,596.0 146.8,596.0 147.1,596.0 147.5,596.0 147.8,596.0 148.1,596.0 148.4,596.0 148.8,596.0 149.1,596.0 149.4,596.0 149.7,596.0 150.1,596.0 150.4,596.0 150.7,596.0 151.0,596.0 151.3,596.0 151.7,596.0 152.0,596.0 152.3,596.0 152.6,596.0 153.0,596.0 153.3,596.0 153.6,596.0 153.9,596.0 154.3,596.0 154.6,596.0 154.9,596.0 155.2,596.0 155.6,595.9 155.9,595.9 156.2,595.9 156.5,595.9 156.9,595.9 157.2,595.9 157.5,595.9 157.8,595.9 158.1,595.9 158.5,595.9 158.8,595.9 159.1,595.9 159.4,595.9 159.8,595.9 160.1,595.9 160.4,595.9 160.7,595.9 161.1,595.9 161.4,595.9 161.7,595.9 162.0,595.9 162.4,596.0 162.7,596.0 163.0,596.0 163.3,596.0 163.6,596.0 164.0,596.0 164.3,596.0 164.6,596.0 164.9,595.9 165.3,595.9 165.6,595.9 165.9,595.9 166.2,595.9 166.6,595.8 166.9,595.8 167.2,595.8 167.5,595.8 167.9,595.7 168.2,595.7 168.5,595.7 168.8,595.6 169.2,595.6 169.5,595.6 169.8,595.6 170.1,595.6 170.4,595.6 170.8,595.6 171.1,595.6 171.4,595.6 171.7,595.6 172.1,595.6 172.4,595.7 172.7,595.7 173.0,595.7 173.4,595.7 173.7,595.8 174.0,595.8 174.3,595.8 174.7,595.8 175.0,595.9 175.3,595.9 175.6,595.9 175.9,595.9 176.3,595.9 176.6,595.9 176.9,595.8 177.2,595.8 177.6,595.8 177.9,595.7 178.2,595.7 178.5,595.6 178.9,595.6 179.2,595.5 179.5,595.4 179.8,595.4 180.2,595.3 180.5,595.3 180.8,595.2 181.1,595.2 181.4,595.1 181.8,595.1 182.1,595.1 182.4,595.1 182.7,595.1 183.1,595.1 183.4,595.1 183.7,595.2 184.0,595.2 184.4,595.2 184.7,595.3 185.0,595.4 185.3,595.4 185.7,595.5 186.0,595.5 186.3,595.6 186.6,595.6 187.0,595.6 187.3,595.7 187.6,595.7 187.9,595.7 188.2,595.6 188.6,595.6 188.9,595.6 189.2,595.5 189.5,595.5 189.9,595.4 190.2,595.3 190.5,595.2 190.8,595.1 191.2,595.0 191.5,594.9 191.8,594.8 192.1,594.7 192.5,594.6 192.8,594.5 193.1,594.4 193.4,594.4 193.7,594.3 194.1,594.3 194.4,594.3 194.7,594.3 195.0,594.3 195.4,594.4 195.7,594.5 196.0,594.6 196.3,594.6 196.7,594.7 197.0,594.8 197.3,594.9 197.6,595.0 198.0,595.1 198.3,595.2 198.6,595.2 198.9,595.3 199.3,595.3 199.6,595.3 199.9,595.3 200.2,595.2 200.5,595.2 200.9,595.1 201.2,595.0 201.5,594.8 201.8,594.7 202.2,594.5 202.5,594.4 202.8,594.2 203.1,594.0 203.5,593.8 203.8,593.7 204.1,593.5 204.4,593.3 204.8,593.2 205.1,593.1 205.4,593.1 205.7,593.0 206.0,593.0 206.4,593.0 206.7,593.1 207.0,593.2 207.3,593.3 207.7,593.5 208.0,593.6 208.3,593.8 208.6,594.0 209.0,594.1 209.3,594.3 209.6,594.4 209.9,594.6 210.3,594.7 210.6,594.7 210.9,594.8 211.2,594.8 211.5,594.8 211.9,594.7 212.2,594.6 212.5,594.5 212.8,594.3 213.2,594.1 213.5,593.8 213.8,593.5 214.1,593.3 214.5,592.9 214.8,592.6 215.1,592.3 215.4,592.0 215.8,591.7 216.1,591.5 216.4,591.3 216.7,591.1 217.1,591.0 217.4,590.9 217.7,590.9 218.0,590.9 218.3,591.1 218.7,591.2 219.0,591.4 219.3,591.7 219.6,592.0 220.0,592.3 220.3,592.6 220.6,592.9 220.9,593.2 221.3,593.4 221.6,593.7 221.9,593.9 222.2,594.0 222.6,594.1 222.9,594.2 223.2,594.2 223.5,594.1 223.8,593.9 224.2,593.7 224.5,593.4 224.8,593.1 225.1,592.7 225.5,592.3 225.8,591.8 226.1,591.3 226.4,590.8 226.8,590.3 227.1,589.7 227.4,589.3 227.7,588.8 228.1,588.4 228.4,588.1 228.7,587.9 229.0,587.8 229.3,587.7 229.7,587.8 230.0,587.9 230.3,588.2 230.6,588.5 231.0,588.9 231.3,589.4 231.6,589.9 231.9,590.4 232.3,590.9 232.6,591.5 232.9,591.9 233.2,592.4 233.6,592.7 233.9,593.1 234.2,593.3 234.5,593.4 234.9,593.4 235.2,593.3 235.5,593.2 235.8,592.9 236.1,592.5 236.5,592.0 236.8,591.4 237.1,590.8 237.4,590.0 237.8,589.2 238.1,588.4 238.4,587.6 238.7,586.8 239.1,586.0 239.4,585.3 239.7,584.7 240.0,584.2 240.4,583.8 240.7,583.5 241.0,583.4 241.3,583.5 241.6,583.7 242.0,584.0 242.3,584.5 242.6,585.2 242.9,585.9 243.3,586.7 243.6,587.5 243.9,588.3 244.2,589.2 244.6,590.0 244.9,590.7 245.2,591.3 245.5,591.9 245.9,592.2 246.2,592.5 246.5,592.6 246.8,592.5 247.2,592.3 247.5,591.9 247.8,591.4 248.1,590.7 248.4,589.8 248.8,588.9 249.1,587.8 249.4,586.6 249.7,585.4 250.1,584.2 250.4,583.0 250.7,581.8 251.0,580.7 251.4,579.7 251.7,578.9 252.0,578.3 252.3,577.9 252.7,577.7 253.0,577.8 253.3,578.1 253.6,578.6 253.9,579.4 254.3,580.3 254.6,581.4 254.9,582.7 255.2,584.0 255.6,585.3 255.9,586.6 256.2,587.8 256.5,589.0 256.9,590.0 257.2,590.8 257.5,591.4 257.8,591.9 258.2,592.0 258.5,592.0 258.8,591.7 259.1,591.1 259.4,590.3 259.8,589.3 260.1,588.1 260.4,586.6 260.7,585.0 261.1,583.3 261.4,581.5 261.7,579.6 262.0,577.8 262.4,576.0 262.7,574.4 263.0,573.0 263.3,571.8 263.7,570.8 264.0,570.3 264.3,570.0 264.6,570.2 265.0,570.7 265.3,571.6 265.6,572.8 265.9,574.2 266.2,576.0 266.6,577.8 266.9,579.8 267.2,581.9 267.5,583.9 267.9,585.8 268.2,587.5 268.5,589.0 268.8,590.3 269.2,591.3 269.5,591.9 269.8,592.2 270.1,592.1 270.5,591.6 270.8,590.7 271.1,589.5 271.4,587.9 271.7,586.0 272.1,583.9 272.4,581.5 272.7,578.9 273.0,576.2 273.4,573.4 273.7,570.7 274.0,568.2 274.3,565.8 274.7,563.7 275.0,562.0 275.3,560.7 275.6,560.0 276.0,559.7 276.3,560.1 276.6,561.0 276.9,562.4 277.2,564.3 277.6,566.7 277.9,569.3 278.2,572.2 278.5,575.3 278.9,578.4 279.2,581.4 279.5,584.2 279.8,586.7 280.2,589.0 280.5,590.8 280.8,592.1 281.1,592.9 281.5,593.2 281.8,592.9 282.1,592.0 282.4,590.6 282.8,588.7 283.1,586.2 283.4,583.3 283.7,580.0 284.0,576.4 284.4,572.5 284.7,568.6 285.0,564.6 285.3,560.7 285.7,557.0 286.0,553.6 286.3,550.8 286.6,548.5 287.0,546.9 287.3,546.1 287.6,546.0 287.9,546.8 288.3,548.5 288.6,550.9 288.9,553.9 289.2,557.6 289.5,561.7 289.9,566.1 290.2,570.6 290.5,575.1 290.8,579.5 291.2,583.5 291.5,587.0 291.8,590.0 292.1,592.4 292.5,593.9 292.8,594.7 293.1,594.7 293.4,593.9 293.8,592.2 294.1,589.8 294.4,586.6 294.7,582.7 295.1,578.2 295.4,573.3 295.7,567.9 296.0,562.3 296.3,556.6 296.7,551.0 297.0,545.6 297.3,540.7 297.6,536.3 298.0,532.7 298.3,530.0 298.6,528.3 298.9,527.8 299.3,528.4 299.6,530.2 299.9,533.1 300.2,537.1 300.6,541.9 300.9,547.5 301.2,553.6 301.5,560.0 301.8,566.4 302.2,572.7 302.5,578.5 302.8,583.8 303.1,588.3 303.5,591.8 303.8,594.4 304.1,595.8 304.4,596.0 304.8,595.1 305.1,593.1 305.4,589.9 305.7,585.7 306.1,580.5 306.4,574.5 306.7,567.8 307.0,560.6 307.3,553.0 307.7,545.3 308.0,537.7 308.3,530.3 308.6,523.5 309.0,517.4 309.3,512.3 309.6,508.4 309.9,505.8 310.3,504.7 310.6,505.2 310.9,507.2 311.2,510.8 311.6,515.8 311.9,522.1 312.2,529.4 312.5,537.5 312.9,545.9 313.2,554.6 313.5,563.0 313.8,570.9 314.1,578.0 314.5,584.0 314.8,588.8 315.1,592.3 315.4,594.2 315.8,594.6 316.1,593.4 316.4,590.6 316.7,586.4 317.1,580.9 317.4,574.2 317.7,566.4 318.0,557.7 318.4,548.5 318.7,538.8 319.0,529.0 319.3,519.3 319.6,510.0 320.0,501.4 320.3,493.8 320.6,487.4 320.9,482.4 321.3,479.2 321.6,477.8 321.9,478.3 322.2,480.7 322.6,485.1 322.9,491.3 323.2,499.0 323.5,508.0 323.9,517.9 324.2,528.4 324.5,539.1 324.8,549.5 325.1,559.2 325.5,567.9 325.8,575.2 326.1,581.0 326.4,585.0 326.8,587.1 327.1,587.3 327.4,585.5 327.7,581.9 328.1,576.5 328.4,569.5 328.7,561.2 329.0,551.7 329.4,541.2 329.7,530.2 330.0,518.8 330.3,507.3 330.7,496.1 331.0,485.5 331.3,475.8 331.6,467.2 331.9,460.2 332.3,454.8 332.6,451.4 332.9,450.1 333.2,450.9 333.6,453.9 333.9,459.1 334.2,466.2 334.5,475.0 334.9,485.3 335.2,496.5 335.5,508.3 335.8,520.3 336.2,531.9 336.5,542.6 336.8,552.2 337.1,560.2 337.4,566.3 337.8,570.4 338.1,572.3 338.4,572.0 338.7,569.5 339.1,565.0 339.4,558.6 339.7,550.6 340.0,541.1 340.4,530.5 340.7,519.0 341.0,507.0 341.3,494.8 341.7,482.8 342.0,471.1 342.3,460.3 342.6,450.5 343.0,442.0 343.3,435.1 343.6,430.1 343.9,427.1 344.2,426.2 344.6,427.5 344.9,431.0 345.2,436.6 345.5,444.1 345.9,453.3 346.2,463.9 346.5,475.4 346.8,487.4 347.2,499.5 347.5,511.1 347.8,521.8 348.1,531.2 348.5,539.0 348.8,544.8 349.1,548.5 349.4,550.0 349.7,549.3 350.1,546.4 350.4,541.4 350.7,534.7 351.0,526.3 351.4,516.7 351.7,506.0 352.0,494.7 352.3,483.0 352.7,471.3 353.0,459.9 353.3,449.0 353.6,439.0 354.0,430.1 354.3,422.5 354.6,416.6 354.9,412.4 355.2,410.0 355.6,409.7 355.9,411.3 356.2,414.9 356.5,420.3 356.9,427.5 357.2,436.1 357.5,445.9 357.8,456.5 358.2,467.5 358.5,478.5 358.8,489.1 359.1,498.8 359.5,507.3 359.8,514.2 360.1,519.4 360.4,522.6 360.8,523.7 361.1,522.9 361.4,520.0 361.7,515.4 362.0,509.1 362.4,501.4 362.7,492.7 363.0,483.1 363.3,473.0 363.7,462.7 364.0,452.4 364.3,442.5 364.6,433.1 365.0,424.6 365.3,417.2 365.6,410.9 365.9,406.1 366.3,402.7 366.6,401.0 366.9,400.9 367.2,402.4 367.5,405.6 367.9,410.3 368.2,416.4 368.5,423.6 368.8,431.8 369.2,440.7 369.5,449.9 369.8,459.1 370.1,468.0 370.5,476.2 370.8,483.4 371.1,489.3 371.4,493.8 371.8,496.6 372.1,497.8 372.4,497.2 372.7,495.0 373.1,491.3 373.4,486.2 373.7,479.9 374.0,472.8 374.3,464.9 374.7,456.7 375.0,448.3 375.3,439.9 375.6,431.8 376.0,424.2 376.3,417.4 376.6,411.3 376.9,406.2 377.3,402.3 377.6,399.5 377.9,398.0 378.2,397.7 378.6,398.8 378.9,401.0 379.2,404.5 379.5,409.0 379.8,414.5 380.2,420.8 380.5,427.6 380.8,434.7 381.1,442.0 381.5,449.0 381.8,455.6 382.1,461.5 382.4,466.6 382.8,470.5 383.1,473.3 383.4,474.7 383.7,474.8 384.1,473.6 384.4,471.2 384.7,467.7 385.0,463.2 385.3,457.9 385.7,452.1 386.0,445.8 386.3,439.4 386.6,432.9 387.0,426.6 387.3,420.6 387.6,415.1 387.9,410.2 388.3,406.0 388.6,402.6 388.9,400.0 389.2,398.4 389.6,397.6 389.9,397.9 390.2,399.0 390.5,401.1 390.9,403.9 391.2,407.6 391.5,411.8 391.8,416.6 392.1,421.7 392.5,427.0 392.8,432.3 393.1,437.4 393.4,442.2 393.8,446.4 394.1,449.9 394.4,452.7 394.7,454.5 395.1,455.4 395.4,455.3 395.7,454.3 396.0,452.5 396.4,449.8 396.7,446.5 397.0,442.6 397.3,438.3 397.6,433.8 398.0,429.1 398.3,424.4 398.6,419.9 398.9,415.6 399.3,411.6 399.6,408.1 399.9,405.0 400.2,402.5 400.6,400.7 400.9,399.4 401.2,398.8 401.5,398.8 401.9,399.5 402.2,400.8 402.5,402.7 402.8,405.0 403.1,407.9 403.5,411.0 403.8,414.5 404.1,418.0 404.4,421.6 404.8,425.1 405.1,428.4 405.4,431.4 405.7,433.9 406.1,436.0 406.4,437.4 406.7,438.2 407.0,438.4 407.4,438.0 407.7,436.9 408.0,435.3 408.3,433.3 408.7,430.9 409.0,428.2 409.3,425.2 409.6,422.2 409.9,419.1 410.3,416.1 410.6,413.2 410.9,410.4 411.2,408.0 411.6,405.8 411.9,404.0 412.2,402.5 412.5,401.4 412.9,400.7 413.2,400.5 413.5,400.6 413.8,401.0 414.2,401.9 414.5,403.1 414.8,404.5 415.1,406.2 415.4,408.1 415.8,410.2 416.1,412.2 416.4,414.3 416.7,416.3 417.1,418.1 417.4,419.7 417.7,421.0 418.0,422.1 418.4,422.8 418.7,423.1 419.0,423.1 419.3,422.7 419.7,422.1 420.0,421.1 420.3,419.9 420.6,418.5 421.0,417.0 421.3,415.4 421.6,413.7 421.9,412.0 422.2,410.4 422.6,408.9 422.9,407.5 423.2,406.3 423.5,405.2 423.9,404.3 424.2,403.6 424.5,403.1 424.8,402.8 425.2,402.7 425.5,402.7 425.8,403.0 426.1,403.4 426.5,404.0 426.8,404.7 427.1,405.4 427.4,406.3 427.7,407.1 428.1,408.0 428.4,408.8 428.7,409.5 429.0,410.1 429.4,410.6 429.7,411.0 430.0,411.2 430.3,411.3 430.7,411.2 431.0,411.0 431.3,410.6 431.6,410.2 432.0,409.6 432.3,409.0 432.6,408.3 432.9,407.6 433.2,407.0 433.6,406.3 433.9,405.7 434.2,405.2 434.5,404.7 434.9,404.4 435.2,404.1 435.5,403.9 435.8,403.8 436.2,403.9 436.5,404.0 436.8,404.2 437.1,404.4 437.5,404.7 437.8,405.1 438.1,405.5 438.4,405.9 438.8,406.3 439.1,406.6 439.4,406.9 439.7,407.2 440.0,407.3 440.4,407.4 440.7,407.4 441.0,407.3 441.3,407.0 441.7,406.7 442.0,406.3 442.3,405.8 442.6,405.3 443.0,404.7 443.3,404.1 443.6,403.5 443.9,402.9 444.3,402.3 444.6,401.8 444.9,401.4 445.2,401.0 445.5,400.7 445.9,400.6 446.2,400.5 446.5,400.5 446.8,400.6 447.2,400.8 447.5,401.1 447.8,401.5 448.1,402.0 448.5,402.5 448.8,403.1 449.1,403.7 449.4,404.3 449.8,405.0 450.1,405.6 450.4,406.2 450.7,406.7 451.0,407.2 451.4,407.6 451.7,407.8 452.0,408.0 452.3,408.0 452.7,407.9 453.0,407.6 453.3,407.3 453.6,406.8 454.0,406.2 454.3,405.5 454.6,404.8 454.9,404.0 455.3,403.2 455.6,402.5 455.9,401.7 456.2,401.0 456.6,400.3 456.9,399.7 457.2,399.2 457.5,398.8 457.8,398.5 458.2,398.2 458.5,398.1 458.8,398.1 459.1,398.2 459.5,398.4 459.8,398.6 460.1,399.0 460.4,399.4 460.8,399.9 461.1,400.5 461.4,401.1 461.7,401.7 462.1,402.3 462.4,403.0 462.7,403.6 463.0,404.2 463.3,404.7 463.7,405.2 464.0,405.6 464.3,405.8 464.6,406.0 465.0,406.1 465.3,406.0 465.6,405.9 465.9,405.6 466.3,405.3 466.6,404.8 466.9,404.4 467.2,403.8 467.6,403.2 467.9,402.6 468.2,402.0 468.5,401.4 468.9,400.8 469.2,400.3 469.5,399.7 469.8,399.3 470.1,398.9 470.5,398.5 470.8,398.2 471.1,398.0 471.4,397.8 471.8,397.7 472.1,397.7 472.4,397.7 472.7,397.8 473.1,397.9 473.4,398.1 473.7,398.3 474.0,398.6 474.4,398.9 474.7,399.3 475.0,399.6 475.3,400.0 475.6,400.3 476.0,400.6 476.3,400.9 476.6,401.2 476.9,401.5 477.3,401.6 477.6,401.8 477.9,401.9 478.2,401.9 478.6,401.9 478.9,401.8 479.2,401.7 479.5,401.6 479.9,401.4 480.2,401.2 480.5,401.0 480.8,400.7 481.1,400.5 481.5,400.3 481.8,400.0 482.1,399.8 482.4,399.5 482.8,399.3 483.1,399.1 483.4,398.9 483.7,398.7 484.1,398.6 484.4,398.4 484.7,398.3 485.0,398.1 485.4,398.0 485.7,398.0 486.0,397.9 486.3,397.9 486.7,397.8 487.0,397.8 487.3,397.8 487.6,397.8 487.9,397.9 488.3,397.9 488.6,397.9 488.9,398.0 489.2,398.1 489.6,398.1 489.9,398.2 490.2,398.3 490.5,398.4 490.9,398.4 491.2,398.5 491.5,398.6 491.8,398.6 492.2,398.7 492.5,398.8 492.8,398.8 493.1,398.9 493.4,399.0 493.8,399.0 494.1,399.1 494.4,399.1 494.7,399.1 495.1,399.2 495.4,399.2 495.7,399.2 496.0,399.2 496.4,399.2 496.7,399.2 497.0,399.2 497.3,399.2 497.7,399.1 498.0,399.1 498.3,399.0 498.6,398.9 498.9,398.8 499.3,398.7 499.6,398.6 499.9,398.4 500.2,398.3 500.6,398.2 500.9,398.0 501.2,397.9 501.5,397.8 501.9,397.7 502.2,397.6 502.5,397.5 502.8,397.5 503.2,397.4 503.5,397.4 503.8,397.4 504.1,397.4 504.5,397.4 504.8,397.5 505.1,397.5 505.4,397.6 505.7,397.7 506.1,397.8 506.4,397.9 506.7,398.0 507.0,398.1 507.4,398.3 507.7,398.4 508.0,398.5 508.3,398.6 508.7,398.8 509.0,398.9 509.3,399.0 509.6,399.1 510.0,399.2 510.3,399.2 510.6,399.3 510.9,399.3 511.2,399.3 511.6,399.3 511.9,399.2 512.2,399.2 512.5,399.1 512.9,399.0 513.2,398.9 513.5,398.8 513.8,398.7 514.2,398.5 514.5,398.4 514.8,398.3 515.1,398.2 515.5,398.1 515.8,398.0 516.1,397.9 516.4,397.8 516.8,397.7 517.1,397.6 517.4,397.6 517.7,397.5 518.0,397.5 518.4,397.5 518.7,397.5 519.0,397.5 519.3,397.5 519.7,397.6 520.0,397.6 520.3,397.7 520.6,397.7 521.0,397.8 521.3,397.9 521.6,398.0 521.9,398.1 522.3,398.2 522.6,398.2 522.9,398.3 523.2,398.4 523.5,398.5 523.9,398.5 524.2,398.6 524.5,398.6 524.8,398.6 525.2,398.6 525.5,398.6 525.8,398.6 526.1,398.6 526.5,398.6 526.8,398.5 527.1,398.5 527.4,398.4 527.8,398.4 528.1,398.3 528.4,398.3 528.7,398.2 529.0,398.1 529.4,398.1 529.7,398.0 530.0,397.9 530.3,397.9 530.7,397.8 531.0,397.8 531.3,397.7 531.6,397.7 532.0,397.6 532.3,397.6 532.6,397.6 532.9,397.5 533.3,397.5 533.6,397.5 533.9,397.5 534.2,397.5 534.6,397.5 534.9,397.6 535.2,397.6 535.5,397.6 535.8,397.6 536.2,397.7 536.5,397.7 536.8,397.8 537.1,397.8 537.5,397.9 537.8,397.9 538.1,397.9 538.4,398.0 538.8,398.0 539.1,398.0 539.4,398.0 539.7,398.1 540.1,398.1 540.4,398.1 540.7,398.1 541.0,398.1 541.3,398.1 541.7,398.1 542.0,398.1 542.3,398.1 542.6,398.1 543.0,398.1 543.3,398.0 543.6,398.0 543.9,398.0 544.3,398.0 544.6,397.9 544.9,397.9 545.2,397.9 545.6,397.8 545.9,397.8 546.2,397.8 546.5,397.7 546.9,397.7 547.2,397.7 547.5,397.7 547.8,397.6 548.1,397.6 548.5,397.6 548.8,397.6 549.1,397.6 549.4,397.6 549.8,397.6 550.1,397.6 550.4,397.6 550.7,397.7 551.1,397.7 551.4,397.7 551.7,397.7 552.0,397.8 552.4,397.8 552.7,397.8 553.0,397.8 553.3,397.9 553.6,397.9 554.0,397.9 554.3,397.9 554.6,398.0 554.9,398.0 555.3,398.0 555.6,398.0 555.9,398.0 556.2,398.0 556.6,398.1 556.9,398.1 557.2,398.1 557.5,398.1 557.9,398.1 558.2,398.0 558.5,398.0 558.8,398.0 559.1,398.0 559.5,398.0 559.8,398.0 560.1,397.9 560.4,397.9 560.8,397.9 561.1,397.9 561.4,397.9 561.7,397.8 562.1,397.8 562.4,397.8 562.7,397.8 563.0,397.8 563.4,397.8 563.7,397.8 564.0,397.8 564.3,397.8 564.7,397.8 565.0,397.8 565.3,397.8 565.6,397.8 565.9,397.8 566.3,397.8 566.6,397.8 566.9,397.8 567.2,397.8 567.6,397.8 567.9,397.8 568.2,397.9 568.5,397.9 568.9,397.9 569.2,397.9 569.5,397.9 569.8,397.9 570.2,398.0 570.5,398.0 570.8,398.0 571.1,398.0 571.4,398.0 571.8,398.0 572.1,398.0 572.4,398.0 572.7,398.0 573.1,398.0 573.4,398.0 573.7,398.0 574.0,398.0 574.4,397.9 574.7,397.9 575.0,397.9 575.3,397.9 575.7,397.9 576.0,397.9 576.3,397.9 576.6,397.9 576.9,397.8 577.3,397.8 577.6,397.8 577.9,397.8 578.2,397.8 578.6,397.8 578.9,397.8 579.2,397.8 579.5,397.8 579.9,397.8 580.2,397.8 580.5,397.8 580.8,397.8 581.2,397.8 581.5,397.8 581.8,397.8 582.1,397.8 582.5,397.8 582.8,397.8 583.1,397.8 583.4,397.8 583.7,397.8 584.1,397.9 584.4,397.9 584.7,397.9 585.0,397.9 585.4,397.9 585.7,397.9 586.0,397.9 586.3,397.9 586.7,397.9 587.0,397.9 587.3,397.9 587.6,397.9 588.0,397.9 588.3,397.9 588.6,397.9 588.9,397.9 589.2,397.9 589.6,397.9 589.9,397.9 590.2,397.9 590.5,397.9 590.9,397.9 591.2,397.9 591.5,397.8 591.8,397.8 592.2,397.8 592.5,397.8 592.8,397.8 593.1,397.8 593.5,397.8 593.8,397.8 594.1,397.8 594.4,397.8 594.8,397.8 595.1,397.8 595.4,397.8 595.7,397.8 596.0,397.8 596.4,397.8 596.7,397.8 597.0,397.8 597.3,397.8 597.7,397.8 598.0,397.8 598.3,397.8 598.6,397.8 599.0,397.8 599.3,397.8 599.6,397.8 599.9,397.9" stroke="#f00" stroke-width="2.5" stroke-linejoin="round"/>
</g>
<line x1="167.3" y1="461.2" x2="187.7" y2="461.2" stroke="#000" stroke-width="2.4"/>
<line x1="167.3" y1="499.3" x2="187.7" y2="499.3" stroke="#f00" stroke-width="2.4"/>
<line x1="566" y1="461.2" x2="583" y2="461.2" stroke="#5b53b0" stroke-width="2.3" stroke-dasharray="4.5 6.3"/>
<line x1="566" y1="499.1" x2="583" y2="499.1" stroke="#9fdf8f" stroke-width="2.2" stroke-dasharray="4.8 6.2"/>
<g fill="none" stroke="#000" stroke-width="1.4">
<path d="M129.6 452.2V475.6"/><path stroke-width="1.1" d="M146.2 450.3L152.6 462.6L146.2 474.9"/>
<path d="M129.6 490V513.5"/><path stroke-width="1.1" d="M146.2 488.2L152.6 500.5L146.2 512.8"/>
</g>
<g><line x1="178.7" y1="2.6" x2="178.7" y2="11.0" stroke="#000" stroke-width="1.4"/><line x1="178.7" y1="303.2" x2="178.7" y2="294.8" stroke="#000" stroke-width="1.4"/><line x1="274.4" y1="2.6" x2="274.4" y2="11.0" stroke="#000" stroke-width="1.4"/><line x1="274.4" y1="303.2" x2="274.4" y2="294.8" stroke="#000" stroke-width="1.4"/><line x1="370.0" y1="2.6" x2="370.0" y2="11.0" stroke="#000" stroke-width="1.4"/><line x1="370.0" y1="303.2" x2="370.0" y2="294.8" stroke="#000" stroke-width="1.4"/><line x1="465.7" y1="2.6" x2="465.7" y2="11.0" stroke="#000" stroke-width="1.4"/><line x1="465.7" y1="303.2" x2="465.7" y2="294.8" stroke="#000" stroke-width="1.4"/><line x1="83.1" y1="77.8" x2="92.3" y2="77.8" stroke="#000" stroke-width="1.4"/><line x1="561.3" y1="77.8" x2="552.8" y2="77.8" stroke="#000" stroke-width="1.4"/><line x1="83.1" y1="152.9" x2="92.3" y2="152.9" stroke="#000" stroke-width="1.4"/><line x1="561.3" y1="152.9" x2="552.8" y2="152.9" stroke="#000" stroke-width="1.4"/><line x1="83.1" y1="228.1" x2="92.3" y2="228.1" stroke="#000" stroke-width="1.4"/><line x1="561.3" y1="228.1" x2="552.8" y2="228.1" stroke="#000" stroke-width="1.4"/><line x1="573.2" y1="243.6" x2="581.6" y2="243.6" stroke="#222" stroke-width="1.3"/><line x1="597.0" y1="243.6" x2="588.6" y2="243.6" stroke="#222" stroke-width="1.3"/><line x1="573.2" y1="183.5" x2="581.6" y2="183.5" stroke="#222" stroke-width="1.3"/><line x1="597.0" y1="183.5" x2="588.6" y2="183.5" stroke="#222" stroke-width="1.3"/><line x1="573.2" y1="123.4" x2="581.6" y2="123.4" stroke="#222" stroke-width="1.3"/><line x1="597.0" y1="123.4" x2="588.6" y2="123.4" stroke="#222" stroke-width="1.3"/><line x1="573.2" y1="63.3" x2="581.6" y2="63.3" stroke="#222" stroke-width="1.3"/><line x1="597.0" y1="63.3" x2="588.6" y2="63.3" stroke="#222" stroke-width="1.3"/><line x1="147.1" y1="387.5" x2="147.1" y2="396.5" stroke="#333" stroke-width="1.3"/><line x1="147.1" y1="606.4" x2="147.1" y2="597.5" stroke="#333" stroke-width="1.3"/><line x1="211.8" y1="387.5" x2="211.8" y2="396.5" stroke="#333" stroke-width="1.3"/><line x1="211.8" y1="606.4" x2="211.8" y2="597.5" stroke="#333" stroke-width="1.3"/><line x1="276.6" y1="387.5" x2="276.6" y2="396.5" stroke="#333" stroke-width="1.3"/><line x1="276.6" y1="606.4" x2="276.6" y2="597.5" stroke="#333" stroke-width="1.3"/><line x1="341.3" y1="387.5" x2="341.3" y2="396.5" stroke="#333" stroke-width="1.3"/><line x1="341.3" y1="606.4" x2="341.3" y2="597.5" stroke="#333" stroke-width="1.3"/><line x1="406.0" y1="387.5" x2="406.0" y2="396.5" stroke="#333" stroke-width="1.3"/><line x1="406.0" y1="606.4" x2="406.0" y2="597.5" stroke="#333" stroke-width="1.3"/><line x1="470.8" y1="387.5" x2="470.8" y2="396.5" stroke="#333" stroke-width="1.3"/><line x1="470.8" y1="606.4" x2="470.8" y2="597.5" stroke="#333" stroke-width="1.3"/><line x1="535.5" y1="387.5" x2="535.5" y2="396.5" stroke="#333" stroke-width="1.3"/><line x1="535.5" y1="606.4" x2="535.5" y2="597.5" stroke="#333" stroke-width="1.3"/><line x1="82.4" y1="556.4" x2="90.4" y2="556.4" stroke="#333" stroke-width="1.3"/><line x1="82.4" y1="516.6" x2="90.4" y2="516.6" stroke="#333" stroke-width="1.3"/><line x1="82.4" y1="476.9" x2="90.4" y2="476.9" stroke="#333" stroke-width="1.3"/><line x1="82.4" y1="437.1" x2="90.4" y2="437.1" stroke="#333" stroke-width="1.3"/><line x1="600.4" y1="600.9" x2="592.6" y2="600.9" stroke="#333" stroke-width="1.3"/><line x1="600.4" y1="559.3" x2="592.6" y2="559.3" stroke="#333" stroke-width="1.3"/><line x1="600.4" y1="517.6" x2="592.6" y2="517.6" stroke="#333" stroke-width="1.3"/><line x1="600.4" y1="476.0" x2="592.6" y2="476.0" stroke="#333" stroke-width="1.3"/><line x1="600.4" y1="434.3" x2="592.6" y2="434.3" stroke="#333" stroke-width="1.3"/><line x1="600.4" y1="392.7" x2="592.6" y2="392.7" stroke="#333" stroke-width="1.3"/></g>
<rect x="83.1" y="2.6" width="478.2" height="300.6" fill="none" stroke="#000" stroke-width="2.2"/>
<rect x="82.4" y="387.5" width="518" height="219" fill="none" stroke="#000" stroke-width="2"/>
<g font-family="Liberation Serif" font-size="25" fill="#000"><text x="68.45" y="17.70" text-anchor="end" font-size="26">2.5</text><text x="68.45" y="86.95" text-anchor="end" font-size="26">2.3</text><text x="69.20" y="162.15" text-anchor="end" font-size="26">2.1</text><text x="68.70" y="237.10" text-anchor="end" font-size="26">1.9</text><text x="68.20" y="312.30" text-anchor="end" font-size="26">1.7</text><text x="87.27" y="335.10" text-anchor="middle" font-size="26">0</text><text x="182.03" y="334.85" text-anchor="middle" font-size="26">0.2</text><text x="278.07" y="334.85" text-anchor="middle" font-size="26">0.4</text><text x="372.55" y="334.85" text-anchor="middle" font-size="26">0.6</text><text x="468.50" y="334.85" text-anchor="middle" font-size="26">0.8</text><text x="564.18" y="335.10" text-anchor="middle" font-size="26">1</text><text x="611.10" y="19.20" text-anchor="start" font-size="26">1.0</text><text x="612.35" y="313.45" text-anchor="start" font-size="26">0.0</text><text x="612.35" y="252.15" text-anchor="start" font-size="26">0.2</text><text x="612.35" y="192.10" text-anchor="start" font-size="26">0.4</text><text x="612.35" y="132.05" text-anchor="start" font-size="26">0.6</text><text x="612.35" y="72.00" text-anchor="start" font-size="26">0.8</text><text x="68.00" y="605.50" text-anchor="end" font-size="26">0.0</text><text x="68.50" y="565.78" text-anchor="end" font-size="26">0.2</text><text x="67.50" y="526.06" text-anchor="end" font-size="26">0.4</text><text x="67.75" y="486.34" text-anchor="end" font-size="26">0.6</text><text x="68.00" y="446.62" text-anchor="end" font-size="26">0.8</text><text x="68.00" y="407.10" text-anchor="end" font-size="26">1.0</text><text x="615.20" y="610.15" text-anchor="start" font-size="26">0.0</text><text x="615.20" y="568.73" text-anchor="start" font-size="26">0.4</text><text x="615.20" y="527.06" text-anchor="start" font-size="26">0.8</text><text x="613.70" y="485.39" text-anchor="start" font-size="26">1.2</text><text x="613.70" y="443.72" text-anchor="start" font-size="26">1.6</text><text x="614.95" y="402.60" text-anchor="start" font-size="26">2.0</text><text x="83.09" y="634.65" text-anchor="middle" font-size="26">−40</text><text x="147.91" y="634.65" text-anchor="middle" font-size="26">−30</text><text x="212.60" y="634.65" text-anchor="middle" font-size="26">−20</text><text x="277.28" y="634.65" text-anchor="middle" font-size="26">−10</text><text x="341.28" y="634.65" text-anchor="middle" font-size="26">0</text><text x="405.34" y="634.65" text-anchor="middle" font-size="26">10</text><text x="470.78" y="634.65" text-anchor="middle" font-size="26">20</text><text x="535.35" y="634.65" text-anchor="middle" font-size="26">30</text><text x="600.41" y="634.65" text-anchor="middle" font-size="26">40</text><text transform="translate(341.88 664.70) scale(1.0036 1)" text-anchor="middle" font-size="25.5">Time (ps)</text><text transform="translate(552.30 470.80) scale(1.0014 1)" text-anchor="end" font-size="25.5">Optical</text><text transform="translate(552.50 508.40) scale(0.9967 1)" text-anchor="end" font-size="25.5">Acoustic</text><text transform="translate(675.70 154.30) rotate(-90) scale(0.9967 1)" text-anchor="middle" font-size="26.5">Occupation</text><text transform="translate(21.10 497.25) rotate(-90)" text-anchor="middle" font-size="25.5">Occupation</text><text transform="translate(680.35 497.03) rotate(-90) scale(0.9958 1)" text-anchor="middle" font-size="25.2">Amplitude (meV)</text><text y="366.6" font-size="26"><tspan x="260.2" font-style="italic" font-size="28">ħA</tspan><tspan x="292.3" font-size="22" dy="7.5">ac</tspan><tspan x="317" dy="-7.5" font-size="26.4">(meV)</tspan></text><text transform="translate(19.4 214.4) rotate(-90)" font-size="26"><tspan x="-0.8" font-style="italic" font-size="28">ħω</tspan><tspan x="30.6" font-size="22" dy="7.8">ac</tspan><tspan x="57.3" dy="-7.8" font-size="26.4">(meV)</tspan></text><text x="90.6" y="37.6" font-size="32" fill="#fff">(<tspan stroke="#fff" stroke-width="0.7">a</tspan>)</text><text x="88" y="428.7" font-size="31.5">(<tspan stroke="#000" stroke-width="0.7">b</tspan>)</text><text x="132.0" y="468.8" font-size="26">g</text><text x="132.4" y="507" font-size="26">x</text></g>
</svg></body></html>
